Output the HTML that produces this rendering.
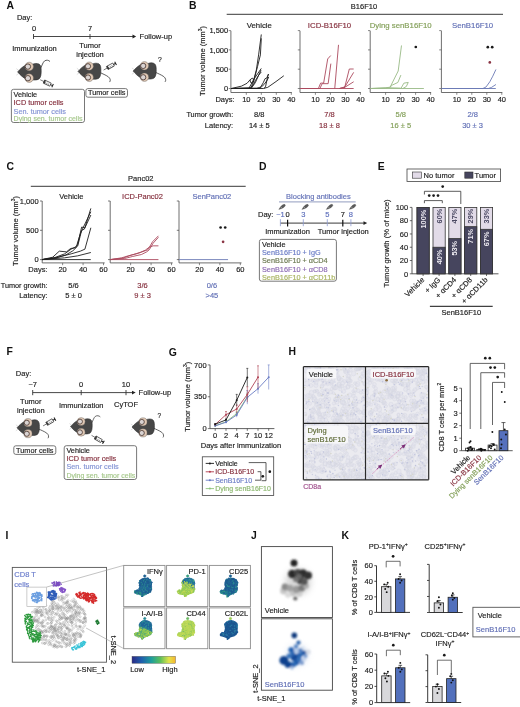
<!DOCTYPE html>
<html><head><meta charset="utf-8"><title>Figure</title>
<style>
html,body{margin:0;padding:0;background:#fff;}
body{width:520px;height:707px;overflow:hidden;}
svg{display:block;font-family:"Liberation Sans",Arial,Helvetica,sans-serif;}
</style></head><body>
<svg width="520" height="707" viewBox="0 0 520 707">
<rect width="520" height="707" fill="#fff"/>
<text x="6.40" y="9.20" font-size="10.4" fill="#111" font-weight="bold">A</text>
<text x="16.90" y="20.00" font-size="7.5" fill="#1e1e1e" stroke="#1e1e1e" stroke-width="0.16">Day:</text>
<text x="34.00" y="31.00" font-size="7.5" fill="#1e1e1e" stroke="#1e1e1e" stroke-width="0.16" text-anchor="middle">0</text>
<text x="90.00" y="31.00" font-size="7.5" fill="#1e1e1e" stroke="#1e1e1e" stroke-width="0.16" text-anchor="middle">7</text>
<line x1="33.50" y1="36.50" x2="133.50" y2="36.50" stroke="#333" stroke-width="0.9"/>
<path d="M132.5,34.6 L136.2,36.5 L132.5,38.4 Z" fill="#222" stroke="none" stroke-width="0.8"/>
<line x1="33.50" y1="34.00" x2="33.50" y2="39.00" stroke="#333" stroke-width="0.9"/>
<line x1="90.00" y1="34.00" x2="90.00" y2="39.00" stroke="#333" stroke-width="0.9"/>
<text x="139.60" y="39.20" font-size="7.5" fill="#1e1e1e" stroke="#1e1e1e" stroke-width="0.16">Follow-up</text>
<text x="34.50" y="50.90" font-size="7.5" fill="#1e1e1e" stroke="#1e1e1e" stroke-width="0.16" text-anchor="middle">Immunization</text>
<text x="90.00" y="48.00" font-size="7.5" fill="#1e1e1e" stroke="#1e1e1e" stroke-width="0.16" text-anchor="middle">Tumor</text>
<text x="90.00" y="56.90" font-size="7.5" fill="#1e1e1e" stroke="#1e1e1e" stroke-width="0.16" text-anchor="middle">injection</text>
<g transform="translate(17.60 71.90) scale(1.0)">
<path d="M23,-3.9 C24.6,-6.5 25.2,-9.6 27,-11 C28.8,-12.2 31,-11.8 32.4,-10.4" fill="none" stroke="#262626" stroke-width="0.75"/>
<path d="M0,0 C2.5,-2.8 5.5,-5.8 9,-7.2 L15,-7.6 C17,-8.6 19.5,-8.8 21.5,-7.8 C23.4,-6.6 23.6,-4 23.6,-1.5 C23.6,2 23.4,5.2 21.5,7 C19,8.6 15.5,8.2 13,7.6 L9,7.4 C5.5,6 2.5,2.8 0,0 Z" fill="#474747" stroke="#2a2a2a" stroke-width="0.6"/>
<circle cx="11.6" cy="-5.4" r="4.3" fill="#e0c8b4" stroke="#555" stroke-width="0.4"/>
<circle cx="10.3" cy="-5.3" r="2.7" fill="#d9d3d2" stroke="#3e2c26" stroke-width="0.8"/>
<circle cx="11.6" cy="6.2" r="4.3" fill="#e0c8b4" stroke="#555" stroke-width="0.4"/>
<circle cx="10.3" cy="6.3" r="2.7" fill="#d9d3d2" stroke="#3e2c26" stroke-width="0.8"/>
<path d="M1.2,-1.4 L-1.2,-3.2 M1.2,1.4 L-1.2,3.2" stroke="#aaa" stroke-width="0.4"/>
</g>
<g transform="translate(46.40 82.70) rotate(205.5) scale(0.9)">
<line x1="3.00" y1="0.00" x2="7.60" y2="0.00" stroke="#222" stroke-width="0.6"/>
<rect x="-5.00" y="-1.90" width="8.00" height="3.80" fill="#fafafa" stroke="#222" stroke-width="0.7"/>
<line x1="-2.80" y1="-1.90" x2="-2.80" y2="0.30" stroke="#333" stroke-width="0.5"/>
<line x1="-0.80" y1="-1.90" x2="-0.80" y2="0.30" stroke="#333" stroke-width="0.5"/>
<line x1="1.20" y1="-1.90" x2="1.20" y2="0.30" stroke="#333" stroke-width="0.5"/>
<rect x="1.40" y="-1.90" width="1.60" height="3.80" fill="#333" stroke="none" stroke-width="0.8"/>
<line x1="-5.00" y1="0.00" x2="-7.60" y2="0.00" stroke="#1a1a1a" stroke-width="1.1"/>
<line x1="-7.60" y1="-2.00" x2="-7.60" y2="2.00" stroke="#1a1a1a" stroke-width="1.1"/>
</g>
<g transform="translate(78.00 71.40) scale(0.97)">
<path d="M22.8,1.2 C25,2.4 28.5,3.6 31.3,5.6 C33.4,7.2 33.8,9.6 32.6,11" fill="none" stroke="#262626" stroke-width="0.75"/>
<path d="M0,0 C2.5,-2.8 5.5,-5.8 9,-7.2 L15,-7.6 C17,-8.6 19.5,-8.8 21.5,-7.8 C23.4,-6.6 23.6,-4 23.6,-1.5 C23.6,2 23.4,5.2 21.5,7 C19,8.6 15.5,8.2 13,7.6 L9,7.4 C5.5,6 2.5,2.8 0,0 Z" fill="#474747" stroke="#2a2a2a" stroke-width="0.6"/>
<circle cx="11.6" cy="-5.4" r="4.3" fill="#e0c8b4" stroke="#555" stroke-width="0.4"/>
<circle cx="10.3" cy="-5.3" r="2.7" fill="#d9d3d2" stroke="#3e2c26" stroke-width="0.8"/>
<circle cx="11.6" cy="6.2" r="4.3" fill="#e0c8b4" stroke="#555" stroke-width="0.4"/>
<circle cx="10.3" cy="6.3" r="2.7" fill="#d9d3d2" stroke="#3e2c26" stroke-width="0.8"/>
<path d="M1.2,-1.4 L-1.2,-3.2 M1.2,1.4 L-1.2,3.2" stroke="#aaa" stroke-width="0.4"/>
</g>
<g transform="translate(109.60 66.70) rotate(151) scale(0.9)">
<line x1="3.00" y1="0.00" x2="7.60" y2="0.00" stroke="#222" stroke-width="0.6"/>
<rect x="-5.00" y="-1.90" width="8.00" height="3.80" fill="#fafafa" stroke="#222" stroke-width="0.7"/>
<line x1="-2.80" y1="-1.90" x2="-2.80" y2="0.30" stroke="#333" stroke-width="0.5"/>
<line x1="-0.80" y1="-1.90" x2="-0.80" y2="0.30" stroke="#333" stroke-width="0.5"/>
<line x1="1.20" y1="-1.90" x2="1.20" y2="0.30" stroke="#333" stroke-width="0.5"/>
<rect x="1.40" y="-1.90" width="1.60" height="3.80" fill="#333" stroke="none" stroke-width="0.8"/>
<line x1="-5.00" y1="0.00" x2="-7.60" y2="0.00" stroke="#1a1a1a" stroke-width="1.1"/>
<line x1="-7.60" y1="-2.00" x2="-7.60" y2="2.00" stroke="#1a1a1a" stroke-width="1.1"/>
</g>
<g transform="translate(133.10 71.10) scale(0.98)">
<path d="M22.8,1.2 C25,2.4 28.5,3.6 31.3,5.6 C33.4,7.2 33.8,9.6 32.6,11" fill="none" stroke="#262626" stroke-width="0.75"/>
<path d="M0,0 C2.5,-2.8 5.5,-5.8 9,-7.2 L15,-7.6 C17,-8.6 19.5,-8.8 21.5,-7.8 C23.4,-6.6 23.6,-4 23.6,-1.5 C23.6,2 23.4,5.2 21.5,7 C19,8.6 15.5,8.2 13,7.6 L9,7.4 C5.5,6 2.5,2.8 0,0 Z" fill="#474747" stroke="#2a2a2a" stroke-width="0.6"/>
<circle cx="11.6" cy="-5.4" r="4.3" fill="#e0c8b4" stroke="#555" stroke-width="0.4"/>
<circle cx="10.3" cy="-5.3" r="2.7" fill="#d9d3d2" stroke="#3e2c26" stroke-width="0.8"/>
<circle cx="11.6" cy="6.2" r="4.3" fill="#e0c8b4" stroke="#555" stroke-width="0.4"/>
<circle cx="10.3" cy="6.3" r="2.7" fill="#d9d3d2" stroke="#3e2c26" stroke-width="0.8"/>
<path d="M1.2,-1.4 L-1.2,-3.2 M1.2,1.4 L-1.2,3.2" stroke="#aaa" stroke-width="0.4"/>
</g>
<text x="158.00" y="62.20" font-size="6.8" fill="#1e1e1e" stroke="#1e1e1e" stroke-width="0.16">?</text>
<rect x="11.40" y="89.30" width="73.10" height="33.20" fill="none" stroke="#555" stroke-width="0.8" rx="2.2"/>
<text x="13.60" y="97.00" font-size="7.3" fill="#1e1e1e" stroke="#1e1e1e" stroke-width="0.16">Vehicle</text>
<text x="13.60" y="105.40" font-size="7.3" fill="#86303e" stroke="#86303e" stroke-width="0.16">ICD tumor cells</text>
<text x="13.60" y="113.50" font-size="7.3" fill="#8494d4" stroke="#8494d4" stroke-width="0.16">Sen. tumor cells</text>
<text x="13.60" y="121.40" font-size="7.0" fill="#a6c88c" stroke="#a6c88c" stroke-width="0.16">Dying sen. tumor cells</text>
<rect x="85.90" y="88.60" width="41.60" height="8.60" fill="none" stroke="#555" stroke-width="0.8" rx="2.0"/>
<text x="106.70" y="95.40" font-size="7.3" fill="#1e1e1e" stroke="#1e1e1e" stroke-width="0.16" text-anchor="middle">Tumor cells</text>
<text x="189.00" y="9.20" font-size="10.4" fill="#111" font-weight="bold">B</text>
<text x="364.00" y="8.90" font-size="7.5" fill="#1e1e1e" stroke="#1e1e1e" stroke-width="0.16" text-anchor="middle">B16F10</text>
<line x1="226.70" y1="14.30" x2="503.00" y2="14.30" stroke="#222" stroke-width="0.9"/>
<text x="259.30" y="28.30" font-size="7.8" fill="#1e1e1e" stroke="#1e1e1e" stroke-width="0.16" text-anchor="middle">Vehicle</text>
<line x1="230.90" y1="30.80" x2="230.90" y2="92.50" stroke="#555" stroke-width="0.85"/>
<line x1="228.70" y1="88.50" x2="230.90" y2="88.50" stroke="#555" stroke-width="0.7"/>
<line x1="228.70" y1="69.20" x2="230.90" y2="69.20" stroke="#555" stroke-width="0.7"/>
<line x1="228.70" y1="49.90" x2="230.90" y2="49.90" stroke="#555" stroke-width="0.7"/>
<line x1="228.70" y1="30.60" x2="230.90" y2="30.60" stroke="#555" stroke-width="0.7"/>
<line x1="230.90" y1="92.50" x2="291.80" y2="92.50" stroke="#555" stroke-width="0.85"/>
<line x1="246.30" y1="92.50" x2="246.30" y2="94.80" stroke="#555" stroke-width="0.7"/>
<text x="246.30" y="101.70" font-size="7.5" fill="#1e1e1e" stroke="#1e1e1e" stroke-width="0.16" text-anchor="middle">10</text>
<line x1="261.30" y1="92.50" x2="261.30" y2="94.80" stroke="#555" stroke-width="0.7"/>
<text x="261.30" y="101.70" font-size="7.5" fill="#1e1e1e" stroke="#1e1e1e" stroke-width="0.16" text-anchor="middle">20</text>
<line x1="276.30" y1="92.50" x2="276.30" y2="94.80" stroke="#555" stroke-width="0.7"/>
<text x="276.30" y="101.70" font-size="7.5" fill="#1e1e1e" stroke="#1e1e1e" stroke-width="0.16" text-anchor="middle">30</text>
<line x1="291.30" y1="92.50" x2="291.30" y2="94.80" stroke="#555" stroke-width="0.7"/>
<text x="291.30" y="101.70" font-size="7.5" fill="#1e1e1e" stroke="#1e1e1e" stroke-width="0.16" text-anchor="middle">40</text>
<polyline points="231.30,88.50 241.35,86.18 247.05,83.29 250.05,79.81 252.30,78.08 253.80,79.62 256.35,69.97 258.60,54.92 261.30,34.46" fill="none" stroke="#1e1e1e" stroke-width="0.9" stroke-linejoin="round"/>
<polyline points="231.30,88.50 250.65,88.50 253.80,80.78 257.55,66.50 260.40,54.92 261.30,38.32" fill="none" stroke="#1e1e1e" stroke-width="0.9" stroke-linejoin="round"/>
<polyline points="231.30,88.50 248.85,88.50 253.80,79.24 261.30,68.43" fill="none" stroke="#1e1e1e" stroke-width="0.9" stroke-linejoin="round"/>
<polyline points="231.30,88.50 251.10,88.50 255.30,82.71 261.00,69.97" fill="none" stroke="#1e1e1e" stroke-width="0.9" stroke-linejoin="round"/>
<polyline points="231.30,88.50 250.80,87.73 253.05,85.03 255.30,80.78 258.30,75.76 261.30,71.90" fill="none" stroke="#1e1e1e" stroke-width="0.9" stroke-linejoin="round"/>
<polyline points="250.05,79.81 250.50,82.32 252.30,83.10 253.80,81.17 253.20,78.85" fill="none" stroke="#1e1e1e" stroke-width="0.9" stroke-linejoin="round"/>
<polyline points="231.30,88.50 259.80,88.50 263.25,82.71 265.05,78.66 266.70,78.08 268.50,74.03 267.60,76.92 265.65,86.18 264.30,88.50" fill="none" stroke="#1e1e1e" stroke-width="0.9" stroke-linejoin="round"/>
<polyline points="231.30,88.50 263.25,88.50 267.75,87.34 276.00,81.55 283.80,75.76" fill="none" stroke="#1e1e1e" stroke-width="0.9" stroke-linejoin="round"/>
<polyline points="231.30,88.50 256.80,88.11 261.30,86.96 264.30,84.25 267.30,80.01 268.80,76.92" fill="none" stroke="#1e1e1e" stroke-width="0.9" stroke-linejoin="round"/>
<text x="259.30" y="116.60" font-size="7.5" fill="#1e1e1e" stroke="#1e1e1e" stroke-width="0.16" text-anchor="middle">8/8</text>
<text x="259.30" y="128.20" font-size="7.5" fill="#1e1e1e" stroke="#1e1e1e" stroke-width="0.16" text-anchor="middle">14 &#177; 5</text>
<text x="234.60" y="101.70" font-size="7.5" fill="#1e1e1e" stroke="#1e1e1e" stroke-width="0.16" text-anchor="end">Days:</text>
<text x="233.20" y="116.60" font-size="7.3" fill="#1e1e1e" stroke="#1e1e1e" stroke-width="0.16" text-anchor="end">Tumor growth:</text>
<text x="233.20" y="128.20" font-size="7.5" fill="#1e1e1e" stroke="#1e1e1e" stroke-width="0.16" text-anchor="end">Latency:</text>
<text x="228.20" y="91.20" font-size="7.5" fill="#1e1e1e" stroke="#1e1e1e" stroke-width="0.16" text-anchor="end">0</text>
<text x="228.20" y="71.90" font-size="7.5" fill="#1e1e1e" stroke="#1e1e1e" stroke-width="0.16" text-anchor="end">500</text>
<text x="228.20" y="52.60" font-size="7.5" fill="#1e1e1e" stroke="#1e1e1e" stroke-width="0.16" text-anchor="end">1,000</text>
<text x="228.20" y="33.30" font-size="7.5" fill="#1e1e1e" stroke="#1e1e1e" stroke-width="0.16" text-anchor="end">1,500</text>
<text x="204.50" y="61.00" font-size="7.5" fill="#1e1e1e" stroke="#1e1e1e" stroke-width="0.16" text-anchor="middle" transform="rotate(-90 204.50 61.00)">Tumor volume (mm<tspan font-size="5" dy="-3">3</tspan><tspan dy="3">)</tspan></text>
<text x="329.50" y="28.30" font-size="7.8" fill="#86303e" stroke="#86303e" stroke-width="0.16" text-anchor="middle">ICD-B16F10</text>
<line x1="300.00" y1="30.80" x2="300.00" y2="92.50" stroke="#555" stroke-width="0.85"/>
<line x1="297.80" y1="88.50" x2="300.00" y2="88.50" stroke="#555" stroke-width="0.7"/>
<line x1="297.80" y1="69.20" x2="300.00" y2="69.20" stroke="#555" stroke-width="0.7"/>
<line x1="297.80" y1="49.90" x2="300.00" y2="49.90" stroke="#555" stroke-width="0.7"/>
<line x1="297.80" y1="30.60" x2="300.00" y2="30.60" stroke="#555" stroke-width="0.7"/>
<line x1="300.00" y1="92.50" x2="360.90" y2="92.50" stroke="#555" stroke-width="0.85"/>
<line x1="315.40" y1="92.50" x2="315.40" y2="94.80" stroke="#555" stroke-width="0.7"/>
<text x="315.40" y="101.70" font-size="7.5" fill="#1e1e1e" stroke="#1e1e1e" stroke-width="0.16" text-anchor="middle">10</text>
<line x1="330.40" y1="92.50" x2="330.40" y2="94.80" stroke="#555" stroke-width="0.7"/>
<text x="330.40" y="101.70" font-size="7.5" fill="#1e1e1e" stroke="#1e1e1e" stroke-width="0.16" text-anchor="middle">20</text>
<line x1="345.40" y1="92.50" x2="345.40" y2="94.80" stroke="#555" stroke-width="0.7"/>
<text x="345.40" y="101.70" font-size="7.5" fill="#1e1e1e" stroke="#1e1e1e" stroke-width="0.16" text-anchor="middle">30</text>
<line x1="360.40" y1="92.50" x2="360.40" y2="94.80" stroke="#555" stroke-width="0.7"/>
<text x="360.40" y="101.70" font-size="7.5" fill="#1e1e1e" stroke="#1e1e1e" stroke-width="0.16" text-anchor="middle">40</text>
<polyline points="300.40,88.50 353.65,88.50" fill="none" stroke="#ac4a5e" stroke-width="0.9" stroke-linejoin="round"/>
<polyline points="300.40,88.50 318.40,88.50 320.65,83.10 323.65,83.10 327.70,58.93 330.70,55.57" fill="none" stroke="#ac4a5e" stroke-width="0.9" stroke-linejoin="round"/>
<polyline points="300.40,88.50 319.90,88.50 322.15,83.67 328.15,83.67 330.85,63.64" fill="none" stroke="#ac4a5e" stroke-width="0.9" stroke-linejoin="round"/>
<polyline points="334.75,88.50 338.50,44.84" fill="none" stroke="#ac4a5e" stroke-width="0.9" stroke-linejoin="round"/>
<polyline points="339.40,88.50 344.80,86.96 349.30,69.01 353.65,69.01" fill="none" stroke="#ac4a5e" stroke-width="0.9" stroke-linejoin="round"/>
<polyline points="343.90,88.50 353.65,72.37" fill="none" stroke="#ac4a5e" stroke-width="0.9" stroke-linejoin="round"/>
<polyline points="339.40,88.50 345.40,86.96 353.65,81.78" fill="none" stroke="#ac4a5e" stroke-width="0.9" stroke-linejoin="round"/>
<text x="329.50" y="116.60" font-size="7.5" fill="#86303e" stroke="#86303e" stroke-width="0.16" text-anchor="middle">7/8</text>
<text x="329.50" y="128.20" font-size="7.5" fill="#86303e" stroke="#86303e" stroke-width="0.16" text-anchor="middle">18 &#177; 8</text>
<text x="400.70" y="28.30" font-size="7.8" fill="#84a05a" stroke="#84a05a" stroke-width="0.16" text-anchor="middle">Dying senB16F10</text>
<line x1="370.20" y1="30.80" x2="370.20" y2="92.50" stroke="#555" stroke-width="0.85"/>
<line x1="368.00" y1="88.50" x2="370.20" y2="88.50" stroke="#555" stroke-width="0.7"/>
<line x1="368.00" y1="69.20" x2="370.20" y2="69.20" stroke="#555" stroke-width="0.7"/>
<line x1="368.00" y1="49.90" x2="370.20" y2="49.90" stroke="#555" stroke-width="0.7"/>
<line x1="368.00" y1="30.60" x2="370.20" y2="30.60" stroke="#555" stroke-width="0.7"/>
<line x1="370.20" y1="92.50" x2="431.10" y2="92.50" stroke="#555" stroke-width="0.85"/>
<line x1="385.60" y1="92.50" x2="385.60" y2="94.80" stroke="#555" stroke-width="0.7"/>
<text x="385.60" y="101.70" font-size="7.5" fill="#1e1e1e" stroke="#1e1e1e" stroke-width="0.16" text-anchor="middle">10</text>
<line x1="400.60" y1="92.50" x2="400.60" y2="94.80" stroke="#555" stroke-width="0.7"/>
<text x="400.60" y="101.70" font-size="7.5" fill="#1e1e1e" stroke="#1e1e1e" stroke-width="0.16" text-anchor="middle">20</text>
<line x1="415.60" y1="92.50" x2="415.60" y2="94.80" stroke="#555" stroke-width="0.7"/>
<text x="415.60" y="101.70" font-size="7.5" fill="#1e1e1e" stroke="#1e1e1e" stroke-width="0.16" text-anchor="middle">30</text>
<line x1="430.60" y1="92.50" x2="430.60" y2="94.80" stroke="#555" stroke-width="0.7"/>
<text x="430.60" y="101.70" font-size="7.5" fill="#1e1e1e" stroke="#1e1e1e" stroke-width="0.16" text-anchor="middle">40</text>
<polyline points="370.60,88.50 423.85,88.50" fill="none" stroke="#98ba86" stroke-width="0.9" stroke-linejoin="round"/>
<polyline points="370.60,88.50 385.60,87.92 390.10,87.15 398.20,71.01 401.50,45.46" fill="none" stroke="#98ba86" stroke-width="0.9" stroke-linejoin="round"/>
<polyline points="390.10,87.15 392.20,85.14 397.90,82.44 400.90,75.07" fill="none" stroke="#98ba86" stroke-width="0.9" stroke-linejoin="round"/>
<polyline points="400.90,88.50 403.90,83.13 408.25,82.44 406.30,86.49 402.85,88.50" fill="none" stroke="#98ba86" stroke-width="0.9" stroke-linejoin="round"/>
<polyline points="370.60,88.50 388.60,87.73 400.60,88.11" fill="none" stroke="#98ba86" stroke-width="0.9" stroke-linejoin="round"/>
<text x="400.70" y="116.60" font-size="7.5" fill="#84a05a" stroke="#84a05a" stroke-width="0.16" text-anchor="middle">5/8</text>
<text x="400.70" y="128.20" font-size="7.5" fill="#84a05a" stroke="#84a05a" stroke-width="0.16" text-anchor="middle">16 &#177; 5</text>
<circle cx="415.80" cy="47.00" r="1.35" fill="#1a1a1a"/>
<text x="472.60" y="28.30" font-size="7.8" fill="#6270b6" stroke="#6270b6" stroke-width="0.16" text-anchor="middle">SenB16F10</text>
<line x1="441.40" y1="30.80" x2="441.40" y2="92.50" stroke="#555" stroke-width="0.85"/>
<line x1="439.20" y1="88.50" x2="441.40" y2="88.50" stroke="#555" stroke-width="0.7"/>
<line x1="439.20" y1="69.20" x2="441.40" y2="69.20" stroke="#555" stroke-width="0.7"/>
<line x1="439.20" y1="49.90" x2="441.40" y2="49.90" stroke="#555" stroke-width="0.7"/>
<line x1="439.20" y1="30.60" x2="441.40" y2="30.60" stroke="#555" stroke-width="0.7"/>
<line x1="441.40" y1="92.50" x2="502.30" y2="92.50" stroke="#555" stroke-width="0.85"/>
<line x1="456.80" y1="92.50" x2="456.80" y2="94.80" stroke="#555" stroke-width="0.7"/>
<text x="456.80" y="101.70" font-size="7.5" fill="#1e1e1e" stroke="#1e1e1e" stroke-width="0.16" text-anchor="middle">10</text>
<line x1="471.80" y1="92.50" x2="471.80" y2="94.80" stroke="#555" stroke-width="0.7"/>
<text x="471.80" y="101.70" font-size="7.5" fill="#1e1e1e" stroke="#1e1e1e" stroke-width="0.16" text-anchor="middle">20</text>
<line x1="486.80" y1="92.50" x2="486.80" y2="94.80" stroke="#555" stroke-width="0.7"/>
<text x="486.80" y="101.70" font-size="7.5" fill="#1e1e1e" stroke="#1e1e1e" stroke-width="0.16" text-anchor="middle">30</text>
<line x1="501.80" y1="92.50" x2="501.80" y2="94.80" stroke="#555" stroke-width="0.7"/>
<text x="501.80" y="101.70" font-size="7.5" fill="#1e1e1e" stroke="#1e1e1e" stroke-width="0.16" text-anchor="middle">40</text>
<polyline points="441.80,88.50 495.80,88.50" fill="none" stroke="#6c7ab6" stroke-width="0.9" stroke-linejoin="round"/>
<polyline points="441.80,88.50 482.90,88.50 486.05,86.96 489.80,81.78 492.80,76.15 495.95,69.43" fill="none" stroke="#6c7ab6" stroke-width="0.9" stroke-linejoin="round"/>
<polyline points="441.80,88.50 488.30,88.50 491.30,87.53 495.95,84.49" fill="none" stroke="#6c7ab6" stroke-width="0.9" stroke-linejoin="round"/>
<text x="472.60" y="116.60" font-size="7.5" fill="#6270b6" stroke="#6270b6" stroke-width="0.16" text-anchor="middle">2/8</text>
<text x="472.60" y="128.20" font-size="7.5" fill="#6270b6" stroke="#6270b6" stroke-width="0.16" text-anchor="middle">30 &#177; 3</text>
<circle cx="487.80" cy="47.20" r="1.35" fill="#1a1a1a"/>
<circle cx="492.20" cy="47.20" r="1.35" fill="#1a1a1a"/>
<circle cx="489.80" cy="62.40" r="1.35" fill="#8a3444"/>
<text x="6.40" y="169.80" font-size="10.4" fill="#111" font-weight="bold">C</text>
<text x="140.80" y="181.20" font-size="7.5" fill="#1e1e1e" stroke="#1e1e1e" stroke-width="0.16" text-anchor="middle">Panc02</text>
<line x1="30.80" y1="186.30" x2="245.70" y2="186.30" stroke="#222" stroke-width="0.9"/>
<text x="71.30" y="199.40" font-size="7.5" fill="#1e1e1e" stroke="#1e1e1e" stroke-width="0.16" text-anchor="middle">Vehicle</text>
<line x1="42.20" y1="201.00" x2="42.20" y2="262.90" stroke="#555" stroke-width="0.85"/>
<line x1="40.00" y1="259.60" x2="42.20" y2="259.60" stroke="#444" stroke-width="0.7"/>
<line x1="40.00" y1="230.30" x2="42.20" y2="230.30" stroke="#444" stroke-width="0.7"/>
<line x1="40.00" y1="201.00" x2="42.20" y2="201.00" stroke="#444" stroke-width="0.7"/>
<line x1="42.20" y1="262.90" x2="104.70" y2="262.90" stroke="#555" stroke-width="0.85"/>
<line x1="62.64" y1="262.90" x2="62.64" y2="265.20" stroke="#555" stroke-width="0.7"/>
<text x="62.64" y="271.50" font-size="7.5" fill="#1e1e1e" stroke="#1e1e1e" stroke-width="0.16" text-anchor="middle">20</text>
<line x1="83.08" y1="262.90" x2="83.08" y2="265.20" stroke="#555" stroke-width="0.7"/>
<text x="83.08" y="271.50" font-size="7.5" fill="#1e1e1e" stroke="#1e1e1e" stroke-width="0.16" text-anchor="middle">40</text>
<line x1="103.52" y1="262.90" x2="103.52" y2="265.20" stroke="#555" stroke-width="0.7"/>
<text x="103.52" y="271.50" font-size="7.5" fill="#1e1e1e" stroke="#1e1e1e" stroke-width="0.16" text-anchor="middle">60</text>
<polyline points="42.20,259.60 90.75,259.60" fill="none" stroke="#1e1e1e" stroke-width="0.9" stroke-linejoin="round"/>
<polyline points="42.20,259.60 52.73,257.20 59.27,251.16 66.52,251.86 70.51,248.52 75.11,247.82 77.66,244.48 81.65,227.08 84.92,227.78 90.85,208.38" fill="none" stroke="#1e1e1e" stroke-width="0.9" stroke-linejoin="round"/>
<polyline points="42.20,259.60 54.06,257.84 64.58,253.86 71.12,249.17 76.44,246.47 80.32,233.82 83.08,227.78 90.85,211.72" fill="none" stroke="#1e1e1e" stroke-width="0.9" stroke-linejoin="round"/>
<polyline points="42.20,259.60 55.38,258.14 65.91,254.91 72.86,250.81 77.66,246.12 81.65,230.30 84.31,229.13 90.85,215.06" fill="none" stroke="#1e1e1e" stroke-width="0.9" stroke-linejoin="round"/>
<polyline points="42.20,259.60 57.94,257.20 71.12,253.86 80.32,251.16 84.92,249.17 90.85,227.78" fill="none" stroke="#1e1e1e" stroke-width="0.9" stroke-linejoin="round"/>
<polyline points="42.20,259.60 64.58,257.84 77.66,255.85 90.85,252.51" fill="none" stroke="#1e1e1e" stroke-width="0.9" stroke-linejoin="round"/>
<text x="73.50" y="288.30" font-size="7.5" fill="#1e1e1e" stroke="#1e1e1e" stroke-width="0.16" text-anchor="middle">5/6</text>
<text x="73.50" y="298.30" font-size="7.5" fill="#1e1e1e" stroke="#1e1e1e" stroke-width="0.16" text-anchor="middle">5 &#177; 0</text>
<text x="47.50" y="271.50" font-size="7.5" fill="#1e1e1e" stroke="#1e1e1e" stroke-width="0.16" text-anchor="end">Days:</text>
<text x="47.50" y="288.30" font-size="7.3" fill="#1e1e1e" stroke="#1e1e1e" stroke-width="0.16" text-anchor="end">Tumor growth:</text>
<text x="47.50" y="298.30" font-size="7.5" fill="#1e1e1e" stroke="#1e1e1e" stroke-width="0.16" text-anchor="end">Latency:</text>
<text x="38.60" y="262.30" font-size="7.5" fill="#1e1e1e" stroke="#1e1e1e" stroke-width="0.16" text-anchor="end">0</text>
<text x="38.60" y="233.00" font-size="7.5" fill="#1e1e1e" stroke="#1e1e1e" stroke-width="0.16" text-anchor="end">500</text>
<text x="38.60" y="203.70" font-size="7.5" fill="#1e1e1e" stroke="#1e1e1e" stroke-width="0.16" text-anchor="end">1,000</text>
<text x="17.60" y="231.00" font-size="7.5" fill="#1e1e1e" stroke="#1e1e1e" stroke-width="0.16" text-anchor="middle" transform="rotate(-90 17.60 231.00)">Tumor volume (mm<tspan font-size="5" dy="-3">3</tspan><tspan dy="3">)</tspan></text>
<text x="142.50" y="199.40" font-size="7.5" fill="#86303e" stroke="#86303e" stroke-width="0.16" text-anchor="middle">ICD-Panc02</text>
<line x1="110.20" y1="201.00" x2="110.20" y2="262.90" stroke="#555" stroke-width="0.85"/>
<line x1="108.00" y1="259.60" x2="110.20" y2="259.60" stroke="#444" stroke-width="0.7"/>
<line x1="108.00" y1="230.30" x2="110.20" y2="230.30" stroke="#444" stroke-width="0.7"/>
<line x1="108.00" y1="201.00" x2="110.20" y2="201.00" stroke="#444" stroke-width="0.7"/>
<line x1="110.20" y1="262.90" x2="172.70" y2="262.90" stroke="#555" stroke-width="0.85"/>
<line x1="130.64" y1="262.90" x2="130.64" y2="265.20" stroke="#555" stroke-width="0.7"/>
<text x="130.64" y="271.50" font-size="7.5" fill="#1e1e1e" stroke="#1e1e1e" stroke-width="0.16" text-anchor="middle">20</text>
<line x1="151.08" y1="262.90" x2="151.08" y2="265.20" stroke="#555" stroke-width="0.7"/>
<text x="151.08" y="271.50" font-size="7.5" fill="#1e1e1e" stroke="#1e1e1e" stroke-width="0.16" text-anchor="middle">40</text>
<line x1="171.52" y1="262.90" x2="171.52" y2="265.20" stroke="#555" stroke-width="0.7"/>
<text x="171.52" y="271.50" font-size="7.5" fill="#1e1e1e" stroke="#1e1e1e" stroke-width="0.16" text-anchor="middle">60</text>
<polyline points="110.20,259.60 158.44,259.60" fill="none" stroke="#ac4a5e" stroke-width="0.9" stroke-linejoin="round"/>
<polyline points="110.20,259.60 121.65,257.84 128.19,255.85 136.16,253.86 144.03,251.16 147.91,249.81 152.51,241.79 158.44,235.81" fill="none" stroke="#ac4a5e" stroke-width="0.9" stroke-linejoin="round"/>
<polyline points="110.20,259.60 122.98,258.14 130.95,255.21 140.14,252.51 145.36,250.11 149.24,247.18 153.12,245.83 158.44,245.83" fill="none" stroke="#ac4a5e" stroke-width="0.9" stroke-linejoin="round"/>
<polyline points="110.20,259.60 124.41,258.55 132.28,256.55 141.47,254.50 146.69,251.86 149.24,249.81 153.12,243.19 158.44,237.33" fill="none" stroke="#ac4a5e" stroke-width="0.9" stroke-linejoin="round"/>
<text x="142.50" y="288.30" font-size="7.5" fill="#86303e" stroke="#86303e" stroke-width="0.16" text-anchor="middle">3/6</text>
<text x="142.50" y="298.30" font-size="7.5" fill="#86303e" stroke="#86303e" stroke-width="0.16" text-anchor="middle">9 &#177; 3</text>
<text x="211.90" y="199.40" font-size="7.5" fill="#6270b6" stroke="#6270b6" stroke-width="0.16" text-anchor="middle">SenPanc02</text>
<line x1="179.00" y1="201.00" x2="179.00" y2="262.90" stroke="#555" stroke-width="0.85"/>
<line x1="176.80" y1="259.60" x2="179.00" y2="259.60" stroke="#444" stroke-width="0.7"/>
<line x1="176.80" y1="230.30" x2="179.00" y2="230.30" stroke="#444" stroke-width="0.7"/>
<line x1="176.80" y1="201.00" x2="179.00" y2="201.00" stroke="#444" stroke-width="0.7"/>
<line x1="179.00" y1="262.90" x2="241.50" y2="262.90" stroke="#555" stroke-width="0.85"/>
<line x1="199.44" y1="262.90" x2="199.44" y2="265.20" stroke="#555" stroke-width="0.7"/>
<text x="199.44" y="271.50" font-size="7.5" fill="#1e1e1e" stroke="#1e1e1e" stroke-width="0.16" text-anchor="middle">20</text>
<line x1="219.88" y1="262.90" x2="219.88" y2="265.20" stroke="#555" stroke-width="0.7"/>
<text x="219.88" y="271.50" font-size="7.5" fill="#1e1e1e" stroke="#1e1e1e" stroke-width="0.16" text-anchor="middle">40</text>
<line x1="240.32" y1="262.90" x2="240.32" y2="265.20" stroke="#555" stroke-width="0.7"/>
<text x="240.32" y="271.50" font-size="7.5" fill="#1e1e1e" stroke="#1e1e1e" stroke-width="0.16" text-anchor="middle">60</text>
<polyline points="179.00,259.60 228.06,259.60" fill="none" stroke="#6c7ab6" stroke-width="0.9" stroke-linejoin="round"/>
<text x="211.90" y="288.30" font-size="7.5" fill="#6270b6" stroke="#6270b6" stroke-width="0.16" text-anchor="middle">0/6</text>
<text x="211.90" y="298.30" font-size="7.5" fill="#6270b6" stroke="#6270b6" stroke-width="0.16" text-anchor="middle">&gt;45</text>
<circle cx="220.60" cy="227.50" r="1.35" fill="#1a1a1a"/>
<circle cx="225.20" cy="227.50" r="1.35" fill="#1a1a1a"/>
<circle cx="223.10" cy="241.80" r="1.35" fill="#8a3444"/>
<text x="259.00" y="169.70" font-size="10.4" fill="#111" font-weight="bold">D</text>
<text x="318.40" y="198.60" font-size="7.5" fill="#6674b8" stroke="#6674b8" stroke-width="0.16" text-anchor="middle">Blocking antibodies</text>
<line x1="279.00" y1="201.80" x2="355.70" y2="201.80" stroke="#a8b0cc" stroke-width="1.2"/>
<g transform="translate(278.80 209.40) rotate(-36)"><path d="M0,0 L3,-1.1 C5,-1.6 7.2,-1.5 7.8,-0.4 C8.2,0.6 7.2,1.3 5,1.3 L3,1.1 Z" fill="#5a5a5a" stroke="#444" stroke-width="0.3"/><line x1="3.2" y1="-0.9" x2="3.2" y2="1.0" stroke="#ddd" stroke-width="0.4"/></g>
<g transform="translate(301.90 209.40) rotate(-36)"><path d="M0,0 L3,-1.1 C5,-1.6 7.2,-1.5 7.8,-0.4 C8.2,0.6 7.2,1.3 5,1.3 L3,1.1 Z" fill="#5a5a5a" stroke="#444" stroke-width="0.3"/><line x1="3.2" y1="-0.9" x2="3.2" y2="1.0" stroke="#ddd" stroke-width="0.4"/></g>
<g transform="translate(326.30 209.40) rotate(-36)"><path d="M0,0 L3,-1.1 C5,-1.6 7.2,-1.5 7.8,-0.4 C8.2,0.6 7.2,1.3 5,1.3 L3,1.1 Z" fill="#5a5a5a" stroke="#444" stroke-width="0.3"/><line x1="3.2" y1="-0.9" x2="3.2" y2="1.0" stroke="#ddd" stroke-width="0.4"/></g>
<g transform="translate(349.30 209.40) rotate(-36)"><path d="M0,0 L3,-1.1 C5,-1.6 7.2,-1.5 7.8,-0.4 C8.2,0.6 7.2,1.3 5,1.3 L3,1.1 Z" fill="#5a5a5a" stroke="#444" stroke-width="0.3"/><line x1="3.2" y1="-0.9" x2="3.2" y2="1.0" stroke="#ddd" stroke-width="0.4"/></g>
<text x="258.00" y="217.40" font-size="7.5" fill="#1e1e1e" stroke="#1e1e1e" stroke-width="0.16">Day:</text>
<text x="284.80" y="217.40" font-size="7.5" fill="#5f70bc" stroke="#5f70bc" stroke-width="0.16" text-anchor="end">&#8722;1</text>
<text x="287.60" y="217.40" font-size="7.5" fill="#1e1e1e" stroke="#1e1e1e" stroke-width="0.16" text-anchor="middle">0</text>
<text x="303.30" y="217.40" font-size="7.5" fill="#5f70bc" stroke="#5f70bc" stroke-width="0.16" text-anchor="middle">3</text>
<text x="327.30" y="217.40" font-size="7.5" fill="#5f70bc" stroke="#5f70bc" stroke-width="0.16" text-anchor="middle">5</text>
<text x="342.80" y="217.40" font-size="7.5" fill="#1e1e1e" stroke="#1e1e1e" stroke-width="0.16" text-anchor="middle">7</text>
<text x="350.90" y="217.40" font-size="7.5" fill="#5f70bc" stroke="#5f70bc" stroke-width="0.16" text-anchor="middle">8</text>
<line x1="280.40" y1="223.10" x2="364.50" y2="223.10" stroke="#222" stroke-width="0.9"/>
<path d="M363.5,221.2 L367.2,223.1 L363.5,225.0 Z" fill="#222" stroke="none" stroke-width="0.8"/>
<line x1="280.40" y1="219.20" x2="280.40" y2="226.20" stroke="#8d9ad0" stroke-width="0.8"/>
<line x1="303.30" y1="219.20" x2="303.30" y2="226.20" stroke="#8d9ad0" stroke-width="0.8"/>
<line x1="327.30" y1="219.20" x2="327.30" y2="226.20" stroke="#8d9ad0" stroke-width="0.8"/>
<line x1="350.90" y1="219.20" x2="350.90" y2="226.20" stroke="#8d9ad0" stroke-width="0.8"/>
<line x1="287.60" y1="219.80" x2="287.60" y2="226.40" stroke="#111" stroke-width="1.2"/>
<line x1="342.80" y1="219.80" x2="342.80" y2="226.40" stroke="#111" stroke-width="1.2"/>
<text x="287.60" y="233.50" font-size="7.5" fill="#1e1e1e" stroke="#1e1e1e" stroke-width="0.16" text-anchor="middle">Immunization</text>
<text x="343.30" y="233.50" font-size="7.5" fill="#1e1e1e" stroke="#1e1e1e" stroke-width="0.16" text-anchor="middle">Tumor injection</text>
<rect x="259.40" y="239.40" width="77.00" height="41.80" fill="none" stroke="#555" stroke-width="0.8" rx="2.2"/>
<text x="262.00" y="247.10" font-size="7.3" fill="#1e1e1e" stroke="#1e1e1e" stroke-width="0.16">Vehicle</text>
<text x="262.00" y="255.25" font-size="7.3" fill="#6a7cc6" stroke="#6a7cc6" stroke-width="0.16">SenB16F10 + IgG</text>
<text x="262.00" y="263.40" font-size="7.3" fill="#6c7a52" stroke="#6c7a52" stroke-width="0.16">SenB16F10 + &#945;CD4</text>
<text x="262.00" y="271.55" font-size="7.3" fill="#8e6cb4" stroke="#8e6cb4" stroke-width="0.16">SenB16F10 + &#945;CD8</text>
<text x="262.00" y="279.70" font-size="7.3" fill="#a9b460" stroke="#a9b460" stroke-width="0.16">SenB16F10 + &#945;CD11b</text>
<text x="377.80" y="169.80" font-size="10.4" fill="#111" font-weight="bold">E</text>
<rect x="407.00" y="169.00" width="93.60" height="12.40" fill="none" stroke="#444" stroke-width="0.8"/>
<rect x="412.30" y="172.00" width="9.00" height="6.20" fill="#e2dbe8" stroke="#333" stroke-width="0.6"/>
<text x="423.60" y="178.00" font-size="7.5" fill="#1e1e1e" stroke="#1e1e1e" stroke-width="0.16">No tumor</text>
<rect x="464.80" y="172.00" width="8.20" height="6.20" fill="#46455e" stroke="#333" stroke-width="0.6"/>
<text x="474.60" y="178.00" font-size="7.5" fill="#1e1e1e" stroke="#1e1e1e" stroke-width="0.16">Tumor</text>
<line x1="412.00" y1="207.40" x2="412.00" y2="273.80" stroke="#333" stroke-width="0.8"/>
<line x1="412.00" y1="273.80" x2="498.50" y2="273.80" stroke="#333" stroke-width="0.8"/>
<line x1="409.80" y1="273.80" x2="412.00" y2="273.80" stroke="#333" stroke-width="0.7"/>
<text x="408.20" y="276.50" font-size="7.5" fill="#1e1e1e" stroke="#1e1e1e" stroke-width="0.16" text-anchor="end">0</text>
<line x1="409.80" y1="260.52" x2="412.00" y2="260.52" stroke="#333" stroke-width="0.7"/>
<text x="408.20" y="263.22" font-size="7.5" fill="#1e1e1e" stroke="#1e1e1e" stroke-width="0.16" text-anchor="end">20</text>
<line x1="409.80" y1="247.24" x2="412.00" y2="247.24" stroke="#333" stroke-width="0.7"/>
<text x="408.20" y="249.94" font-size="7.5" fill="#1e1e1e" stroke="#1e1e1e" stroke-width="0.16" text-anchor="end">40</text>
<line x1="409.80" y1="233.96" x2="412.00" y2="233.96" stroke="#333" stroke-width="0.7"/>
<text x="408.20" y="236.66" font-size="7.5" fill="#1e1e1e" stroke="#1e1e1e" stroke-width="0.16" text-anchor="end">60</text>
<line x1="409.80" y1="220.68" x2="412.00" y2="220.68" stroke="#333" stroke-width="0.7"/>
<text x="408.20" y="223.38" font-size="7.5" fill="#1e1e1e" stroke="#1e1e1e" stroke-width="0.16" text-anchor="end">80</text>
<line x1="409.80" y1="207.40" x2="412.00" y2="207.40" stroke="#333" stroke-width="0.7"/>
<text x="408.20" y="210.10" font-size="7.5" fill="#1e1e1e" stroke="#1e1e1e" stroke-width="0.16" text-anchor="end">100</text>
<rect x="417.00" y="207.40" width="12.20" height="66.40" fill="#e2dbe8" stroke="#333" stroke-width="0.8"/>
<rect x="417.00" y="207.40" width="12.20" height="66.40" fill="#46455e" stroke="#333" stroke-width="0.8"/>
<text x="425.60" y="209.60" font-size="7.4" fill="#f0eef4" text-anchor="end" font-weight="bold" transform="rotate(-90 425.60 209.60)">100%</text>
<line x1="423.10" y1="273.80" x2="423.10" y2="276.00" stroke="#333" stroke-width="0.7"/>
<rect x="433.00" y="207.40" width="12.20" height="66.40" fill="#e2dbe8" stroke="#333" stroke-width="0.8"/>
<rect x="433.00" y="247.24" width="12.20" height="26.56" fill="#46455e" stroke="#333" stroke-width="0.8"/>
<text x="441.60" y="249.44" font-size="7.4" fill="#f0eef4" text-anchor="end" font-weight="bold" transform="rotate(-90 441.60 249.44)">40%</text>
<text x="441.60" y="208.60" font-size="7.4" fill="#4a4862" text-anchor="end" font-weight="bold" transform="rotate(-90 441.60 208.60)">60%</text>
<line x1="439.10" y1="273.80" x2="439.10" y2="276.00" stroke="#333" stroke-width="0.7"/>
<rect x="448.80" y="207.40" width="12.20" height="66.40" fill="#e2dbe8" stroke="#333" stroke-width="0.8"/>
<rect x="448.80" y="238.61" width="12.20" height="35.19" fill="#46455e" stroke="#333" stroke-width="0.8"/>
<text x="457.40" y="240.81" font-size="7.4" fill="#f0eef4" text-anchor="end" font-weight="bold" transform="rotate(-90 457.40 240.81)">53%</text>
<text x="457.40" y="208.60" font-size="7.4" fill="#4a4862" text-anchor="end" font-weight="bold" transform="rotate(-90 457.40 208.60)">47%</text>
<line x1="454.90" y1="273.80" x2="454.90" y2="276.00" stroke="#333" stroke-width="0.7"/>
<rect x="464.60" y="207.40" width="12.20" height="66.40" fill="#e2dbe8" stroke="#333" stroke-width="0.8"/>
<rect x="464.60" y="226.66" width="12.20" height="47.14" fill="#46455e" stroke="#333" stroke-width="0.8"/>
<text x="473.20" y="228.86" font-size="7.4" fill="#f0eef4" text-anchor="end" font-weight="bold" transform="rotate(-90 473.20 228.86)">71%</text>
<text x="473.20" y="208.60" font-size="7.4" fill="#4a4862" text-anchor="end" font-weight="bold" transform="rotate(-90 473.20 208.60)">29%</text>
<line x1="470.70" y1="273.80" x2="470.70" y2="276.00" stroke="#333" stroke-width="0.7"/>
<rect x="480.40" y="207.40" width="12.20" height="66.40" fill="#e2dbe8" stroke="#333" stroke-width="0.8"/>
<rect x="480.40" y="229.31" width="12.20" height="44.49" fill="#46455e" stroke="#333" stroke-width="0.8"/>
<text x="489.00" y="231.51" font-size="7.4" fill="#f0eef4" text-anchor="end" font-weight="bold" transform="rotate(-90 489.00 231.51)">67%</text>
<text x="489.00" y="208.60" font-size="7.4" fill="#4a4862" text-anchor="end" font-weight="bold" transform="rotate(-90 489.00 208.60)">33%</text>
<line x1="486.50" y1="273.80" x2="486.50" y2="276.00" stroke="#333" stroke-width="0.7"/>
<text x="389.30" y="243.50" font-size="7.7" fill="#1e1e1e" stroke="#1e1e1e" stroke-width="0.16" text-anchor="middle" transform="rotate(-90 389.30 243.50)">Tumor growth (% of mice)</text>
<path d="M424.4,194.5 L424.4,191.3 L460.8,191.3 L460.8,204.0" fill="none" stroke="#333" stroke-width="0.8"/>
<circle cx="442.70" cy="186.60" r="1.35" fill="#1a1a1a"/>
<path d="M424.4,203.2 L424.4,200.6 L442.3,200.6 L442.3,203.2" fill="none" stroke="#333" stroke-width="0.8"/>
<circle cx="429.20" cy="195.60" r="1.35" fill="#1a1a1a"/>
<circle cx="433.60" cy="195.60" r="1.35" fill="#1a1a1a"/>
<circle cx="438.00" cy="195.60" r="1.35" fill="#1a1a1a"/>
<text x="424.90" y="280.40" font-size="7.5" fill="#1e1e1e" stroke="#1e1e1e" stroke-width="0.16" text-anchor="end" transform="rotate(-45 424.90 280.40)">Vehicle</text>
<text x="440.90" y="280.40" font-size="7.5" fill="#1e1e1e" stroke="#1e1e1e" stroke-width="0.16" text-anchor="end" transform="rotate(-45 440.90 280.40)">+ IgG</text>
<text x="456.70" y="280.40" font-size="7.5" fill="#1e1e1e" stroke="#1e1e1e" stroke-width="0.16" text-anchor="end" transform="rotate(-45 456.70 280.40)">+ &#945;CD4</text>
<text x="472.50" y="280.40" font-size="7.5" fill="#1e1e1e" stroke="#1e1e1e" stroke-width="0.16" text-anchor="end" transform="rotate(-45 472.50 280.40)">+ &#945;CD8</text>
<text x="488.30" y="280.40" font-size="7.5" fill="#1e1e1e" stroke="#1e1e1e" stroke-width="0.16" text-anchor="end" transform="rotate(-45 488.30 280.40)">+ &#945;CD11b</text>
<line x1="429.90" y1="306.30" x2="492.70" y2="306.30" stroke="#111" stroke-width="1.0"/>
<text x="461.30" y="315.20" font-size="7.5" fill="#1e1e1e" stroke="#1e1e1e" stroke-width="0.16" text-anchor="middle">SenB16F10</text>
<text x="6.40" y="354.50" font-size="10.4" fill="#111" font-weight="bold">F</text>
<text x="15.80" y="375.70" font-size="7.5" fill="#1e1e1e" stroke="#1e1e1e" stroke-width="0.16">Day:</text>
<text x="32.70" y="387.30" font-size="7.5" fill="#1e1e1e" stroke="#1e1e1e" stroke-width="0.16" text-anchor="middle">&#8722;7</text>
<text x="81.20" y="387.30" font-size="7.5" fill="#1e1e1e" stroke="#1e1e1e" stroke-width="0.16" text-anchor="middle">0</text>
<text x="126.00" y="387.30" font-size="7.5" fill="#1e1e1e" stroke="#1e1e1e" stroke-width="0.16" text-anchor="middle">10</text>
<line x1="32.70" y1="392.60" x2="133.00" y2="392.60" stroke="#333" stroke-width="0.9"/>
<path d="M132.0,390.7 L135.7,392.6 L132.0,394.5 Z" fill="#222" stroke="none" stroke-width="0.8"/>
<line x1="32.70" y1="390.00" x2="32.70" y2="395.20" stroke="#333" stroke-width="0.9"/>
<line x1="81.20" y1="390.00" x2="81.20" y2="395.20" stroke="#333" stroke-width="0.9"/>
<line x1="126.00" y1="390.00" x2="126.00" y2="395.20" stroke="#333" stroke-width="0.9"/>
<text x="138.60" y="395.30" font-size="7.5" fill="#1e1e1e" stroke="#1e1e1e" stroke-width="0.16">Follow-up</text>
<text x="30.80" y="403.90" font-size="7.5" fill="#1e1e1e" stroke="#1e1e1e" stroke-width="0.16" text-anchor="middle">Tumor</text>
<text x="30.80" y="412.70" font-size="7.5" fill="#1e1e1e" stroke="#1e1e1e" stroke-width="0.16" text-anchor="middle">injection</text>
<text x="81.20" y="407.60" font-size="7.5" fill="#1e1e1e" stroke="#1e1e1e" stroke-width="0.16" text-anchor="middle">Immunization</text>
<text x="126.00" y="407.00" font-size="7.5" fill="#1e1e1e" stroke="#1e1e1e" stroke-width="0.16" text-anchor="middle">CyTOF</text>
<g transform="translate(17.00 427.80) scale(0.95)">
<path d="M22.8,1.2 C25,2.4 28.5,3.6 31.3,5.6 C33.4,7.2 33.8,9.6 32.6,11" fill="none" stroke="#262626" stroke-width="0.75"/>
<path d="M0,0 C2.5,-2.8 5.5,-5.8 9,-7.2 L15,-7.6 C17,-8.6 19.5,-8.8 21.5,-7.8 C23.4,-6.6 23.6,-4 23.6,-1.5 C23.6,2 23.4,5.2 21.5,7 C19,8.6 15.5,8.2 13,7.6 L9,7.4 C5.5,6 2.5,2.8 0,0 Z" fill="#474747" stroke="#2a2a2a" stroke-width="0.6"/>
<circle cx="11.6" cy="-5.4" r="4.3" fill="#e0c8b4" stroke="#555" stroke-width="0.4"/>
<circle cx="10.3" cy="-5.3" r="2.7" fill="#d9d3d2" stroke="#3e2c26" stroke-width="0.8"/>
<circle cx="11.6" cy="6.2" r="4.3" fill="#e0c8b4" stroke="#555" stroke-width="0.4"/>
<circle cx="10.3" cy="6.3" r="2.7" fill="#d9d3d2" stroke="#3e2c26" stroke-width="0.8"/>
<path d="M1.2,-1.4 L-1.2,-3.2 M1.2,1.4 L-1.2,3.2" stroke="#aaa" stroke-width="0.4"/>
</g>
<g transform="translate(49.00 422.50) rotate(150) scale(0.9)">
<line x1="3.00" y1="0.00" x2="7.60" y2="0.00" stroke="#222" stroke-width="0.6"/>
<rect x="-5.00" y="-1.90" width="8.00" height="3.80" fill="#fafafa" stroke="#222" stroke-width="0.7"/>
<line x1="-2.80" y1="-1.90" x2="-2.80" y2="0.30" stroke="#333" stroke-width="0.5"/>
<line x1="-0.80" y1="-1.90" x2="-0.80" y2="0.30" stroke="#333" stroke-width="0.5"/>
<line x1="1.20" y1="-1.90" x2="1.20" y2="0.30" stroke="#333" stroke-width="0.5"/>
<rect x="1.40" y="-1.90" width="1.60" height="3.80" fill="#333" stroke="none" stroke-width="0.8"/>
<line x1="-5.00" y1="0.00" x2="-7.60" y2="0.00" stroke="#1a1a1a" stroke-width="1.1"/>
<line x1="-7.60" y1="-2.00" x2="-7.60" y2="2.00" stroke="#1a1a1a" stroke-width="1.1"/>
</g>
<g transform="translate(70.50 426.50) scale(0.92)">
<path d="M23,-3.9 C24.6,-6.5 25.2,-9.6 27,-11 C28.8,-12.2 31,-11.8 32.4,-10.4" fill="none" stroke="#262626" stroke-width="0.75"/>
<path d="M0,0 C2.5,-2.8 5.5,-5.8 9,-7.2 L15,-7.6 C17,-8.6 19.5,-8.8 21.5,-7.8 C23.4,-6.6 23.6,-4 23.6,-1.5 C23.6,2 23.4,5.2 21.5,7 C19,8.6 15.5,8.2 13,7.6 L9,7.4 C5.5,6 2.5,2.8 0,0 Z" fill="#474747" stroke="#2a2a2a" stroke-width="0.6"/>
<circle cx="11.6" cy="-5.4" r="4.3" fill="#e0c8b4" stroke="#555" stroke-width="0.4"/>
<circle cx="10.3" cy="-5.3" r="2.7" fill="#d9d3d2" stroke="#3e2c26" stroke-width="0.8"/>
<circle cx="11.6" cy="6.2" r="4.3" fill="#e0c8b4" stroke="#555" stroke-width="0.4"/>
<circle cx="10.3" cy="6.3" r="2.7" fill="#d9d3d2" stroke="#3e2c26" stroke-width="0.8"/>
<path d="M1.2,-1.4 L-1.2,-3.2 M1.2,1.4 L-1.2,3.2" stroke="#aaa" stroke-width="0.4"/>
</g>
<g transform="translate(97.50 438.80) rotate(210) scale(0.9)">
<line x1="3.00" y1="0.00" x2="7.60" y2="0.00" stroke="#222" stroke-width="0.6"/>
<rect x="-5.00" y="-1.90" width="8.00" height="3.80" fill="#fafafa" stroke="#222" stroke-width="0.7"/>
<line x1="-2.80" y1="-1.90" x2="-2.80" y2="0.30" stroke="#333" stroke-width="0.5"/>
<line x1="-0.80" y1="-1.90" x2="-0.80" y2="0.30" stroke="#333" stroke-width="0.5"/>
<line x1="1.20" y1="-1.90" x2="1.20" y2="0.30" stroke="#333" stroke-width="0.5"/>
<rect x="1.40" y="-1.90" width="1.60" height="3.80" fill="#333" stroke="none" stroke-width="0.8"/>
<line x1="-5.00" y1="0.00" x2="-7.60" y2="0.00" stroke="#1a1a1a" stroke-width="1.1"/>
<line x1="-7.60" y1="-2.00" x2="-7.60" y2="2.00" stroke="#1a1a1a" stroke-width="1.1"/>
</g>
<g transform="translate(132.00 427.00) scale(0.95)">
<path d="M22.8,1.2 C25,2.4 28.5,3.6 31.3,5.6 C33.4,7.2 33.8,9.6 32.6,11" fill="none" stroke="#262626" stroke-width="0.75"/>
<path d="M0,0 C2.5,-2.8 5.5,-5.8 9,-7.2 L15,-7.6 C17,-8.6 19.5,-8.8 21.5,-7.8 C23.4,-6.6 23.6,-4 23.6,-1.5 C23.6,2 23.4,5.2 21.5,7 C19,8.6 15.5,8.2 13,7.6 L9,7.4 C5.5,6 2.5,2.8 0,0 Z" fill="#474747" stroke="#2a2a2a" stroke-width="0.6"/>
<circle cx="11.6" cy="-5.4" r="4.3" fill="#e0c8b4" stroke="#555" stroke-width="0.4"/>
<circle cx="10.3" cy="-5.3" r="2.7" fill="#d9d3d2" stroke="#3e2c26" stroke-width="0.8"/>
<circle cx="11.6" cy="6.2" r="4.3" fill="#e0c8b4" stroke="#555" stroke-width="0.4"/>
<circle cx="10.3" cy="6.3" r="2.7" fill="#d9d3d2" stroke="#3e2c26" stroke-width="0.8"/>
<path d="M1.2,-1.4 L-1.2,-3.2 M1.2,1.4 L-1.2,3.2" stroke="#aaa" stroke-width="0.4"/>
</g>
<text x="157.50" y="418.00" font-size="6.5" fill="#1e1e1e" stroke="#1e1e1e" stroke-width="0.16">?</text>
<rect x="13.80" y="445.80" width="42.00" height="8.60" fill="none" stroke="#555" stroke-width="0.8" rx="2.0"/>
<text x="34.80" y="452.60" font-size="7.3" fill="#1e1e1e" stroke="#1e1e1e" stroke-width="0.16" text-anchor="middle">Tumor cells</text>
<rect x="64.20" y="445.70" width="72.40" height="33.80" fill="none" stroke="#555" stroke-width="0.8" rx="2.2"/>
<text x="66.40" y="453.10" font-size="7.3" fill="#1e1e1e" stroke="#1e1e1e" stroke-width="0.16">Vehicle</text>
<text x="66.40" y="461.00" font-size="7.3" fill="#86303e" stroke="#86303e" stroke-width="0.16">ICD tumor cells</text>
<text x="66.40" y="469.00" font-size="7.3" fill="#8494d4" stroke="#8494d4" stroke-width="0.16">Sen. tumor cells</text>
<text x="66.40" y="477.60" font-size="7.0" fill="#a6c88c" stroke="#a6c88c" stroke-width="0.16">Dying sen. tumor cells</text>
<text x="168.80" y="355.50" font-size="10.4" fill="#111" font-weight="bold">G</text>
<line x1="210.00" y1="364.90" x2="210.00" y2="428.60" stroke="#444" stroke-width="0.85"/>
<line x1="210.00" y1="428.60" x2="274.40" y2="428.60" stroke="#444" stroke-width="0.85"/>
<line x1="207.80" y1="428.60" x2="210.00" y2="428.60" stroke="#444" stroke-width="0.7"/>
<text x="206.60" y="431.30" font-size="7.5" fill="#1e1e1e" stroke="#1e1e1e" stroke-width="0.16" text-anchor="end">0</text>
<line x1="207.80" y1="396.75" x2="210.00" y2="396.75" stroke="#444" stroke-width="0.7"/>
<text x="206.60" y="399.45" font-size="7.5" fill="#1e1e1e" stroke="#1e1e1e" stroke-width="0.16" text-anchor="end">350</text>
<line x1="207.80" y1="364.90" x2="210.00" y2="364.90" stroke="#444" stroke-width="0.7"/>
<text x="206.60" y="367.60" font-size="7.5" fill="#1e1e1e" stroke="#1e1e1e" stroke-width="0.16" text-anchor="end">700</text>
<line x1="215.20" y1="428.60" x2="215.20" y2="430.80" stroke="#333" stroke-width="0.7"/>
<text x="215.20" y="438.00" font-size="7.5" fill="#1e1e1e" stroke="#1e1e1e" stroke-width="0.16" text-anchor="middle">0</text>
<line x1="226.00" y1="428.60" x2="226.00" y2="430.80" stroke="#333" stroke-width="0.7"/>
<text x="226.00" y="438.00" font-size="7.5" fill="#1e1e1e" stroke="#1e1e1e" stroke-width="0.16" text-anchor="middle">2</text>
<line x1="236.70" y1="428.60" x2="236.70" y2="430.80" stroke="#333" stroke-width="0.7"/>
<text x="236.70" y="438.00" font-size="7.5" fill="#1e1e1e" stroke="#1e1e1e" stroke-width="0.16" text-anchor="middle">4</text>
<line x1="247.30" y1="428.60" x2="247.30" y2="430.80" stroke="#333" stroke-width="0.7"/>
<text x="247.30" y="438.00" font-size="7.5" fill="#1e1e1e" stroke="#1e1e1e" stroke-width="0.16" text-anchor="middle">7</text>
<line x1="258.00" y1="428.60" x2="258.00" y2="430.80" stroke="#333" stroke-width="0.7"/>
<text x="258.00" y="438.00" font-size="7.5" fill="#1e1e1e" stroke="#1e1e1e" stroke-width="0.16" text-anchor="middle">10</text>
<line x1="268.70" y1="428.60" x2="268.70" y2="430.80" stroke="#333" stroke-width="0.7"/>
<text x="268.70" y="438.00" font-size="7.5" fill="#1e1e1e" stroke="#1e1e1e" stroke-width="0.16" text-anchor="middle">12</text>
<text x="241.00" y="448.00" font-size="7.5" fill="#1e1e1e" stroke="#1e1e1e" stroke-width="0.16" text-anchor="middle">Days after immunization</text>
<text x="189.60" y="396.80" font-size="7.5" fill="#1e1e1e" stroke="#1e1e1e" stroke-width="0.16" text-anchor="middle" transform="rotate(-90 189.60 396.80)">Tumor volume (mm<tspan font-size="5" dy="-3">3</tspan><tspan dy="3">)</tspan></text>
<line x1="215.20" y1="425.42" x2="215.20" y2="426.33" stroke="#8ec47c" stroke-width="0.6"/>
<line x1="214.20" y1="425.42" x2="216.20" y2="425.42" stroke="#8ec47c" stroke-width="0.6"/>
<line x1="226.00" y1="420.87" x2="226.00" y2="422.69" stroke="#8ec47c" stroke-width="0.6"/>
<line x1="225.00" y1="420.87" x2="227.00" y2="420.87" stroke="#8ec47c" stroke-width="0.6"/>
<line x1="236.70" y1="411.76" x2="236.70" y2="415.41" stroke="#8ec47c" stroke-width="0.6"/>
<line x1="235.70" y1="411.76" x2="237.70" y2="411.76" stroke="#8ec47c" stroke-width="0.6"/>
<line x1="247.30" y1="393.11" x2="247.30" y2="400.39" stroke="#8ec47c" stroke-width="0.6"/>
<line x1="246.30" y1="393.11" x2="248.30" y2="393.11" stroke="#8ec47c" stroke-width="0.6"/>
<polyline points="215.20,425.87 226.00,421.78 236.70,413.59 247.30,396.75" fill="none" stroke="#8ec47c" stroke-width="0.9" stroke-linejoin="round"/>
<circle cx="215.20" cy="425.87" r="1.00" fill="#8ec47c"/>
<circle cx="226.00" cy="421.78" r="1.00" fill="#8ec47c"/>
<circle cx="236.70" cy="413.59" r="1.00" fill="#8ec47c"/>
<circle cx="247.30" cy="396.75" r="1.00" fill="#8ec47c"/>
<line x1="215.20" y1="425.42" x2="215.20" y2="426.33" stroke="#6a7cc4" stroke-width="0.6"/>
<line x1="214.20" y1="425.42" x2="216.20" y2="425.42" stroke="#6a7cc4" stroke-width="0.6"/>
<line x1="226.00" y1="421.32" x2="226.00" y2="423.14" stroke="#6a7cc4" stroke-width="0.6"/>
<line x1="225.00" y1="421.32" x2="227.00" y2="421.32" stroke="#6a7cc4" stroke-width="0.6"/>
<line x1="236.70" y1="412.68" x2="236.70" y2="417.23" stroke="#6a7cc4" stroke-width="0.6"/>
<line x1="235.70" y1="412.68" x2="237.70" y2="412.68" stroke="#6a7cc4" stroke-width="0.6"/>
<line x1="247.30" y1="390.56" x2="247.30" y2="404.21" stroke="#6a7cc4" stroke-width="0.6"/>
<line x1="246.30" y1="390.56" x2="248.30" y2="390.56" stroke="#6a7cc4" stroke-width="0.6"/>
<line x1="258.00" y1="383.65" x2="258.00" y2="393.66" stroke="#6a7cc4" stroke-width="0.6"/>
<line x1="257.00" y1="383.65" x2="259.00" y2="383.65" stroke="#6a7cc4" stroke-width="0.6"/>
<line x1="268.70" y1="364.90" x2="268.70" y2="389.47" stroke="#6a7cc4" stroke-width="0.6"/>
<line x1="267.70" y1="364.90" x2="269.70" y2="364.90" stroke="#6a7cc4" stroke-width="0.6"/>
<polyline points="215.20,425.87 226.00,422.23 236.70,414.95 247.30,397.39 258.00,388.65 268.70,377.19" fill="none" stroke="#6a7cc4" stroke-width="0.9" stroke-linejoin="round"/>
<circle cx="215.20" cy="425.87" r="1.00" fill="#6a7cc4"/>
<circle cx="226.00" cy="422.23" r="1.00" fill="#6a7cc4"/>
<circle cx="236.70" cy="414.95" r="1.00" fill="#6a7cc4"/>
<circle cx="247.30" cy="397.39" r="1.00" fill="#6a7cc4"/>
<circle cx="258.00" cy="388.65" r="1.00" fill="#6a7cc4"/>
<circle cx="268.70" cy="377.19" r="1.00" fill="#6a7cc4"/>
<line x1="215.20" y1="424.05" x2="215.20" y2="424.96" stroke="#b04456" stroke-width="0.6"/>
<line x1="214.20" y1="424.05" x2="216.20" y2="424.05" stroke="#b04456" stroke-width="0.6"/>
<line x1="226.00" y1="411.49" x2="226.00" y2="417.86" stroke="#b04456" stroke-width="0.6"/>
<line x1="225.00" y1="411.49" x2="227.00" y2="411.49" stroke="#b04456" stroke-width="0.6"/>
<line x1="236.70" y1="404.94" x2="236.70" y2="413.13" stroke="#b04456" stroke-width="0.6"/>
<line x1="235.70" y1="404.94" x2="237.70" y2="404.94" stroke="#b04456" stroke-width="0.6"/>
<line x1="247.30" y1="386.74" x2="247.30" y2="402.21" stroke="#b04456" stroke-width="0.6"/>
<line x1="246.30" y1="386.74" x2="248.30" y2="386.74" stroke="#b04456" stroke-width="0.6"/>
<line x1="258.00" y1="365.81" x2="258.00" y2="388.56" stroke="#b04456" stroke-width="0.6"/>
<line x1="257.00" y1="365.81" x2="259.00" y2="365.81" stroke="#b04456" stroke-width="0.6"/>
<polyline points="215.20,424.50 226.00,414.68 236.70,409.04 247.30,394.48 258.00,377.19" fill="none" stroke="#b04456" stroke-width="0.9" stroke-linejoin="round"/>
<circle cx="215.20" cy="424.50" r="1.00" fill="#b04456"/>
<circle cx="226.00" cy="414.68" r="1.00" fill="#b04456"/>
<circle cx="236.70" cy="409.04" r="1.00" fill="#b04456"/>
<circle cx="247.30" cy="394.48" r="1.00" fill="#b04456"/>
<circle cx="258.00" cy="377.19" r="1.00" fill="#b04456"/>
<line x1="215.20" y1="423.78" x2="215.20" y2="424.69" stroke="#1a1a1a" stroke-width="0.6"/>
<line x1="214.20" y1="423.78" x2="216.20" y2="423.78" stroke="#1a1a1a" stroke-width="0.6"/>
<line x1="226.00" y1="418.95" x2="226.00" y2="420.77" stroke="#1a1a1a" stroke-width="0.6"/>
<line x1="225.00" y1="418.95" x2="227.00" y2="418.95" stroke="#1a1a1a" stroke-width="0.6"/>
<line x1="236.70" y1="394.38" x2="236.70" y2="406.21" stroke="#1a1a1a" stroke-width="0.6"/>
<line x1="235.70" y1="394.38" x2="237.70" y2="394.38" stroke="#1a1a1a" stroke-width="0.6"/>
<line x1="247.30" y1="368.36" x2="247.30" y2="386.56" stroke="#1a1a1a" stroke-width="0.6"/>
<line x1="246.30" y1="368.36" x2="248.30" y2="368.36" stroke="#1a1a1a" stroke-width="0.6"/>
<polyline points="215.20,424.23 226.00,419.86 236.70,400.30 247.30,377.46" fill="none" stroke="#1a1a1a" stroke-width="0.9" stroke-linejoin="round"/>
<circle cx="215.20" cy="424.23" r="1.00" fill="#1a1a1a"/>
<circle cx="226.00" cy="419.86" r="1.00" fill="#1a1a1a"/>
<circle cx="236.70" cy="400.30" r="1.00" fill="#1a1a1a"/>
<circle cx="247.30" cy="377.46" r="1.00" fill="#1a1a1a"/>
<rect x="202.30" y="456.80" width="71.40" height="38.60" fill="none" stroke="#444" stroke-width="0.8"/>
<line x1="205.70" y1="463.40" x2="214.00" y2="463.40" stroke="#1a1a1a" stroke-width="0.9"/>
<circle cx="209.90" cy="463.40" r="1.00" fill="#1a1a1a"/>
<text x="215.20" y="465.90" font-size="7.0" fill="#1e1e1e" stroke="#1e1e1e" stroke-width="0.16">Vehicle</text>
<line x1="205.70" y1="471.80" x2="214.00" y2="471.80" stroke="#b23a4c" stroke-width="0.9"/>
<circle cx="209.90" cy="471.80" r="1.00" fill="#b23a4c"/>
<text x="215.20" y="474.30" font-size="7.0" fill="#86303e" stroke="#86303e" stroke-width="0.16">ICD-B16F10</text>
<line x1="205.70" y1="480.20" x2="214.00" y2="480.20" stroke="#6478c4" stroke-width="0.9"/>
<circle cx="209.90" cy="480.20" r="1.00" fill="#6478c4"/>
<text x="215.20" y="482.70" font-size="7.0" fill="#6f80c8" stroke="#6f80c8" stroke-width="0.16">SenB16F10</text>
<line x1="205.70" y1="488.60" x2="214.00" y2="488.60" stroke="#8ec47c" stroke-width="0.9"/>
<circle cx="209.90" cy="488.60" r="1.00" fill="#8ec47c"/>
<text x="215.20" y="491.10" font-size="7.0" fill="#8db870" stroke="#8db870" stroke-width="0.16">Dying senB16F10</text>
<path d="M248.7,462.6 L266.0,462.6 L266.0,480.7 L261.6,480.7" fill="none" stroke="#333" stroke-width="0.8"/>
<path d="M257.6,471.7 L260.9,471.7 L260.9,480.2 L255.0,480.2" fill="none" stroke="#333" stroke-width="0.8"/>
<circle cx="269.80" cy="471.70" r="1.35" fill="#1a1a1a"/>
<circle cx="262.80" cy="476.30" r="1.35" fill="#1a1a1a"/>
<text x="288.40" y="354.80" font-size="10.4" fill="#111" font-weight="bold">H</text>
<rect x="303.40" y="366.70" width="62.10" height="56.60" fill="#ebebf0" stroke="none" stroke-width="0.8"/>
<clipPath id="clip1"><rect x="303.4" y="366.7" width="62.10000000000002" height="56.60000000000002"/></clipPath>
<g clip-path="url(#clip1)">
<path d="M309.8 414.7a2.0 2.0 0 1 0 4.0 0a2.0 2.0 0 1 0 -4.0 0M317.5 394.7a1.7 1.7 0 1 0 3.4 0a1.7 1.7 0 1 0 -3.4 0M342.5 411.3a1.4 1.4 0 1 0 2.8 0a1.4 1.4 0 1 0 -2.8 0M303.5 414.0a1.7 1.7 0 1 0 3.4 0a1.7 1.7 0 1 0 -3.4 0M349.0 366.8a1.7 1.7 0 1 0 3.4 0a1.7 1.7 0 1 0 -3.4 0M346.1 379.6a2.2 2.2 0 1 0 4.3 0a2.2 2.2 0 1 0 -4.3 0M358.1 368.4a1.3 1.3 0 1 0 2.6 0a1.3 1.3 0 1 0 -2.6 0M335.4 419.9a1.6 1.6 0 1 0 3.3 0a1.6 1.6 0 1 0 -3.3 0M315.5 390.6a1.3 1.3 0 1 0 2.7 0a1.3 1.3 0 1 0 -2.7 0M315.4 391.5a1.7 1.7 0 1 0 3.5 0a1.7 1.7 0 1 0 -3.5 0M316.4 379.8a1.5 1.5 0 1 0 3.0 0a1.5 1.5 0 1 0 -3.0 0M330.6 383.1a1.3 1.3 0 1 0 2.6 0a1.3 1.3 0 1 0 -2.6 0M353.5 398.2a1.9 1.9 0 1 0 3.8 0a1.9 1.9 0 1 0 -3.8 0M312.9 422.9a2.1 2.1 0 1 0 4.1 0a2.1 2.1 0 1 0 -4.1 0M309.0 385.5a1.9 1.9 0 1 0 3.9 0a1.9 1.9 0 1 0 -3.9 0M345.9 419.7a1.7 1.7 0 1 0 3.4 0a1.7 1.7 0 1 0 -3.4 0M353.4 404.6a1.6 1.6 0 1 0 3.1 0a1.6 1.6 0 1 0 -3.1 0M337.8 416.6a2.1 2.1 0 1 0 4.1 0a2.1 2.1 0 1 0 -4.1 0M333.4 400.0a1.3 1.3 0 1 0 2.7 0a1.3 1.3 0 1 0 -2.7 0M316.8 411.8a1.7 1.7 0 1 0 3.3 0a1.7 1.7 0 1 0 -3.3 0M312.2 397.8a1.9 1.9 0 1 0 3.9 0a1.9 1.9 0 1 0 -3.9 0M343.6 387.9a1.7 1.7 0 1 0 3.4 0a1.7 1.7 0 1 0 -3.4 0M333.2 410.8a1.8 1.8 0 1 0 3.5 0a1.8 1.8 0 1 0 -3.5 0M326.5 394.4a1.3 1.3 0 1 0 2.7 0a1.3 1.3 0 1 0 -2.7 0M303.9 406.5a2.2 2.2 0 1 0 4.4 0a2.2 2.2 0 1 0 -4.4 0M338.8 389.0a1.5 1.5 0 1 0 2.9 0a1.5 1.5 0 1 0 -2.9 0M332.6 422.3a2.0 2.0 0 1 0 4.0 0a2.0 2.0 0 1 0 -4.0 0M335.4 415.4a1.5 1.5 0 1 0 3.0 0a1.5 1.5 0 1 0 -3.0 0M333.5 420.6a1.8 1.8 0 1 0 3.6 0a1.8 1.8 0 1 0 -3.6 0M330.1 381.9a1.8 1.8 0 1 0 3.6 0a1.8 1.8 0 1 0 -3.6 0M360.8 367.0a2.0 2.0 0 1 0 4.0 0a2.0 2.0 0 1 0 -4.0 0M352.4 416.9a2.0 2.0 0 1 0 3.9 0a2.0 2.0 0 1 0 -3.9 0M351.8 396.1a1.8 1.8 0 1 0 3.6 0a1.8 1.8 0 1 0 -3.6 0M327.8 369.9a2.1 2.1 0 1 0 4.2 0a2.1 2.1 0 1 0 -4.2 0M337.0 378.0a1.8 1.8 0 1 0 3.5 0a1.8 1.8 0 1 0 -3.5 0M331.9 386.9a1.6 1.6 0 1 0 3.2 0a1.6 1.6 0 1 0 -3.2 0M335.0 402.0a1.9 1.9 0 1 0 3.7 0a1.9 1.9 0 1 0 -3.7 0M330.3 368.3a1.5 1.5 0 1 0 3.0 0a1.5 1.5 0 1 0 -3.0 0M312.3 399.8a2.1 2.1 0 1 0 4.1 0a2.1 2.1 0 1 0 -4.1 0M350.9 411.8a2.0 2.0 0 1 0 4.1 0a2.0 2.0 0 1 0 -4.1 0M317.3 414.3a1.9 1.9 0 1 0 3.8 0a1.9 1.9 0 1 0 -3.8 0M307.3 367.6a1.3 1.3 0 1 0 2.6 0a1.3 1.3 0 1 0 -2.6 0M348.9 380.8a1.4 1.4 0 1 0 2.8 0a1.4 1.4 0 1 0 -2.8 0M340.8 386.2a1.4 1.4 0 1 0 2.7 0a1.4 1.4 0 1 0 -2.7 0M311.9 396.5a1.5 1.5 0 1 0 2.9 0a1.5 1.5 0 1 0 -2.9 0M318.6 407.0a1.7 1.7 0 1 0 3.4 0a1.7 1.7 0 1 0 -3.4 0M322.1 393.5a1.3 1.3 0 1 0 2.6 0a1.3 1.3 0 1 0 -2.6 0M325.9 390.5a1.5 1.5 0 1 0 2.9 0a1.5 1.5 0 1 0 -2.9 0M308.4 417.6a1.8 1.8 0 1 0 3.5 0a1.8 1.8 0 1 0 -3.5 0M314.3 401.0a2.0 2.0 0 1 0 4.1 0a2.0 2.0 0 1 0 -4.1 0M303.3 367.7a1.4 1.4 0 1 0 2.9 0a1.4 1.4 0 1 0 -2.9 0M346.1 375.8a1.9 1.9 0 1 0 3.9 0a1.9 1.9 0 1 0 -3.9 0M344.0 397.5a1.5 1.5 0 1 0 3.0 0a1.5 1.5 0 1 0 -3.0 0M362.2 411.9a1.8 1.8 0 1 0 3.5 0a1.8 1.8 0 1 0 -3.5 0M315.6 403.4a1.7 1.7 0 1 0 3.3 0a1.7 1.7 0 1 0 -3.3 0M337.3 384.9a1.9 1.9 0 1 0 3.7 0a1.9 1.9 0 1 0 -3.7 0M304.9 383.6a2.2 2.2 0 1 0 4.3 0a2.2 2.2 0 1 0 -4.3 0M355.7 384.0a2.1 2.1 0 1 0 4.1 0a2.1 2.1 0 1 0 -4.1 0M320.7 419.9a2.0 2.0 0 1 0 3.9 0a2.0 2.0 0 1 0 -3.9 0M327.9 381.0a1.3 1.3 0 1 0 2.6 0a1.3 1.3 0 1 0 -2.6 0M355.9 368.8a2.0 2.0 0 1 0 4.1 0a2.0 2.0 0 1 0 -4.1 0M361.7 399.0a1.5 1.5 0 1 0 2.9 0a1.5 1.5 0 1 0 -2.9 0M355.4 421.8a1.9 1.9 0 1 0 3.9 0a1.9 1.9 0 1 0 -3.9 0M333.4 388.1a1.6 1.6 0 1 0 3.2 0a1.6 1.6 0 1 0 -3.2 0M314.5 404.9a1.7 1.7 0 1 0 3.4 0a1.7 1.7 0 1 0 -3.4 0M313.6 372.6a1.9 1.9 0 1 0 3.8 0a1.9 1.9 0 1 0 -3.8 0M320.2 395.0a1.6 1.6 0 1 0 3.2 0a1.6 1.6 0 1 0 -3.2 0M356.2 417.6a1.3 1.3 0 1 0 2.6 0a1.3 1.3 0 1 0 -2.6 0M313.7 385.3a2.2 2.2 0 1 0 4.4 0a2.2 2.2 0 1 0 -4.4 0M350.5 385.9a1.5 1.5 0 1 0 3.0 0a1.5 1.5 0 1 0 -3.0 0M343.1 414.1a2.1 2.1 0 1 0 4.3 0a2.1 2.1 0 1 0 -4.3 0M322.8 416.6a1.9 1.9 0 1 0 3.8 0a1.9 1.9 0 1 0 -3.8 0M332.0 422.5a1.5 1.5 0 1 0 3.0 0a1.5 1.5 0 1 0 -3.0 0M347.0 371.5a1.5 1.5 0 1 0 2.9 0a1.5 1.5 0 1 0 -2.9 0M358.0 378.8a2.0 2.0 0 1 0 4.0 0a2.0 2.0 0 1 0 -4.0 0M339.0 414.3a1.6 1.6 0 1 0 3.3 0a1.6 1.6 0 1 0 -3.3 0M322.5 383.2a2.1 2.1 0 1 0 4.2 0a2.1 2.1 0 1 0 -4.2 0M338.8 420.7a2.1 2.1 0 1 0 4.2 0a2.1 2.1 0 1 0 -4.2 0M310.4 397.9a1.4 1.4 0 1 0 2.8 0a1.4 1.4 0 1 0 -2.8 0M303.8 370.8a2.1 2.1 0 1 0 4.2 0a2.1 2.1 0 1 0 -4.2 0M350.7 413.6a1.6 1.6 0 1 0 3.2 0a1.6 1.6 0 1 0 -3.2 0M340.0 411.0a1.6 1.6 0 1 0 3.3 0a1.6 1.6 0 1 0 -3.3 0M337.5 379.4a1.4 1.4 0 1 0 2.7 0a1.4 1.4 0 1 0 -2.7 0M318.2 417.1a1.8 1.8 0 1 0 3.6 0a1.8 1.8 0 1 0 -3.6 0M359.3 392.6a1.5 1.5 0 1 0 3.1 0a1.5 1.5 0 1 0 -3.1 0M351.0 413.6a1.3 1.3 0 1 0 2.6 0a1.3 1.3 0 1 0 -2.6 0M343.6 371.9a1.4 1.4 0 1 0 2.8 0a1.4 1.4 0 1 0 -2.8 0M356.8 369.0a1.5 1.5 0 1 0 3.0 0a1.5 1.5 0 1 0 -3.0 0M363.4 390.5a1.4 1.4 0 1 0 2.8 0a1.4 1.4 0 1 0 -2.8 0M311.8 380.4a2.0 2.0 0 1 0 3.9 0a2.0 2.0 0 1 0 -3.9 0M308.1 418.2a1.6 1.6 0 1 0 3.3 0a1.6 1.6 0 1 0 -3.3 0M362.1 418.2a1.6 1.6 0 1 0 3.1 0a1.6 1.6 0 1 0 -3.1 0M317.7 393.7a1.4 1.4 0 1 0 2.8 0a1.4 1.4 0 1 0 -2.8 0M342.6 368.9a1.3 1.3 0 1 0 2.6 0a1.3 1.3 0 1 0 -2.6 0M362.6 383.4a1.8 1.8 0 1 0 3.7 0a1.8 1.8 0 1 0 -3.7 0M330.0 384.4a1.4 1.4 0 1 0 2.7 0a1.4 1.4 0 1 0 -2.7 0M357.9 421.6a2.2 2.2 0 1 0 4.3 0a2.2 2.2 0 1 0 -4.3 0M308.5 378.9a1.9 1.9 0 1 0 3.7 0a1.9 1.9 0 1 0 -3.7 0M362.3 397.4a1.9 1.9 0 1 0 3.8 0a1.9 1.9 0 1 0 -3.8 0M342.7 381.4a1.8 1.8 0 1 0 3.6 0a1.8 1.8 0 1 0 -3.6 0M321.1 380.6a1.4 1.4 0 1 0 2.7 0a1.4 1.4 0 1 0 -2.7 0M319.1 422.4a1.7 1.7 0 1 0 3.4 0a1.7 1.7 0 1 0 -3.4 0M341.7 403.1a2.1 2.1 0 1 0 4.3 0a2.1 2.1 0 1 0 -4.3 0M326.1 384.1a1.6 1.6 0 1 0 3.2 0a1.6 1.6 0 1 0 -3.2 0M321.0 414.6a2.1 2.1 0 1 0 4.2 0a2.1 2.1 0 1 0 -4.2 0M320.4 385.6a1.8 1.8 0 1 0 3.6 0a1.8 1.8 0 1 0 -3.6 0M337.8 400.4a1.5 1.5 0 1 0 3.0 0a1.5 1.5 0 1 0 -3.0 0M303.3 380.5a1.4 1.4 0 1 0 2.7 0a1.4 1.4 0 1 0 -2.7 0M336.3 370.7a1.4 1.4 0 1 0 2.7 0a1.4 1.4 0 1 0 -2.7 0M340.8 383.2a2.0 2.0 0 1 0 4.0 0a2.0 2.0 0 1 0 -4.0 0M332.6 415.5a1.4 1.4 0 1 0 2.9 0a1.4 1.4 0 1 0 -2.9 0M333.2 411.7a1.4 1.4 0 1 0 2.7 0a1.4 1.4 0 1 0 -2.7 0M360.3 376.5a2.0 2.0 0 1 0 4.0 0a2.0 2.0 0 1 0 -4.0 0M363.0 413.2a1.6 1.6 0 1 0 3.2 0a1.6 1.6 0 1 0 -3.2 0M307.9 395.8a2.1 2.1 0 1 0 4.3 0a2.1 2.1 0 1 0 -4.3 0M320.2 417.3a1.4 1.4 0 1 0 2.9 0a1.4 1.4 0 1 0 -2.9 0M358.4 368.5a1.6 1.6 0 1 0 3.2 0a1.6 1.6 0 1 0 -3.2 0M357.4 412.2a2.1 2.1 0 1 0 4.2 0a2.1 2.1 0 1 0 -4.2 0M353.7 408.9a1.9 1.9 0 1 0 3.8 0a1.9 1.9 0 1 0 -3.8 0M313.0 391.2a1.4 1.4 0 1 0 2.9 0a1.4 1.4 0 1 0 -2.9 0M346.3 404.5a1.5 1.5 0 1 0 3.1 0a1.5 1.5 0 1 0 -3.1 0M305.4 421.2a2.0 2.0 0 1 0 4.1 0a2.0 2.0 0 1 0 -4.1 0M335.4 397.3a2.1 2.1 0 1 0 4.1 0a2.1 2.1 0 1 0 -4.1 0M329.9 389.1a1.6 1.6 0 1 0 3.2 0a1.6 1.6 0 1 0 -3.2 0M317.5 368.1a1.9 1.9 0 1 0 3.8 0a1.9 1.9 0 1 0 -3.8 0M327.9 399.0a1.4 1.4 0 1 0 2.7 0a1.4 1.4 0 1 0 -2.7 0M324.0 374.5a1.4 1.4 0 1 0 2.8 0a1.4 1.4 0 1 0 -2.8 0M317.8 413.6a1.7 1.7 0 1 0 3.3 0a1.7 1.7 0 1 0 -3.3 0M326.8 401.4a1.5 1.5 0 1 0 3.0 0a1.5 1.5 0 1 0 -3.0 0M302.1 396.6a1.8 1.8 0 1 0 3.5 0a1.8 1.8 0 1 0 -3.5 0M341.8 391.5a1.9 1.9 0 1 0 3.8 0a1.9 1.9 0 1 0 -3.8 0M347.1 380.2a1.7 1.7 0 1 0 3.5 0a1.7 1.7 0 1 0 -3.5 0M331.5 379.4a1.7 1.7 0 1 0 3.3 0a1.7 1.7 0 1 0 -3.3 0M336.1 418.0a2.1 2.1 0 1 0 4.3 0a2.1 2.1 0 1 0 -4.3 0M319.1 403.3a1.3 1.3 0 1 0 2.7 0a1.3 1.3 0 1 0 -2.7 0M305.8 395.7a2.1 2.1 0 1 0 4.2 0a2.1 2.1 0 1 0 -4.2 0M311.2 410.1a2.1 2.1 0 1 0 4.2 0a2.1 2.1 0 1 0 -4.2 0M320.7 405.9a2.1 2.1 0 1 0 4.1 0a2.1 2.1 0 1 0 -4.1 0M324.5 406.4a2.0 2.0 0 1 0 3.9 0a2.0 2.0 0 1 0 -3.9 0M338.2 415.2a2.1 2.1 0 1 0 4.2 0a2.1 2.1 0 1 0 -4.2 0M361.6 399.0a1.5 1.5 0 1 0 2.9 0a1.5 1.5 0 1 0 -2.9 0M317.1 379.0a1.8 1.8 0 1 0 3.6 0a1.8 1.8 0 1 0 -3.6 0M348.5 369.7a1.9 1.9 0 1 0 3.8 0a1.9 1.9 0 1 0 -3.8 0M346.2 386.4a1.8 1.8 0 1 0 3.5 0a1.8 1.8 0 1 0 -3.5 0M312.3 408.0a1.3 1.3 0 1 0 2.7 0a1.3 1.3 0 1 0 -2.7 0M362.5 412.4a1.9 1.9 0 1 0 3.7 0a1.9 1.9 0 1 0 -3.7 0M317.8 418.4a2.2 2.2 0 1 0 4.3 0a2.2 2.2 0 1 0 -4.3 0M310.0 410.6a2.1 2.1 0 1 0 4.1 0a2.1 2.1 0 1 0 -4.1 0M342.7 406.3a1.7 1.7 0 1 0 3.4 0a1.7 1.7 0 1 0 -3.4 0M359.2 421.7a1.6 1.6 0 1 0 3.3 0a1.6 1.6 0 1 0 -3.3 0M351.8 391.2a1.4 1.4 0 1 0 2.9 0a1.4 1.4 0 1 0 -2.9 0M321.5 373.9a2.1 2.1 0 1 0 4.2 0a2.1 2.1 0 1 0 -4.2 0M361.1 373.4a1.8 1.8 0 1 0 3.7 0a1.8 1.8 0 1 0 -3.7 0M327.2 373.4a1.6 1.6 0 1 0 3.1 0a1.6 1.6 0 1 0 -3.1 0M317.5 409.1a1.3 1.3 0 1 0 2.6 0a1.3 1.3 0 1 0 -2.6 0M313.9 391.5a1.3 1.3 0 1 0 2.6 0a1.3 1.3 0 1 0 -2.6 0M340.3 401.0a2.1 2.1 0 1 0 4.1 0a2.1 2.1 0 1 0 -4.1 0M314.4 382.8a1.8 1.8 0 1 0 3.6 0a1.8 1.8 0 1 0 -3.6 0M318.8 399.9a1.5 1.5 0 1 0 3.1 0a1.5 1.5 0 1 0 -3.1 0M343.8 411.5a2.0 2.0 0 1 0 4.1 0a2.0 2.0 0 1 0 -4.1 0M362.1 397.6a1.7 1.7 0 1 0 3.5 0a1.7 1.7 0 1 0 -3.5 0M354.7 410.2a1.8 1.8 0 1 0 3.6 0a1.8 1.8 0 1 0 -3.6 0M325.8 382.8a1.4 1.4 0 1 0 2.8 0a1.4 1.4 0 1 0 -2.8 0M351.6 373.4a2.0 2.0 0 1 0 3.9 0a2.0 2.0 0 1 0 -3.9 0M335.3 421.3a2.0 2.0 0 1 0 4.0 0a2.0 2.0 0 1 0 -4.0 0M362.1 374.4a1.8 1.8 0 1 0 3.5 0a1.8 1.8 0 1 0 -3.5 0M337.2 384.3a1.8 1.8 0 1 0 3.5 0a1.8 1.8 0 1 0 -3.5 0M324.3 396.6a1.3 1.3 0 1 0 2.6 0a1.3 1.3 0 1 0 -2.6 0M329.3 392.1a1.6 1.6 0 1 0 3.1 0a1.6 1.6 0 1 0 -3.1 0M326.3 411.0a1.9 1.9 0 1 0 3.8 0a1.9 1.9 0 1 0 -3.8 0M332.3 403.4a1.6 1.6 0 1 0 3.3 0a1.6 1.6 0 1 0 -3.3 0M314.5 366.9a1.5 1.5 0 1 0 3.1 0a1.5 1.5 0 1 0 -3.1 0M338.5 416.6a2.0 2.0 0 1 0 4.1 0a2.0 2.0 0 1 0 -4.1 0M333.4 422.6a1.7 1.7 0 1 0 3.4 0a1.7 1.7 0 1 0 -3.4 0M353.3 389.8a2.0 2.0 0 1 0 3.9 0a2.0 2.0 0 1 0 -3.9 0M363.3 384.0a1.5 1.5 0 1 0 2.9 0a1.5 1.5 0 1 0 -2.9 0M340.3 396.8a1.6 1.6 0 1 0 3.2 0a1.6 1.6 0 1 0 -3.2 0M301.9 388.7a1.7 1.7 0 1 0 3.4 0a1.7 1.7 0 1 0 -3.4 0M326.7 415.4a1.8 1.8 0 1 0 3.7 0a1.8 1.8 0 1 0 -3.7 0M347.0 417.5a2.0 2.0 0 1 0 3.9 0a2.0 2.0 0 1 0 -3.9 0M332.1 408.9a1.9 1.9 0 1 0 3.8 0a1.9 1.9 0 1 0 -3.8 0M342.0 402.3a1.7 1.7 0 1 0 3.3 0a1.7 1.7 0 1 0 -3.3 0M340.3 402.6a2.1 2.1 0 1 0 4.3 0a2.1 2.1 0 1 0 -4.3 0M350.0 414.6a2.0 2.0 0 1 0 4.0 0a2.0 2.0 0 1 0 -4.0 0M352.4 401.0a1.6 1.6 0 1 0 3.2 0a1.6 1.6 0 1 0 -3.2 0M317.7 406.8a2.1 2.1 0 1 0 4.2 0a2.1 2.1 0 1 0 -4.2 0M335.1 375.3a2.0 2.0 0 1 0 4.1 0a2.0 2.0 0 1 0 -4.1 0M332.1 393.1a1.3 1.3 0 1 0 2.7 0a1.3 1.3 0 1 0 -2.7 0M333.4 408.9a1.7 1.7 0 1 0 3.4 0a1.7 1.7 0 1 0 -3.4 0M324.1 403.9a1.3 1.3 0 1 0 2.6 0a1.3 1.3 0 1 0 -2.6 0M333.0 420.3a1.9 1.9 0 1 0 3.8 0a1.9 1.9 0 1 0 -3.8 0M326.5 405.7a1.8 1.8 0 1 0 3.7 0a1.8 1.8 0 1 0 -3.7 0M314.3 378.5a2.1 2.1 0 1 0 4.2 0a2.1 2.1 0 1 0 -4.2 0M318.1 370.9a2.0 2.0 0 1 0 4.1 0a2.0 2.0 0 1 0 -4.1 0M334.1 387.5a1.8 1.8 0 1 0 3.5 0a1.8 1.8 0 1 0 -3.5 0M347.3 376.2a1.9 1.9 0 1 0 3.8 0a1.9 1.9 0 1 0 -3.8 0M346.2 412.8a1.5 1.5 0 1 0 3.1 0a1.5 1.5 0 1 0 -3.1 0M339.5 379.8a1.8 1.8 0 1 0 3.6 0a1.8 1.8 0 1 0 -3.6 0M312.0 411.4a2.1 2.1 0 1 0 4.2 0a2.1 2.1 0 1 0 -4.2 0M321.7 379.3a2.2 2.2 0 1 0 4.3 0a2.2 2.2 0 1 0 -4.3 0M346.0 414.5a1.3 1.3 0 1 0 2.7 0a1.3 1.3 0 1 0 -2.7 0M357.7 401.9a1.6 1.6 0 1 0 3.2 0a1.6 1.6 0 1 0 -3.2 0M328.2 409.8a2.0 2.0 0 1 0 4.0 0a2.0 2.0 0 1 0 -4.0 0M313.7 402.1a1.4 1.4 0 1 0 2.9 0a1.4 1.4 0 1 0 -2.9 0M361.7 391.8a2.1 2.1 0 1 0 4.2 0a2.1 2.1 0 1 0 -4.2 0M347.1 401.0a1.5 1.5 0 1 0 3.1 0a1.5 1.5 0 1 0 -3.1 0M334.7 374.5a1.4 1.4 0 1 0 2.8 0a1.4 1.4 0 1 0 -2.8 0M345.9 387.1a2.0 2.0 0 1 0 4.0 0a2.0 2.0 0 1 0 -4.0 0M316.4 407.3a1.9 1.9 0 1 0 3.9 0a1.9 1.9 0 1 0 -3.9 0M320.7 372.7a1.7 1.7 0 1 0 3.3 0a1.7 1.7 0 1 0 -3.3 0M332.5 372.4a1.5 1.5 0 1 0 2.9 0a1.5 1.5 0 1 0 -2.9 0M304.7 400.5a2.1 2.1 0 1 0 4.2 0a2.1 2.1 0 1 0 -4.2 0M314.9 368.7a1.9 1.9 0 1 0 3.9 0a1.9 1.9 0 1 0 -3.9 0M352.2 421.3a1.9 1.9 0 1 0 3.7 0a1.9 1.9 0 1 0 -3.7 0M323.3 414.1a1.4 1.4 0 1 0 2.8 0a1.4 1.4 0 1 0 -2.8 0M344.8 372.1a1.7 1.7 0 1 0 3.3 0a1.7 1.7 0 1 0 -3.3 0M332.7 388.1a1.5 1.5 0 1 0 2.9 0a1.5 1.5 0 1 0 -2.9 0M316.1 413.1a1.7 1.7 0 1 0 3.4 0a1.7 1.7 0 1 0 -3.4 0M337.5 378.7a1.9 1.9 0 1 0 3.9 0a1.9 1.9 0 1 0 -3.9 0M321.8 400.3a2.1 2.1 0 1 0 4.2 0a2.1 2.1 0 1 0 -4.2 0M363.1 369.3a2.0 2.0 0 1 0 4.0 0a2.0 2.0 0 1 0 -4.0 0M355.0 384.8a1.6 1.6 0 1 0 3.3 0a1.6 1.6 0 1 0 -3.3 0M337.8 418.7a1.7 1.7 0 1 0 3.3 0a1.7 1.7 0 1 0 -3.3 0M356.6 409.6a1.4 1.4 0 1 0 2.9 0a1.4 1.4 0 1 0 -2.9 0M358.7 367.6a1.4 1.4 0 1 0 2.9 0a1.4 1.4 0 1 0 -2.9 0M343.0 369.9a1.6 1.6 0 1 0 3.3 0a1.6 1.6 0 1 0 -3.3 0M309.4 392.9a2.1 2.1 0 1 0 4.1 0a2.1 2.1 0 1 0 -4.1 0M358.3 368.7a1.4 1.4 0 1 0 2.7 0a1.4 1.4 0 1 0 -2.7 0M354.1 369.1a1.5 1.5 0 1 0 3.1 0a1.5 1.5 0 1 0 -3.1 0M309.4 371.9a1.3 1.3 0 1 0 2.6 0a1.3 1.3 0 1 0 -2.6 0M341.1 408.8a1.9 1.9 0 1 0 3.8 0a1.9 1.9 0 1 0 -3.8 0M354.3 404.2a1.7 1.7 0 1 0 3.3 0a1.7 1.7 0 1 0 -3.3 0M340.7 421.6a1.9 1.9 0 1 0 3.8 0a1.9 1.9 0 1 0 -3.8 0M316.4 370.1a2.1 2.1 0 1 0 4.3 0a2.1 2.1 0 1 0 -4.3 0M338.2 386.5a1.8 1.8 0 1 0 3.7 0a1.8 1.8 0 1 0 -3.7 0M336.8 396.3a1.4 1.4 0 1 0 2.7 0a1.4 1.4 0 1 0 -2.7 0M323.9 390.1a1.5 1.5 0 1 0 3.0 0a1.5 1.5 0 1 0 -3.0 0M356.2 390.7a1.9 1.9 0 1 0 3.8 0a1.9 1.9 0 1 0 -3.8 0M345.8 408.8a1.9 1.9 0 1 0 3.9 0a1.9 1.9 0 1 0 -3.9 0M347.9 380.9a2.2 2.2 0 1 0 4.4 0a2.2 2.2 0 1 0 -4.4 0M310.7 418.7a2.1 2.1 0 1 0 4.1 0a2.1 2.1 0 1 0 -4.1 0M354.9 369.7a1.4 1.4 0 1 0 2.8 0a1.4 1.4 0 1 0 -2.8 0M352.3 393.3a1.6 1.6 0 1 0 3.3 0a1.6 1.6 0 1 0 -3.3 0M362.8 369.0a1.8 1.8 0 1 0 3.6 0a1.8 1.8 0 1 0 -3.6 0M329.3 374.0a1.7 1.7 0 1 0 3.3 0a1.7 1.7 0 1 0 -3.3 0M346.0 416.6a1.3 1.3 0 1 0 2.6 0a1.3 1.3 0 1 0 -2.6 0M334.0 371.8a2.0 2.0 0 1 0 4.0 0a2.0 2.0 0 1 0 -4.0 0M307.1 368.6a1.6 1.6 0 1 0 3.3 0a1.6 1.6 0 1 0 -3.3 0M347.5 384.4a1.4 1.4 0 1 0 2.8 0a1.4 1.4 0 1 0 -2.8 0M350.7 412.4a2.1 2.1 0 1 0 4.1 0a2.1 2.1 0 1 0 -4.1 0M320.7 390.7a1.5 1.5 0 1 0 3.0 0a1.5 1.5 0 1 0 -3.0 0M336.4 385.4a1.6 1.6 0 1 0 3.2 0a1.6 1.6 0 1 0 -3.2 0M350.2 420.8a1.8 1.8 0 1 0 3.7 0a1.8 1.8 0 1 0 -3.7 0M308.2 403.6a1.7 1.7 0 1 0 3.4 0a1.7 1.7 0 1 0 -3.4 0M362.7 407.4a2.1 2.1 0 1 0 4.1 0a2.1 2.1 0 1 0 -4.1 0M344.8 397.0a2.1 2.1 0 1 0 4.2 0a2.1 2.1 0 1 0 -4.2 0M353.6 383.2a1.4 1.4 0 1 0 2.9 0a1.4 1.4 0 1 0 -2.9 0M325.0 396.2a1.4 1.4 0 1 0 2.8 0a1.4 1.4 0 1 0 -2.8 0M323.5 399.2a1.3 1.3 0 1 0 2.7 0a1.3 1.3 0 1 0 -2.7 0M352.4 403.6a1.6 1.6 0 1 0 3.2 0a1.6 1.6 0 1 0 -3.2 0M320.3 386.7a1.6 1.6 0 1 0 3.2 0a1.6 1.6 0 1 0 -3.2 0M348.1 395.1a1.8 1.8 0 1 0 3.5 0a1.8 1.8 0 1 0 -3.5 0M311.0 418.5a1.6 1.6 0 1 0 3.2 0a1.6 1.6 0 1 0 -3.2 0M321.6 370.6a2.2 2.2 0 1 0 4.4 0a2.2 2.2 0 1 0 -4.4 0M331.1 418.4a2.1 2.1 0 1 0 4.3 0a2.1 2.1 0 1 0 -4.3 0M361.5 412.9a2.1 2.1 0 1 0 4.3 0a2.1 2.1 0 1 0 -4.3 0M359.3 412.1a1.4 1.4 0 1 0 2.8 0a1.4 1.4 0 1 0 -2.8 0M333.7 399.3a2.2 2.2 0 1 0 4.4 0a2.2 2.2 0 1 0 -4.4 0M350.1 406.5a2.0 2.0 0 1 0 3.9 0a2.0 2.0 0 1 0 -3.9 0M324.0 420.0a1.9 1.9 0 1 0 3.8 0a1.9 1.9 0 1 0 -3.8 0" fill="#e6e6ee" stroke="#d6d8e5" stroke-width="0.45"/>
<path d="M328.4 393.0h0M353.0 407.8h0M337.0 413.2h0M363.7 397.4h0M349.1 398.7h0M327.2 393.0h0M342.9 414.9h0M365.2 412.8h0M356.7 400.1h0M362.4 390.1h0M337.5 397.0h0M313.8 381.3h0M309.8 409.6h0M360.9 421.5h0M306.9 402.1h0M336.6 370.0h0M323.0 394.6h0M310.8 416.9h0M338.4 395.2h0M308.7 379.4h0M309.1 423.2h0M322.1 379.1h0M320.4 367.8h0M328.4 372.6h0M307.7 422.0h0M355.7 414.7h0" stroke="#bfc3dc" stroke-width="1.5" stroke-linecap="round" fill="none"/>
<path d="M336.4 376.2h0M318.9 379.2h0M356.5 411.7h0M347.5 382.8h0M340.5 415.7h0M329.8 404.9h0M322.1 395.4h0M337.6 422.0h0M324.3 418.4h0M347.9 371.9h0M365.2 405.4h0M312.7 401.4h0M357.4 402.6h0M350.6 414.4h0M334.9 382.0h0M329.0 374.1h0M336.5 401.2h0M346.6 381.8h0M334.4 400.6h0M324.4 401.0h0M336.2 374.3h0M338.4 405.5h0M354.4 413.2h0M304.8 385.4h0M310.4 417.6h0M326.5 407.5h0M325.3 412.2h0M362.1 381.5h0M341.8 391.9h0M313.1 418.4h0M326.1 383.2h0M328.6 422.0h0M336.8 367.2h0M353.8 413.8h0" stroke="#cdd0e3" stroke-width="1.5" stroke-linecap="round" fill="none"/>
<path d="M359.7 377.1h0M343.3 376.5h0M304.8 387.5h0M328.7 367.2h0M335.3 394.3h0M341.6 395.6h0M305.9 414.9h0M336.0 397.4h0M340.8 399.6h0M319.1 367.2h0M327.5 412.2h0M349.3 405.8h0M347.8 394.5h0M357.2 373.7h0M321.7 395.4h0M352.4 402.0h0M362.1 382.0h0M349.3 399.6h0M320.1 407.4h0M325.9 371.1h0M341.0 416.0h0M309.1 399.3h0M338.5 397.0h0M314.3 378.9h0M345.4 413.5h0M356.1 388.3h0M331.9 410.8h0M320.5 387.7h0M341.0 369.7h0" stroke="#d6d6cc" stroke-width="1.5" stroke-linecap="round" fill="none"/>
<path d="M361.7 401.8h0M364.2 405.3h0M316.1 370.5h0M303.8 421.1h0M329.5 382.6h0M359.2 419.1h0M325.4 390.2h0M316.2 375.2h0M309.8 375.5h0M328.2 407.7h0M308.9 401.3h0M306.3 403.6h0M349.0 405.1h0M333.2 411.6h0M352.2 405.0h0M310.6 415.0h0M328.7 402.4h0M317.4 402.7h0M329.6 366.9h0M345.7 369.0h0M323.1 381.9h0M309.2 385.3h0M335.4 384.9h0M337.5 369.8h0M337.2 414.5h0M320.2 404.4h0M327.0 398.5h0M351.8 403.3h0" stroke="#c6c9df" stroke-width="1.5" stroke-linecap="round" fill="none"/>
</g>
<rect x="365.50" y="366.70" width="63.20" height="56.60" fill="#ebebf0" stroke="none" stroke-width="0.8"/>
<clipPath id="clip2"><rect x="365.5" y="366.7" width="63.19999999999999" height="56.60000000000002"/></clipPath>
<g clip-path="url(#clip2)">
<path d="M424.6 420.3a1.4 1.4 0 1 0 2.7 0a1.4 1.4 0 1 0 -2.7 0M368.9 414.0a2.0 2.0 0 1 0 3.9 0a2.0 2.0 0 1 0 -3.9 0M406.0 384.1a1.8 1.8 0 1 0 3.7 0a1.8 1.8 0 1 0 -3.7 0M402.4 399.6a1.4 1.4 0 1 0 2.9 0a1.4 1.4 0 1 0 -2.9 0M390.8 389.0a2.0 2.0 0 1 0 3.9 0a2.0 2.0 0 1 0 -3.9 0M426.6 420.4a1.8 1.8 0 1 0 3.6 0a1.8 1.8 0 1 0 -3.6 0M392.3 381.9a1.3 1.3 0 1 0 2.7 0a1.3 1.3 0 1 0 -2.7 0M365.6 393.0a1.6 1.6 0 1 0 3.2 0a1.6 1.6 0 1 0 -3.2 0M387.7 417.2a1.8 1.8 0 1 0 3.5 0a1.8 1.8 0 1 0 -3.5 0M399.6 380.1a1.3 1.3 0 1 0 2.6 0a1.3 1.3 0 1 0 -2.6 0M384.3 374.4a1.8 1.8 0 1 0 3.5 0a1.8 1.8 0 1 0 -3.5 0M427.2 404.9a1.5 1.5 0 1 0 2.9 0a1.5 1.5 0 1 0 -2.9 0M420.0 411.8a2.0 2.0 0 1 0 3.9 0a2.0 2.0 0 1 0 -3.9 0M420.8 409.9a2.0 2.0 0 1 0 4.0 0a2.0 2.0 0 1 0 -4.0 0M385.7 422.2a2.2 2.2 0 1 0 4.3 0a2.2 2.2 0 1 0 -4.3 0M373.7 409.4a1.9 1.9 0 1 0 3.9 0a1.9 1.9 0 1 0 -3.9 0M392.9 396.7a1.7 1.7 0 1 0 3.5 0a1.7 1.7 0 1 0 -3.5 0M421.9 395.0a2.0 2.0 0 1 0 4.1 0a2.0 2.0 0 1 0 -4.1 0M385.8 416.7a2.1 2.1 0 1 0 4.2 0a2.1 2.1 0 1 0 -4.2 0M392.5 398.8a2.1 2.1 0 1 0 4.3 0a2.1 2.1 0 1 0 -4.3 0M409.7 394.2a1.5 1.5 0 1 0 3.0 0a1.5 1.5 0 1 0 -3.0 0M384.6 406.3a1.4 1.4 0 1 0 2.9 0a1.4 1.4 0 1 0 -2.9 0M420.8 381.9a2.1 2.1 0 1 0 4.2 0a2.1 2.1 0 1 0 -4.2 0M383.1 420.9a1.9 1.9 0 1 0 3.9 0a1.9 1.9 0 1 0 -3.9 0M395.5 396.0a1.9 1.9 0 1 0 3.8 0a1.9 1.9 0 1 0 -3.8 0M401.2 384.4a1.5 1.5 0 1 0 3.0 0a1.5 1.5 0 1 0 -3.0 0M396.0 419.6a1.9 1.9 0 1 0 3.7 0a1.9 1.9 0 1 0 -3.7 0M368.3 413.1a2.0 2.0 0 1 0 3.9 0a2.0 2.0 0 1 0 -3.9 0M420.9 377.5a2.0 2.0 0 1 0 3.9 0a2.0 2.0 0 1 0 -3.9 0M367.7 403.7a1.5 1.5 0 1 0 3.1 0a1.5 1.5 0 1 0 -3.1 0M378.4 416.3a1.4 1.4 0 1 0 2.8 0a1.4 1.4 0 1 0 -2.8 0M397.0 415.0a1.5 1.5 0 1 0 3.0 0a1.5 1.5 0 1 0 -3.0 0M377.1 416.5a1.7 1.7 0 1 0 3.4 0a1.7 1.7 0 1 0 -3.4 0M409.2 368.5a1.6 1.6 0 1 0 3.3 0a1.6 1.6 0 1 0 -3.3 0M375.0 404.8a1.4 1.4 0 1 0 2.7 0a1.4 1.4 0 1 0 -2.7 0M423.9 368.1a2.0 2.0 0 1 0 3.9 0a2.0 2.0 0 1 0 -3.9 0M364.8 381.2a2.0 2.0 0 1 0 4.1 0a2.0 2.0 0 1 0 -4.1 0M373.5 377.1a1.9 1.9 0 1 0 3.8 0a1.9 1.9 0 1 0 -3.8 0M387.7 369.1a2.2 2.2 0 1 0 4.4 0a2.2 2.2 0 1 0 -4.4 0M373.5 368.8a1.6 1.6 0 1 0 3.2 0a1.6 1.6 0 1 0 -3.2 0M403.0 408.7a1.4 1.4 0 1 0 2.8 0a1.4 1.4 0 1 0 -2.8 0M385.1 368.4a1.7 1.7 0 1 0 3.4 0a1.7 1.7 0 1 0 -3.4 0M411.8 408.6a2.1 2.1 0 1 0 4.2 0a2.1 2.1 0 1 0 -4.2 0M411.3 415.5a1.9 1.9 0 1 0 3.9 0a1.9 1.9 0 1 0 -3.9 0M393.5 379.5a1.9 1.9 0 1 0 3.8 0a1.9 1.9 0 1 0 -3.8 0M383.8 372.5a1.7 1.7 0 1 0 3.4 0a1.7 1.7 0 1 0 -3.4 0M419.0 373.9a1.8 1.8 0 1 0 3.7 0a1.8 1.8 0 1 0 -3.7 0M388.9 395.8a1.4 1.4 0 1 0 2.9 0a1.4 1.4 0 1 0 -2.9 0M424.3 381.4a1.8 1.8 0 1 0 3.7 0a1.8 1.8 0 1 0 -3.7 0M390.2 367.7a1.8 1.8 0 1 0 3.6 0a1.8 1.8 0 1 0 -3.6 0M373.1 369.9a1.3 1.3 0 1 0 2.7 0a1.3 1.3 0 1 0 -2.7 0M373.8 372.1a1.9 1.9 0 1 0 3.7 0a1.9 1.9 0 1 0 -3.7 0M395.5 422.4a2.1 2.1 0 1 0 4.3 0a2.1 2.1 0 1 0 -4.3 0M426.7 379.9a1.7 1.7 0 1 0 3.4 0a1.7 1.7 0 1 0 -3.4 0M379.5 400.2a1.9 1.9 0 1 0 3.7 0a1.9 1.9 0 1 0 -3.7 0M414.5 406.9a1.5 1.5 0 1 0 3.1 0a1.5 1.5 0 1 0 -3.1 0M390.9 396.5a1.3 1.3 0 1 0 2.6 0a1.3 1.3 0 1 0 -2.6 0M366.3 389.8a1.4 1.4 0 1 0 2.8 0a1.4 1.4 0 1 0 -2.8 0M409.9 380.3a1.4 1.4 0 1 0 2.8 0a1.4 1.4 0 1 0 -2.8 0M375.5 379.8a1.5 1.5 0 1 0 3.0 0a1.5 1.5 0 1 0 -3.0 0M396.8 393.0a1.6 1.6 0 1 0 3.2 0a1.6 1.6 0 1 0 -3.2 0M403.9 378.7a2.1 2.1 0 1 0 4.2 0a2.1 2.1 0 1 0 -4.2 0M424.7 408.0a1.7 1.7 0 1 0 3.4 0a1.7 1.7 0 1 0 -3.4 0M396.5 399.6a1.3 1.3 0 1 0 2.7 0a1.3 1.3 0 1 0 -2.7 0M390.5 396.4a1.5 1.5 0 1 0 2.9 0a1.5 1.5 0 1 0 -2.9 0M369.8 412.1a1.6 1.6 0 1 0 3.3 0a1.6 1.6 0 1 0 -3.3 0M396.5 418.9a1.8 1.8 0 1 0 3.7 0a1.8 1.8 0 1 0 -3.7 0M382.2 422.4a1.6 1.6 0 1 0 3.3 0a1.6 1.6 0 1 0 -3.3 0M365.3 405.5a1.4 1.4 0 1 0 2.8 0a1.4 1.4 0 1 0 -2.8 0M382.9 414.3a1.9 1.9 0 1 0 3.8 0a1.9 1.9 0 1 0 -3.8 0M364.8 392.3a1.7 1.7 0 1 0 3.3 0a1.7 1.7 0 1 0 -3.3 0M394.4 378.5a1.8 1.8 0 1 0 3.7 0a1.8 1.8 0 1 0 -3.7 0M368.5 382.8a1.6 1.6 0 1 0 3.3 0a1.6 1.6 0 1 0 -3.3 0M422.6 371.0a2.0 2.0 0 1 0 4.0 0a2.0 2.0 0 1 0 -4.0 0M376.0 399.0a1.7 1.7 0 1 0 3.3 0a1.7 1.7 0 1 0 -3.3 0M393.1 409.4a1.7 1.7 0 1 0 3.3 0a1.7 1.7 0 1 0 -3.3 0M371.8 373.6a1.4 1.4 0 1 0 2.7 0a1.4 1.4 0 1 0 -2.7 0M417.1 403.0a2.2 2.2 0 1 0 4.3 0a2.2 2.2 0 1 0 -4.3 0M407.4 368.1a1.9 1.9 0 1 0 3.8 0a1.9 1.9 0 1 0 -3.8 0M412.9 407.7a1.7 1.7 0 1 0 3.5 0a1.7 1.7 0 1 0 -3.5 0M386.1 392.6a2.0 2.0 0 1 0 4.0 0a2.0 2.0 0 1 0 -4.0 0M380.8 396.5a1.7 1.7 0 1 0 3.5 0a1.7 1.7 0 1 0 -3.5 0M423.7 412.2a2.1 2.1 0 1 0 4.3 0a2.1 2.1 0 1 0 -4.3 0M416.8 383.5a1.5 1.5 0 1 0 3.0 0a1.5 1.5 0 1 0 -3.0 0M394.7 381.4a1.7 1.7 0 1 0 3.4 0a1.7 1.7 0 1 0 -3.4 0M406.6 418.7a1.8 1.8 0 1 0 3.7 0a1.8 1.8 0 1 0 -3.7 0M415.6 372.1a1.6 1.6 0 1 0 3.2 0a1.6 1.6 0 1 0 -3.2 0M426.9 375.0a1.7 1.7 0 1 0 3.4 0a1.7 1.7 0 1 0 -3.4 0M367.6 371.6a2.1 2.1 0 1 0 4.2 0a2.1 2.1 0 1 0 -4.2 0M426.6 403.4a1.4 1.4 0 1 0 2.8 0a1.4 1.4 0 1 0 -2.8 0M382.3 379.8a1.9 1.9 0 1 0 3.8 0a1.9 1.9 0 1 0 -3.8 0M406.8 391.5a1.8 1.8 0 1 0 3.5 0a1.8 1.8 0 1 0 -3.5 0M370.4 397.3a2.2 2.2 0 1 0 4.3 0a2.2 2.2 0 1 0 -4.3 0M411.5 372.1a1.8 1.8 0 1 0 3.5 0a1.8 1.8 0 1 0 -3.5 0M408.6 381.3a2.1 2.1 0 1 0 4.2 0a2.1 2.1 0 1 0 -4.2 0M393.0 406.5a1.7 1.7 0 1 0 3.3 0a1.7 1.7 0 1 0 -3.3 0M426.6 411.0a1.8 1.8 0 1 0 3.6 0a1.8 1.8 0 1 0 -3.6 0M373.3 391.7a1.3 1.3 0 1 0 2.7 0a1.3 1.3 0 1 0 -2.7 0M401.7 416.6a1.5 1.5 0 1 0 2.9 0a1.5 1.5 0 1 0 -2.9 0M396.1 394.0a1.7 1.7 0 1 0 3.3 0a1.7 1.7 0 1 0 -3.3 0M408.5 419.7a1.9 1.9 0 1 0 3.9 0a1.9 1.9 0 1 0 -3.9 0M393.8 421.1a1.6 1.6 0 1 0 3.2 0a1.6 1.6 0 1 0 -3.2 0M410.6 404.0a2.0 2.0 0 1 0 4.0 0a2.0 2.0 0 1 0 -4.0 0M417.5 379.4a1.9 1.9 0 1 0 3.7 0a1.9 1.9 0 1 0 -3.7 0M388.8 404.5a2.2 2.2 0 1 0 4.4 0a2.2 2.2 0 1 0 -4.4 0M403.9 367.4a1.7 1.7 0 1 0 3.4 0a1.7 1.7 0 1 0 -3.4 0M408.6 416.7a1.9 1.9 0 1 0 3.8 0a1.9 1.9 0 1 0 -3.8 0M414.9 367.7a2.1 2.1 0 1 0 4.3 0a2.1 2.1 0 1 0 -4.3 0M409.5 401.0a2.1 2.1 0 1 0 4.2 0a2.1 2.1 0 1 0 -4.2 0M419.4 372.4a2.0 2.0 0 1 0 4.1 0a2.0 2.0 0 1 0 -4.1 0M412.0 378.0a2.0 2.0 0 1 0 3.9 0a2.0 2.0 0 1 0 -3.9 0M400.5 377.5a2.0 2.0 0 1 0 4.0 0a2.0 2.0 0 1 0 -4.0 0M372.5 401.4a1.7 1.7 0 1 0 3.4 0a1.7 1.7 0 1 0 -3.4 0M379.8 398.7a1.7 1.7 0 1 0 3.4 0a1.7 1.7 0 1 0 -3.4 0M377.1 421.4a1.4 1.4 0 1 0 2.7 0a1.4 1.4 0 1 0 -2.7 0M363.6 394.2a2.1 2.1 0 1 0 4.1 0a2.1 2.1 0 1 0 -4.1 0M405.4 409.4a1.7 1.7 0 1 0 3.5 0a1.7 1.7 0 1 0 -3.5 0M406.6 385.7a1.5 1.5 0 1 0 3.1 0a1.5 1.5 0 1 0 -3.1 0M395.9 368.3a1.4 1.4 0 1 0 2.7 0a1.4 1.4 0 1 0 -2.7 0M411.2 376.5a2.0 2.0 0 1 0 4.0 0a2.0 2.0 0 1 0 -4.0 0M413.2 389.6a1.9 1.9 0 1 0 3.8 0a1.9 1.9 0 1 0 -3.8 0M413.8 415.6a1.4 1.4 0 1 0 2.8 0a1.4 1.4 0 1 0 -2.8 0M374.1 388.3a1.7 1.7 0 1 0 3.4 0a1.7 1.7 0 1 0 -3.4 0M382.3 367.3a1.8 1.8 0 1 0 3.6 0a1.8 1.8 0 1 0 -3.6 0M424.8 387.4a1.8 1.8 0 1 0 3.6 0a1.8 1.8 0 1 0 -3.6 0M387.6 391.8a2.1 2.1 0 1 0 4.2 0a2.1 2.1 0 1 0 -4.2 0M383.3 403.4a1.7 1.7 0 1 0 3.5 0a1.7 1.7 0 1 0 -3.5 0M398.2 418.5a1.4 1.4 0 1 0 2.7 0a1.4 1.4 0 1 0 -2.7 0M415.7 383.9a1.9 1.9 0 1 0 3.8 0a1.9 1.9 0 1 0 -3.8 0M414.1 403.7a1.7 1.7 0 1 0 3.3 0a1.7 1.7 0 1 0 -3.3 0M416.8 372.0a1.9 1.9 0 1 0 3.7 0a1.9 1.9 0 1 0 -3.7 0M388.2 396.7a2.1 2.1 0 1 0 4.1 0a2.1 2.1 0 1 0 -4.1 0M414.3 402.3a1.6 1.6 0 1 0 3.2 0a1.6 1.6 0 1 0 -3.2 0M378.7 392.6a1.5 1.5 0 1 0 3.0 0a1.5 1.5 0 1 0 -3.0 0M381.6 420.9a1.4 1.4 0 1 0 2.8 0a1.4 1.4 0 1 0 -2.8 0M415.6 388.2a1.6 1.6 0 1 0 3.3 0a1.6 1.6 0 1 0 -3.3 0M383.9 371.1a1.7 1.7 0 1 0 3.4 0a1.7 1.7 0 1 0 -3.4 0M374.5 391.7a1.6 1.6 0 1 0 3.1 0a1.6 1.6 0 1 0 -3.1 0M420.3 418.9a1.7 1.7 0 1 0 3.4 0a1.7 1.7 0 1 0 -3.4 0M404.3 419.3a1.6 1.6 0 1 0 3.2 0a1.6 1.6 0 1 0 -3.2 0M370.3 380.2a1.5 1.5 0 1 0 2.9 0a1.5 1.5 0 1 0 -2.9 0M406.8 387.9a1.6 1.6 0 1 0 3.2 0a1.6 1.6 0 1 0 -3.2 0M413.7 379.9a2.0 2.0 0 1 0 4.1 0a2.0 2.0 0 1 0 -4.1 0M403.5 389.4a2.0 2.0 0 1 0 4.1 0a2.0 2.0 0 1 0 -4.1 0M385.0 416.4a2.1 2.1 0 1 0 4.3 0a2.1 2.1 0 1 0 -4.3 0M395.1 405.8a2.2 2.2 0 1 0 4.3 0a2.2 2.2 0 1 0 -4.3 0M410.3 409.2a2.1 2.1 0 1 0 4.2 0a2.1 2.1 0 1 0 -4.2 0M422.4 409.4a2.2 2.2 0 1 0 4.4 0a2.2 2.2 0 1 0 -4.4 0M382.0 401.9a1.9 1.9 0 1 0 3.8 0a1.9 1.9 0 1 0 -3.8 0M387.3 389.1a1.5 1.5 0 1 0 2.9 0a1.5 1.5 0 1 0 -2.9 0M424.3 386.7a1.7 1.7 0 1 0 3.5 0a1.7 1.7 0 1 0 -3.5 0M419.8 377.3a2.2 2.2 0 1 0 4.3 0a2.2 2.2 0 1 0 -4.3 0M371.9 368.3a1.6 1.6 0 1 0 3.2 0a1.6 1.6 0 1 0 -3.2 0M386.1 418.6a2.1 2.1 0 1 0 4.2 0a2.1 2.1 0 1 0 -4.2 0M411.8 391.4a1.8 1.8 0 1 0 3.6 0a1.8 1.8 0 1 0 -3.6 0M378.8 413.9a1.7 1.7 0 1 0 3.3 0a1.7 1.7 0 1 0 -3.3 0M382.1 402.8a1.4 1.4 0 1 0 2.9 0a1.4 1.4 0 1 0 -2.9 0M384.1 419.1a1.4 1.4 0 1 0 2.8 0a1.4 1.4 0 1 0 -2.8 0M373.0 378.3a1.5 1.5 0 1 0 3.1 0a1.5 1.5 0 1 0 -3.1 0M390.5 380.9a1.6 1.6 0 1 0 3.2 0a1.6 1.6 0 1 0 -3.2 0M379.2 380.3a1.8 1.8 0 1 0 3.7 0a1.8 1.8 0 1 0 -3.7 0M384.8 387.8a2.0 2.0 0 1 0 4.0 0a2.0 2.0 0 1 0 -4.0 0M367.3 374.9a2.1 2.1 0 1 0 4.1 0a2.1 2.1 0 1 0 -4.1 0M391.2 410.8a1.4 1.4 0 1 0 2.8 0a1.4 1.4 0 1 0 -2.8 0M396.9 414.5a1.6 1.6 0 1 0 3.2 0a1.6 1.6 0 1 0 -3.2 0M412.4 401.2a1.7 1.7 0 1 0 3.3 0a1.7 1.7 0 1 0 -3.3 0M426.8 388.9a1.7 1.7 0 1 0 3.5 0a1.7 1.7 0 1 0 -3.5 0M402.6 384.6a2.1 2.1 0 1 0 4.1 0a2.1 2.1 0 1 0 -4.1 0M401.5 400.0a1.8 1.8 0 1 0 3.6 0a1.8 1.8 0 1 0 -3.6 0M425.7 422.7a2.1 2.1 0 1 0 4.1 0a2.1 2.1 0 1 0 -4.1 0M392.5 390.0a1.8 1.8 0 1 0 3.5 0a1.8 1.8 0 1 0 -3.5 0M366.2 372.8a2.2 2.2 0 1 0 4.4 0a2.2 2.2 0 1 0 -4.4 0M371.7 419.8a1.9 1.9 0 1 0 3.8 0a1.9 1.9 0 1 0 -3.8 0M421.8 371.1a1.6 1.6 0 1 0 3.2 0a1.6 1.6 0 1 0 -3.2 0M414.5 367.2a1.4 1.4 0 1 0 2.8 0a1.4 1.4 0 1 0 -2.8 0M386.2 376.5a1.4 1.4 0 1 0 2.9 0a1.4 1.4 0 1 0 -2.9 0M405.7 371.9a2.2 2.2 0 1 0 4.3 0a2.2 2.2 0 1 0 -4.3 0M404.4 369.5a2.1 2.1 0 1 0 4.2 0a2.1 2.1 0 1 0 -4.2 0M379.0 394.0a1.8 1.8 0 1 0 3.6 0a1.8 1.8 0 1 0 -3.6 0M372.9 395.1a1.4 1.4 0 1 0 2.7 0a1.4 1.4 0 1 0 -2.7 0M376.1 418.7a2.0 2.0 0 1 0 4.1 0a2.0 2.0 0 1 0 -4.1 0M396.5 405.3a2.1 2.1 0 1 0 4.2 0a2.1 2.1 0 1 0 -4.2 0M372.9 394.6a1.4 1.4 0 1 0 2.8 0a1.4 1.4 0 1 0 -2.8 0M371.4 372.8a1.5 1.5 0 1 0 3.0 0a1.5 1.5 0 1 0 -3.0 0M367.2 378.9a1.6 1.6 0 1 0 3.3 0a1.6 1.6 0 1 0 -3.3 0M402.7 415.3a2.1 2.1 0 1 0 4.2 0a2.1 2.1 0 1 0 -4.2 0M408.7 395.4a2.1 2.1 0 1 0 4.3 0a2.1 2.1 0 1 0 -4.3 0M373.8 372.7a2.0 2.0 0 1 0 4.1 0a2.0 2.0 0 1 0 -4.1 0M403.5 378.6a1.6 1.6 0 1 0 3.3 0a1.6 1.6 0 1 0 -3.3 0M382.6 391.1a1.7 1.7 0 1 0 3.4 0a1.7 1.7 0 1 0 -3.4 0M388.6 411.9a2.0 2.0 0 1 0 4.1 0a2.0 2.0 0 1 0 -4.1 0M399.5 393.5a1.6 1.6 0 1 0 3.1 0a1.6 1.6 0 1 0 -3.1 0M412.4 422.6a1.5 1.5 0 1 0 3.0 0a1.5 1.5 0 1 0 -3.0 0M408.0 406.3a1.9 1.9 0 1 0 3.8 0a1.9 1.9 0 1 0 -3.8 0M366.0 397.9a1.5 1.5 0 1 0 3.0 0a1.5 1.5 0 1 0 -3.0 0M375.9 399.5a1.9 1.9 0 1 0 3.8 0a1.9 1.9 0 1 0 -3.8 0M403.1 408.7a1.9 1.9 0 1 0 3.9 0a1.9 1.9 0 1 0 -3.9 0M393.5 369.4a2.0 2.0 0 1 0 4.0 0a2.0 2.0 0 1 0 -4.0 0M415.7 414.0a1.8 1.8 0 1 0 3.7 0a1.8 1.8 0 1 0 -3.7 0M366.5 377.8a1.4 1.4 0 1 0 2.8 0a1.4 1.4 0 1 0 -2.8 0M404.2 397.5a1.5 1.5 0 1 0 2.9 0a1.5 1.5 0 1 0 -2.9 0M423.8 422.1a2.1 2.1 0 1 0 4.2 0a2.1 2.1 0 1 0 -4.2 0M393.3 383.2a1.5 1.5 0 1 0 3.0 0a1.5 1.5 0 1 0 -3.0 0M416.0 406.4a1.5 1.5 0 1 0 3.1 0a1.5 1.5 0 1 0 -3.1 0M420.9 398.9a1.7 1.7 0 1 0 3.3 0a1.7 1.7 0 1 0 -3.3 0M390.0 407.5a1.7 1.7 0 1 0 3.4 0a1.7 1.7 0 1 0 -3.4 0M405.2 373.6a1.9 1.9 0 1 0 3.9 0a1.9 1.9 0 1 0 -3.9 0M381.2 418.2a1.5 1.5 0 1 0 3.0 0a1.5 1.5 0 1 0 -3.0 0M384.9 397.2a1.7 1.7 0 1 0 3.3 0a1.7 1.7 0 1 0 -3.3 0M397.2 419.0a1.5 1.5 0 1 0 3.0 0a1.5 1.5 0 1 0 -3.0 0M412.3 405.9a2.0 2.0 0 1 0 4.0 0a2.0 2.0 0 1 0 -4.0 0M392.2 392.4a1.6 1.6 0 1 0 3.2 0a1.6 1.6 0 1 0 -3.2 0M393.9 381.1a1.5 1.5 0 1 0 2.9 0a1.5 1.5 0 1 0 -2.9 0M393.9 377.6a1.7 1.7 0 1 0 3.4 0a1.7 1.7 0 1 0 -3.4 0M400.3 384.2a1.5 1.5 0 1 0 2.9 0a1.5 1.5 0 1 0 -2.9 0M402.2 415.4a1.5 1.5 0 1 0 3.0 0a1.5 1.5 0 1 0 -3.0 0M402.3 404.0a2.1 2.1 0 1 0 4.2 0a2.1 2.1 0 1 0 -4.2 0M407.1 384.1a1.5 1.5 0 1 0 3.0 0a1.5 1.5 0 1 0 -3.0 0M417.1 383.6a1.3 1.3 0 1 0 2.6 0a1.3 1.3 0 1 0 -2.6 0M418.9 377.9a1.6 1.6 0 1 0 3.2 0a1.6 1.6 0 1 0 -3.2 0M383.7 381.2a2.0 2.0 0 1 0 3.9 0a2.0 2.0 0 1 0 -3.9 0M385.5 391.6a1.7 1.7 0 1 0 3.4 0a1.7 1.7 0 1 0 -3.4 0M416.4 367.7a1.8 1.8 0 1 0 3.6 0a1.8 1.8 0 1 0 -3.6 0M372.0 375.2a1.8 1.8 0 1 0 3.7 0a1.8 1.8 0 1 0 -3.7 0M387.4 370.4a1.8 1.8 0 1 0 3.7 0a1.8 1.8 0 1 0 -3.7 0M421.5 403.2a1.7 1.7 0 1 0 3.5 0a1.7 1.7 0 1 0 -3.5 0M414.7 418.5a1.4 1.4 0 1 0 2.9 0a1.4 1.4 0 1 0 -2.9 0M382.3 421.3a2.1 2.1 0 1 0 4.3 0a2.1 2.1 0 1 0 -4.3 0M376.2 406.5a2.1 2.1 0 1 0 4.2 0a2.1 2.1 0 1 0 -4.2 0M401.1 406.4a1.8 1.8 0 1 0 3.5 0a1.8 1.8 0 1 0 -3.5 0M379.0 378.8a1.4 1.4 0 1 0 2.7 0a1.4 1.4 0 1 0 -2.7 0M405.7 374.5a1.9 1.9 0 1 0 3.7 0a1.9 1.9 0 1 0 -3.7 0M388.1 391.4a2.2 2.2 0 1 0 4.3 0a2.2 2.2 0 1 0 -4.3 0M388.6 393.6a1.6 1.6 0 1 0 3.3 0a1.6 1.6 0 1 0 -3.3 0M377.3 379.4a1.8 1.8 0 1 0 3.6 0a1.8 1.8 0 1 0 -3.6 0M415.0 371.8a2.2 2.2 0 1 0 4.3 0a2.2 2.2 0 1 0 -4.3 0M406.2 369.7a1.9 1.9 0 1 0 3.9 0a1.9 1.9 0 1 0 -3.9 0M389.5 395.8a1.4 1.4 0 1 0 2.8 0a1.4 1.4 0 1 0 -2.8 0M395.7 396.1a2.0 2.0 0 1 0 4.0 0a2.0 2.0 0 1 0 -4.0 0M400.3 406.6a2.0 2.0 0 1 0 3.9 0a2.0 2.0 0 1 0 -3.9 0M377.7 368.1a1.7 1.7 0 1 0 3.5 0a1.7 1.7 0 1 0 -3.5 0M372.1 374.7a1.6 1.6 0 1 0 3.2 0a1.6 1.6 0 1 0 -3.2 0M397.6 401.6a1.9 1.9 0 1 0 3.8 0a1.9 1.9 0 1 0 -3.8 0M423.3 372.5a1.8 1.8 0 1 0 3.6 0a1.8 1.8 0 1 0 -3.6 0M369.3 404.6a1.7 1.7 0 1 0 3.4 0a1.7 1.7 0 1 0 -3.4 0M372.5 384.3a1.9 1.9 0 1 0 3.8 0a1.9 1.9 0 1 0 -3.8 0M393.8 420.2a1.6 1.6 0 1 0 3.2 0a1.6 1.6 0 1 0 -3.2 0M385.1 418.9a1.8 1.8 0 1 0 3.7 0a1.8 1.8 0 1 0 -3.7 0M370.6 411.1a1.6 1.6 0 1 0 3.3 0a1.6 1.6 0 1 0 -3.3 0M423.4 402.7a2.0 2.0 0 1 0 4.0 0a2.0 2.0 0 1 0 -4.0 0M420.0 395.5a2.2 2.2 0 1 0 4.3 0a2.2 2.2 0 1 0 -4.3 0M365.1 386.0a2.1 2.1 0 1 0 4.1 0a2.1 2.1 0 1 0 -4.1 0M363.8 404.8a2.2 2.2 0 1 0 4.4 0a2.2 2.2 0 1 0 -4.4 0M409.3 415.5a1.4 1.4 0 1 0 2.7 0a1.4 1.4 0 1 0 -2.7 0M398.0 401.2a1.7 1.7 0 1 0 3.4 0a1.7 1.7 0 1 0 -3.4 0M390.6 411.4a1.4 1.4 0 1 0 2.9 0a1.4 1.4 0 1 0 -2.9 0M366.2 400.3a2.2 2.2 0 1 0 4.3 0a2.2 2.2 0 1 0 -4.3 0M416.2 404.8a1.6 1.6 0 1 0 3.1 0a1.6 1.6 0 1 0 -3.1 0M421.1 369.0a1.5 1.5 0 1 0 3.0 0a1.5 1.5 0 1 0 -3.0 0M413.6 417.3a1.7 1.7 0 1 0 3.3 0a1.7 1.7 0 1 0 -3.3 0M421.1 373.0a1.8 1.8 0 1 0 3.7 0a1.8 1.8 0 1 0 -3.7 0M368.3 379.9a1.5 1.5 0 1 0 2.9 0a1.5 1.5 0 1 0 -2.9 0M364.1 389.6a1.8 1.8 0 1 0 3.5 0a1.8 1.8 0 1 0 -3.5 0M381.9 403.6a1.3 1.3 0 1 0 2.7 0a1.3 1.3 0 1 0 -2.7 0M396.5 396.6a1.7 1.7 0 1 0 3.3 0a1.7 1.7 0 1 0 -3.3 0M421.6 373.9a1.7 1.7 0 1 0 3.4 0a1.7 1.7 0 1 0 -3.4 0M392.4 387.8a2.2 2.2 0 1 0 4.4 0a2.2 2.2 0 1 0 -4.4 0M399.9 395.9a1.7 1.7 0 1 0 3.4 0a1.7 1.7 0 1 0 -3.4 0M391.1 420.5a2.0 2.0 0 1 0 4.0 0a2.0 2.0 0 1 0 -4.0 0M404.6 375.9a1.8 1.8 0 1 0 3.7 0a1.8 1.8 0 1 0 -3.7 0M372.3 386.6a1.3 1.3 0 1 0 2.6 0a1.3 1.3 0 1 0 -2.6 0M408.2 422.0a1.9 1.9 0 1 0 3.7 0a1.9 1.9 0 1 0 -3.7 0M399.8 380.9a1.7 1.7 0 1 0 3.4 0a1.7 1.7 0 1 0 -3.4 0M393.3 390.6a1.5 1.5 0 1 0 3.1 0a1.5 1.5 0 1 0 -3.1 0M377.2 409.2a2.2 2.2 0 1 0 4.3 0a2.2 2.2 0 1 0 -4.3 0" fill="#e6e6ee" stroke="#d6d8e5" stroke-width="0.45"/>
<path d="M417.4 401.9h0M392.5 419.4h0M402.9 378.4h0M367.4 394.6h0M366.1 389.7h0M412.3 382.2h0M374.8 394.1h0M375.3 418.9h0M385.1 409.8h0M387.0 375.2h0M426.3 373.2h0M407.7 378.6h0M398.8 373.4h0M405.5 401.5h0M378.1 422.2h0M394.3 384.5h0M387.3 389.0h0M413.8 392.9h0M392.2 405.7h0M401.8 384.9h0M421.5 392.7h0M408.4 379.2h0M397.9 407.3h0M424.8 408.2h0" stroke="#c6c9df" stroke-width="1.5" stroke-linecap="round" fill="none"/>
<path d="M427.0 397.7h0M394.6 420.6h0M394.1 420.0h0M384.4 407.1h0M372.7 420.0h0M376.8 413.9h0M421.4 400.8h0M401.7 380.4h0M365.6 410.1h0M366.2 416.4h0M423.0 403.0h0M423.1 417.4h0M419.4 386.6h0M385.9 382.1h0M408.3 393.9h0M390.3 422.9h0M382.5 381.8h0M401.5 421.3h0M420.1 388.6h0M374.4 395.9h0M401.8 413.4h0M415.0 377.7h0" stroke="#bfc3dc" stroke-width="1.5" stroke-linecap="round" fill="none"/>
<path d="M408.9 380.7h0M388.6 414.6h0M412.7 403.7h0M372.9 400.5h0M371.2 408.7h0M391.2 418.3h0M407.9 404.5h0M385.9 384.6h0M415.0 396.5h0M390.9 418.7h0M386.6 410.9h0M401.4 407.8h0M378.7 393.2h0M367.8 387.4h0M374.5 416.5h0M419.7 406.1h0M426.9 394.6h0M418.2 385.6h0M380.5 392.5h0M377.5 366.8h0M385.0 390.3h0M427.8 376.5h0M384.1 399.3h0M401.1 381.2h0M421.9 414.7h0M420.2 384.1h0M393.1 368.5h0M367.1 401.8h0" stroke="#d6d6cc" stroke-width="1.5" stroke-linecap="round" fill="none"/>
<path d="M422.8 380.6h0M392.0 395.3h0M423.2 398.2h0M374.8 404.3h0M391.3 394.9h0M420.8 402.9h0M379.6 401.4h0M413.7 371.6h0M427.5 377.0h0M399.6 403.4h0M420.0 399.9h0M406.5 405.0h0M418.8 401.5h0M423.5 422.9h0M365.6 371.4h0M373.2 420.9h0M383.6 368.2h0M370.4 418.3h0M402.6 393.0h0M415.0 375.4h0M416.3 403.2h0M414.5 395.3h0M387.7 420.9h0M419.9 409.3h0M384.3 417.1h0M422.2 386.6h0M425.4 410.6h0M371.1 419.3h0M416.4 422.7h0M406.8 386.2h0M373.4 420.6h0M392.1 410.0h0M370.9 413.9h0M399.4 384.5h0M412.7 381.4h0M386.8 379.5h0M376.1 374.1h0M417.2 414.7h0M398.6 382.5h0M388.9 372.7h0M427.7 391.2h0M397.6 417.2h0M400.0 383.8h0M411.4 411.5h0M400.3 401.0h0" stroke="#cdd0e3" stroke-width="1.5" stroke-linecap="round" fill="none"/>
</g>
<rect x="303.40" y="423.30" width="62.10" height="56.50" fill="#ebebf0" stroke="none" stroke-width="0.8"/>
<clipPath id="clip3"><rect x="303.4" y="423.3" width="62.10000000000002" height="56.5"/></clipPath>
<g clip-path="url(#clip3)">
<path d="M316.5 454.0a1.6 1.6 0 1 0 3.3 0a1.6 1.6 0 1 0 -3.3 0M339.5 458.7a1.4 1.4 0 1 0 2.7 0a1.4 1.4 0 1 0 -2.7 0M302.7 470.6a1.5 1.5 0 1 0 3.1 0a1.5 1.5 0 1 0 -3.1 0M316.2 479.6a1.7 1.7 0 1 0 3.4 0a1.7 1.7 0 1 0 -3.4 0M353.5 450.2a1.9 1.9 0 1 0 3.8 0a1.9 1.9 0 1 0 -3.8 0M310.7 459.2a2.1 2.1 0 1 0 4.2 0a2.1 2.1 0 1 0 -4.2 0M334.0 465.2a1.9 1.9 0 1 0 3.8 0a1.9 1.9 0 1 0 -3.8 0M305.5 466.1a1.8 1.8 0 1 0 3.7 0a1.8 1.8 0 1 0 -3.7 0M320.0 425.1a2.1 2.1 0 1 0 4.2 0a2.1 2.1 0 1 0 -4.2 0M330.7 463.9a2.1 2.1 0 1 0 4.2 0a2.1 2.1 0 1 0 -4.2 0M346.1 475.3a1.7 1.7 0 1 0 3.3 0a1.7 1.7 0 1 0 -3.3 0M351.0 448.4a2.1 2.1 0 1 0 4.3 0a2.1 2.1 0 1 0 -4.3 0M356.6 428.8a1.4 1.4 0 1 0 2.8 0a1.4 1.4 0 1 0 -2.8 0M315.2 477.8a1.7 1.7 0 1 0 3.4 0a1.7 1.7 0 1 0 -3.4 0M340.6 440.3a1.8 1.8 0 1 0 3.5 0a1.8 1.8 0 1 0 -3.5 0M325.5 443.1a1.8 1.8 0 1 0 3.7 0a1.8 1.8 0 1 0 -3.7 0M337.8 474.4a1.9 1.9 0 1 0 3.8 0a1.9 1.9 0 1 0 -3.8 0M358.9 471.7a2.2 2.2 0 1 0 4.4 0a2.2 2.2 0 1 0 -4.4 0M343.0 432.5a2.1 2.1 0 1 0 4.1 0a2.1 2.1 0 1 0 -4.1 0M361.5 474.4a1.8 1.8 0 1 0 3.6 0a1.8 1.8 0 1 0 -3.6 0M345.7 435.2a2.0 2.0 0 1 0 4.1 0a2.0 2.0 0 1 0 -4.1 0M337.7 439.4a1.4 1.4 0 1 0 2.7 0a1.4 1.4 0 1 0 -2.7 0M355.1 479.2a1.4 1.4 0 1 0 2.8 0a1.4 1.4 0 1 0 -2.8 0M351.7 446.5a1.4 1.4 0 1 0 2.9 0a1.4 1.4 0 1 0 -2.9 0M319.6 466.7a2.1 2.1 0 1 0 4.2 0a2.1 2.1 0 1 0 -4.2 0M304.8 458.0a1.3 1.3 0 1 0 2.7 0a1.3 1.3 0 1 0 -2.7 0M345.9 442.0a2.1 2.1 0 1 0 4.2 0a2.1 2.1 0 1 0 -4.2 0M362.1 451.9a2.2 2.2 0 1 0 4.4 0a2.2 2.2 0 1 0 -4.4 0M320.8 427.6a1.8 1.8 0 1 0 3.7 0a1.8 1.8 0 1 0 -3.7 0M303.7 434.5a1.7 1.7 0 1 0 3.3 0a1.7 1.7 0 1 0 -3.3 0M340.0 432.1a1.3 1.3 0 1 0 2.7 0a1.3 1.3 0 1 0 -2.7 0M355.1 441.0a2.2 2.2 0 1 0 4.3 0a2.2 2.2 0 1 0 -4.3 0M357.4 444.6a1.7 1.7 0 1 0 3.4 0a1.7 1.7 0 1 0 -3.4 0M333.9 459.7a1.8 1.8 0 1 0 3.7 0a1.8 1.8 0 1 0 -3.7 0M336.0 458.3a2.1 2.1 0 1 0 4.3 0a2.1 2.1 0 1 0 -4.3 0M332.9 447.7a1.9 1.9 0 1 0 3.9 0a1.9 1.9 0 1 0 -3.9 0M316.0 440.3a2.2 2.2 0 1 0 4.4 0a2.2 2.2 0 1 0 -4.4 0M334.5 454.3a1.3 1.3 0 1 0 2.6 0a1.3 1.3 0 1 0 -2.6 0M327.9 456.1a1.3 1.3 0 1 0 2.6 0a1.3 1.3 0 1 0 -2.6 0M340.3 459.0a1.4 1.4 0 1 0 2.7 0a1.4 1.4 0 1 0 -2.7 0M340.4 449.6a1.9 1.9 0 1 0 3.8 0a1.9 1.9 0 1 0 -3.8 0M323.3 463.2a2.0 2.0 0 1 0 3.9 0a2.0 2.0 0 1 0 -3.9 0M302.9 426.7a1.9 1.9 0 1 0 3.8 0a1.9 1.9 0 1 0 -3.8 0M361.5 437.5a1.7 1.7 0 1 0 3.4 0a1.7 1.7 0 1 0 -3.4 0M338.6 441.4a1.6 1.6 0 1 0 3.3 0a1.6 1.6 0 1 0 -3.3 0M321.0 444.2a1.8 1.8 0 1 0 3.7 0a1.8 1.8 0 1 0 -3.7 0M320.1 444.6a2.0 2.0 0 1 0 4.0 0a2.0 2.0 0 1 0 -4.0 0M303.1 455.5a2.0 2.0 0 1 0 3.9 0a2.0 2.0 0 1 0 -3.9 0M320.6 435.9a2.0 2.0 0 1 0 4.0 0a2.0 2.0 0 1 0 -4.0 0M316.5 433.9a1.7 1.7 0 1 0 3.4 0a1.7 1.7 0 1 0 -3.4 0M345.2 429.1a1.6 1.6 0 1 0 3.2 0a1.6 1.6 0 1 0 -3.2 0M322.4 470.4a1.7 1.7 0 1 0 3.4 0a1.7 1.7 0 1 0 -3.4 0M354.9 432.9a1.6 1.6 0 1 0 3.2 0a1.6 1.6 0 1 0 -3.2 0M342.1 473.3a1.7 1.7 0 1 0 3.4 0a1.7 1.7 0 1 0 -3.4 0M315.6 430.1a1.8 1.8 0 1 0 3.6 0a1.8 1.8 0 1 0 -3.6 0M313.2 468.9a2.1 2.1 0 1 0 4.1 0a2.1 2.1 0 1 0 -4.1 0M312.8 439.0a2.0 2.0 0 1 0 4.1 0a2.0 2.0 0 1 0 -4.1 0M341.7 468.9a1.6 1.6 0 1 0 3.2 0a1.6 1.6 0 1 0 -3.2 0M309.4 439.8a2.0 2.0 0 1 0 4.0 0a2.0 2.0 0 1 0 -4.0 0M318.6 442.9a1.7 1.7 0 1 0 3.4 0a1.7 1.7 0 1 0 -3.4 0M327.3 446.4a2.1 2.1 0 1 0 4.3 0a2.1 2.1 0 1 0 -4.3 0M310.9 423.6a2.1 2.1 0 1 0 4.3 0a2.1 2.1 0 1 0 -4.3 0M356.4 479.1a1.7 1.7 0 1 0 3.4 0a1.7 1.7 0 1 0 -3.4 0M360.9 475.7a1.5 1.5 0 1 0 3.0 0a1.5 1.5 0 1 0 -3.0 0M347.8 470.6a1.9 1.9 0 1 0 3.8 0a1.9 1.9 0 1 0 -3.8 0M334.0 439.6a1.6 1.6 0 1 0 3.2 0a1.6 1.6 0 1 0 -3.2 0M315.7 427.1a1.8 1.8 0 1 0 3.7 0a1.8 1.8 0 1 0 -3.7 0M319.9 469.1a1.3 1.3 0 1 0 2.7 0a1.3 1.3 0 1 0 -2.7 0M357.4 462.5a2.1 2.1 0 1 0 4.3 0a2.1 2.1 0 1 0 -4.3 0M357.3 474.1a1.8 1.8 0 1 0 3.6 0a1.8 1.8 0 1 0 -3.6 0M302.8 465.4a1.5 1.5 0 1 0 2.9 0a1.5 1.5 0 1 0 -2.9 0M320.3 460.8a1.8 1.8 0 1 0 3.5 0a1.8 1.8 0 1 0 -3.5 0M327.2 476.4a1.9 1.9 0 1 0 3.7 0a1.9 1.9 0 1 0 -3.7 0M322.5 437.6a2.1 2.1 0 1 0 4.2 0a2.1 2.1 0 1 0 -4.2 0M331.4 467.5a1.6 1.6 0 1 0 3.2 0a1.6 1.6 0 1 0 -3.2 0M313.6 453.5a2.0 2.0 0 1 0 4.1 0a2.0 2.0 0 1 0 -4.1 0M311.9 468.0a2.1 2.1 0 1 0 4.3 0a2.1 2.1 0 1 0 -4.3 0M352.1 469.8a1.3 1.3 0 1 0 2.6 0a1.3 1.3 0 1 0 -2.6 0M341.1 472.0a1.3 1.3 0 1 0 2.7 0a1.3 1.3 0 1 0 -2.7 0M318.5 438.5a1.8 1.8 0 1 0 3.5 0a1.8 1.8 0 1 0 -3.5 0M327.7 450.0a2.0 2.0 0 1 0 4.0 0a2.0 2.0 0 1 0 -4.0 0M302.1 426.4a1.4 1.4 0 1 0 2.8 0a1.4 1.4 0 1 0 -2.8 0M309.0 427.2a2.2 2.2 0 1 0 4.4 0a2.2 2.2 0 1 0 -4.4 0M354.7 428.2a1.8 1.8 0 1 0 3.5 0a1.8 1.8 0 1 0 -3.5 0M321.4 441.1a1.6 1.6 0 1 0 3.2 0a1.6 1.6 0 1 0 -3.2 0M341.9 456.4a1.6 1.6 0 1 0 3.2 0a1.6 1.6 0 1 0 -3.2 0M313.9 441.9a1.4 1.4 0 1 0 2.8 0a1.4 1.4 0 1 0 -2.8 0M336.3 463.8a1.6 1.6 0 1 0 3.3 0a1.6 1.6 0 1 0 -3.3 0M306.7 433.4a1.6 1.6 0 1 0 3.3 0a1.6 1.6 0 1 0 -3.3 0M339.3 467.5a1.6 1.6 0 1 0 3.3 0a1.6 1.6 0 1 0 -3.3 0M351.5 458.5a1.7 1.7 0 1 0 3.4 0a1.7 1.7 0 1 0 -3.4 0M324.6 451.3a1.9 1.9 0 1 0 3.9 0a1.9 1.9 0 1 0 -3.9 0M327.8 462.5a1.7 1.7 0 1 0 3.4 0a1.7 1.7 0 1 0 -3.4 0M316.7 453.6a1.9 1.9 0 1 0 3.9 0a1.9 1.9 0 1 0 -3.9 0M306.2 447.3a1.7 1.7 0 1 0 3.4 0a1.7 1.7 0 1 0 -3.4 0M356.4 476.2a1.6 1.6 0 1 0 3.3 0a1.6 1.6 0 1 0 -3.3 0M357.6 468.0a1.5 1.5 0 1 0 3.1 0a1.5 1.5 0 1 0 -3.1 0M330.2 430.3a2.0 2.0 0 1 0 4.1 0a2.0 2.0 0 1 0 -4.1 0M342.5 473.4a2.0 2.0 0 1 0 4.0 0a2.0 2.0 0 1 0 -4.0 0M343.0 464.8a1.8 1.8 0 1 0 3.6 0a1.8 1.8 0 1 0 -3.6 0M308.5 456.5a1.3 1.3 0 1 0 2.6 0a1.3 1.3 0 1 0 -2.6 0M311.0 467.0a1.3 1.3 0 1 0 2.7 0a1.3 1.3 0 1 0 -2.7 0M307.0 428.9a2.1 2.1 0 1 0 4.2 0a2.1 2.1 0 1 0 -4.2 0M312.5 424.6a2.1 2.1 0 1 0 4.1 0a2.1 2.1 0 1 0 -4.1 0M309.0 471.0a1.9 1.9 0 1 0 3.8 0a1.9 1.9 0 1 0 -3.8 0M353.5 477.1a1.8 1.8 0 1 0 3.6 0a1.8 1.8 0 1 0 -3.6 0M351.0 425.3a2.0 2.0 0 1 0 4.0 0a2.0 2.0 0 1 0 -4.0 0M333.8 463.7a1.4 1.4 0 1 0 2.8 0a1.4 1.4 0 1 0 -2.8 0M348.6 476.1a1.4 1.4 0 1 0 2.7 0a1.4 1.4 0 1 0 -2.7 0M321.5 455.2a2.0 2.0 0 1 0 4.1 0a2.0 2.0 0 1 0 -4.1 0M316.9 433.5a1.5 1.5 0 1 0 3.0 0a1.5 1.5 0 1 0 -3.0 0M340.0 465.9a1.7 1.7 0 1 0 3.3 0a1.7 1.7 0 1 0 -3.3 0M324.6 445.7a1.6 1.6 0 1 0 3.2 0a1.6 1.6 0 1 0 -3.2 0M327.6 428.0a1.8 1.8 0 1 0 3.5 0a1.8 1.8 0 1 0 -3.5 0M361.9 446.6a2.0 2.0 0 1 0 3.9 0a2.0 2.0 0 1 0 -3.9 0M311.4 462.3a2.0 2.0 0 1 0 4.0 0a2.0 2.0 0 1 0 -4.0 0M343.5 452.5a1.7 1.7 0 1 0 3.5 0a1.7 1.7 0 1 0 -3.5 0M341.9 474.0a1.4 1.4 0 1 0 2.9 0a1.4 1.4 0 1 0 -2.9 0M307.2 465.6a2.1 2.1 0 1 0 4.2 0a2.1 2.1 0 1 0 -4.2 0M333.6 448.3a1.9 1.9 0 1 0 3.9 0a1.9 1.9 0 1 0 -3.9 0M313.5 438.4a1.5 1.5 0 1 0 3.0 0a1.5 1.5 0 1 0 -3.0 0M338.3 441.1a1.5 1.5 0 1 0 3.0 0a1.5 1.5 0 1 0 -3.0 0M344.8 477.2a1.6 1.6 0 1 0 3.1 0a1.6 1.6 0 1 0 -3.1 0M345.1 446.6a2.1 2.1 0 1 0 4.1 0a2.1 2.1 0 1 0 -4.1 0M338.2 438.4a1.5 1.5 0 1 0 3.0 0a1.5 1.5 0 1 0 -3.0 0M303.2 450.4a1.6 1.6 0 1 0 3.3 0a1.6 1.6 0 1 0 -3.3 0M312.5 443.7a1.6 1.6 0 1 0 3.2 0a1.6 1.6 0 1 0 -3.2 0M349.3 431.4a2.2 2.2 0 1 0 4.4 0a2.2 2.2 0 1 0 -4.4 0M331.5 457.1a1.7 1.7 0 1 0 3.4 0a1.7 1.7 0 1 0 -3.4 0M353.4 469.7a1.8 1.8 0 1 0 3.6 0a1.8 1.8 0 1 0 -3.6 0M331.2 464.0a2.1 2.1 0 1 0 4.1 0a2.1 2.1 0 1 0 -4.1 0M326.1 464.7a2.2 2.2 0 1 0 4.3 0a2.2 2.2 0 1 0 -4.3 0M330.9 436.3a1.5 1.5 0 1 0 3.0 0a1.5 1.5 0 1 0 -3.0 0M345.8 461.5a2.2 2.2 0 1 0 4.3 0a2.2 2.2 0 1 0 -4.3 0M355.0 437.0a1.5 1.5 0 1 0 2.9 0a1.5 1.5 0 1 0 -2.9 0M317.5 433.9a1.9 1.9 0 1 0 3.9 0a1.9 1.9 0 1 0 -3.9 0M355.2 474.1a1.5 1.5 0 1 0 3.1 0a1.5 1.5 0 1 0 -3.1 0M355.4 441.0a1.7 1.7 0 1 0 3.4 0a1.7 1.7 0 1 0 -3.4 0M347.3 428.2a1.4 1.4 0 1 0 2.8 0a1.4 1.4 0 1 0 -2.8 0M353.6 439.8a1.6 1.6 0 1 0 3.2 0a1.6 1.6 0 1 0 -3.2 0M338.1 461.5a1.3 1.3 0 1 0 2.6 0a1.3 1.3 0 1 0 -2.6 0M322.5 447.9a1.7 1.7 0 1 0 3.5 0a1.7 1.7 0 1 0 -3.5 0M314.3 456.4a2.2 2.2 0 1 0 4.3 0a2.2 2.2 0 1 0 -4.3 0M326.3 454.1a1.4 1.4 0 1 0 2.8 0a1.4 1.4 0 1 0 -2.8 0M319.1 460.9a1.4 1.4 0 1 0 2.8 0a1.4 1.4 0 1 0 -2.8 0M357.1 474.6a1.4 1.4 0 1 0 2.8 0a1.4 1.4 0 1 0 -2.8 0M359.9 444.4a2.0 2.0 0 1 0 4.0 0a2.0 2.0 0 1 0 -4.0 0M348.5 440.0a1.9 1.9 0 1 0 3.8 0a1.9 1.9 0 1 0 -3.8 0M342.5 468.8a1.5 1.5 0 1 0 3.1 0a1.5 1.5 0 1 0 -3.1 0M348.3 477.6a1.9 1.9 0 1 0 3.8 0a1.9 1.9 0 1 0 -3.8 0M335.0 429.7a1.7 1.7 0 1 0 3.5 0a1.7 1.7 0 1 0 -3.5 0M323.4 463.9a1.9 1.9 0 1 0 3.8 0a1.9 1.9 0 1 0 -3.8 0M336.7 433.6a1.9 1.9 0 1 0 3.8 0a1.9 1.9 0 1 0 -3.8 0M340.5 433.4a2.1 2.1 0 1 0 4.2 0a2.1 2.1 0 1 0 -4.2 0M342.0 430.3a2.1 2.1 0 1 0 4.3 0a2.1 2.1 0 1 0 -4.3 0M310.2 442.0a1.9 1.9 0 1 0 3.9 0a1.9 1.9 0 1 0 -3.9 0M338.6 454.7a1.9 1.9 0 1 0 3.8 0a1.9 1.9 0 1 0 -3.8 0M330.4 441.0a1.5 1.5 0 1 0 2.9 0a1.5 1.5 0 1 0 -2.9 0M305.7 463.7a2.0 2.0 0 1 0 4.0 0a2.0 2.0 0 1 0 -4.0 0M335.5 465.1a1.6 1.6 0 1 0 3.2 0a1.6 1.6 0 1 0 -3.2 0M317.8 445.0a2.1 2.1 0 1 0 4.2 0a2.1 2.1 0 1 0 -4.2 0M304.5 451.8a1.5 1.5 0 1 0 3.0 0a1.5 1.5 0 1 0 -3.0 0M349.5 443.3a1.6 1.6 0 1 0 3.2 0a1.6 1.6 0 1 0 -3.2 0M326.5 453.9a2.0 2.0 0 1 0 4.0 0a2.0 2.0 0 1 0 -4.0 0M323.9 471.1a1.4 1.4 0 1 0 2.8 0a1.4 1.4 0 1 0 -2.8 0M318.8 428.9a1.4 1.4 0 1 0 2.8 0a1.4 1.4 0 1 0 -2.8 0M350.3 464.4a1.5 1.5 0 1 0 2.9 0a1.5 1.5 0 1 0 -2.9 0M313.2 446.8a2.0 2.0 0 1 0 3.9 0a2.0 2.0 0 1 0 -3.9 0M352.2 465.6a1.8 1.8 0 1 0 3.7 0a1.8 1.8 0 1 0 -3.7 0M311.0 445.8a1.5 1.5 0 1 0 2.9 0a1.5 1.5 0 1 0 -2.9 0M334.7 455.4a1.5 1.5 0 1 0 3.0 0a1.5 1.5 0 1 0 -3.0 0M317.6 467.5a1.3 1.3 0 1 0 2.7 0a1.3 1.3 0 1 0 -2.7 0M351.1 473.7a2.2 2.2 0 1 0 4.3 0a2.2 2.2 0 1 0 -4.3 0M325.4 454.5a1.8 1.8 0 1 0 3.6 0a1.8 1.8 0 1 0 -3.6 0M340.8 478.5a1.9 1.9 0 1 0 3.8 0a1.9 1.9 0 1 0 -3.8 0M320.3 471.9a1.7 1.7 0 1 0 3.5 0a1.7 1.7 0 1 0 -3.5 0M339.4 464.4a1.3 1.3 0 1 0 2.6 0a1.3 1.3 0 1 0 -2.6 0M349.5 460.7a1.7 1.7 0 1 0 3.5 0a1.7 1.7 0 1 0 -3.5 0M334.4 449.3a1.5 1.5 0 1 0 2.9 0a1.5 1.5 0 1 0 -2.9 0M334.5 425.4a1.8 1.8 0 1 0 3.5 0a1.8 1.8 0 1 0 -3.5 0M341.7 448.4a1.8 1.8 0 1 0 3.6 0a1.8 1.8 0 1 0 -3.6 0M361.5 473.7a1.4 1.4 0 1 0 2.8 0a1.4 1.4 0 1 0 -2.8 0M351.3 458.5a1.3 1.3 0 1 0 2.7 0a1.3 1.3 0 1 0 -2.7 0M324.4 436.5a1.4 1.4 0 1 0 2.7 0a1.4 1.4 0 1 0 -2.7 0M335.3 475.8a1.6 1.6 0 1 0 3.2 0a1.6 1.6 0 1 0 -3.2 0M356.0 462.5a1.4 1.4 0 1 0 2.8 0a1.4 1.4 0 1 0 -2.8 0M354.6 457.3a2.1 2.1 0 1 0 4.3 0a2.1 2.1 0 1 0 -4.3 0M346.3 465.1a1.6 1.6 0 1 0 3.2 0a1.6 1.6 0 1 0 -3.2 0M351.4 475.9a2.1 2.1 0 1 0 4.2 0a2.1 2.1 0 1 0 -4.2 0M328.8 466.1a1.7 1.7 0 1 0 3.5 0a1.7 1.7 0 1 0 -3.5 0M308.8 425.7a1.4 1.4 0 1 0 2.7 0a1.4 1.4 0 1 0 -2.7 0M314.1 432.4a1.7 1.7 0 1 0 3.5 0a1.7 1.7 0 1 0 -3.5 0M345.1 453.7a1.7 1.7 0 1 0 3.4 0a1.7 1.7 0 1 0 -3.4 0M342.0 440.5a1.7 1.7 0 1 0 3.4 0a1.7 1.7 0 1 0 -3.4 0M349.0 446.0a1.5 1.5 0 1 0 2.9 0a1.5 1.5 0 1 0 -2.9 0M357.6 464.0a1.6 1.6 0 1 0 3.3 0a1.6 1.6 0 1 0 -3.3 0M324.6 453.2a1.8 1.8 0 1 0 3.7 0a1.8 1.8 0 1 0 -3.7 0M315.8 423.5a1.5 1.5 0 1 0 3.0 0a1.5 1.5 0 1 0 -3.0 0M350.3 431.4a1.7 1.7 0 1 0 3.4 0a1.7 1.7 0 1 0 -3.4 0M314.1 435.1a1.5 1.5 0 1 0 2.9 0a1.5 1.5 0 1 0 -2.9 0M327.1 432.8a1.3 1.3 0 1 0 2.6 0a1.3 1.3 0 1 0 -2.6 0M308.5 432.8a1.7 1.7 0 1 0 3.5 0a1.7 1.7 0 1 0 -3.5 0M305.4 424.6a1.7 1.7 0 1 0 3.4 0a1.7 1.7 0 1 0 -3.4 0M327.4 463.0a1.3 1.3 0 1 0 2.7 0a1.3 1.3 0 1 0 -2.7 0M327.1 445.7a1.3 1.3 0 1 0 2.6 0a1.3 1.3 0 1 0 -2.6 0M362.0 435.7a1.4 1.4 0 1 0 2.8 0a1.4 1.4 0 1 0 -2.8 0M331.0 432.6a1.9 1.9 0 1 0 3.7 0a1.9 1.9 0 1 0 -3.7 0M323.6 430.3a1.3 1.3 0 1 0 2.7 0a1.3 1.3 0 1 0 -2.7 0M346.6 438.8a2.0 2.0 0 1 0 4.0 0a2.0 2.0 0 1 0 -4.0 0M330.7 476.0a1.6 1.6 0 1 0 3.1 0a1.6 1.6 0 1 0 -3.1 0M316.9 438.3a2.0 2.0 0 1 0 4.1 0a2.0 2.0 0 1 0 -4.1 0M341.1 442.8a1.4 1.4 0 1 0 2.8 0a1.4 1.4 0 1 0 -2.8 0M343.9 478.1a1.8 1.8 0 1 0 3.7 0a1.8 1.8 0 1 0 -3.7 0M302.2 425.0a1.4 1.4 0 1 0 2.8 0a1.4 1.4 0 1 0 -2.8 0M312.6 425.4a1.3 1.3 0 1 0 2.7 0a1.3 1.3 0 1 0 -2.7 0M342.6 474.2a1.5 1.5 0 1 0 3.0 0a1.5 1.5 0 1 0 -3.0 0M361.9 450.2a2.0 2.0 0 1 0 4.0 0a2.0 2.0 0 1 0 -4.0 0M359.0 476.4a1.3 1.3 0 1 0 2.7 0a1.3 1.3 0 1 0 -2.7 0M320.2 457.6a2.2 2.2 0 1 0 4.3 0a2.2 2.2 0 1 0 -4.3 0M306.8 439.9a2.1 2.1 0 1 0 4.1 0a2.1 2.1 0 1 0 -4.1 0M308.9 445.3a1.6 1.6 0 1 0 3.2 0a1.6 1.6 0 1 0 -3.2 0M344.2 475.8a1.5 1.5 0 1 0 2.9 0a1.5 1.5 0 1 0 -2.9 0M347.3 464.8a2.1 2.1 0 1 0 4.1 0a2.1 2.1 0 1 0 -4.1 0M336.1 475.5a1.6 1.6 0 1 0 3.3 0a1.6 1.6 0 1 0 -3.3 0M327.2 436.3a2.0 2.0 0 1 0 4.0 0a2.0 2.0 0 1 0 -4.0 0M331.8 438.5a1.5 1.5 0 1 0 2.9 0a1.5 1.5 0 1 0 -2.9 0M346.2 457.5a1.9 1.9 0 1 0 3.9 0a1.9 1.9 0 1 0 -3.9 0M326.0 450.8a1.4 1.4 0 1 0 2.9 0a1.4 1.4 0 1 0 -2.9 0M345.8 424.6a1.7 1.7 0 1 0 3.4 0a1.7 1.7 0 1 0 -3.4 0M349.1 461.6a1.4 1.4 0 1 0 2.8 0a1.4 1.4 0 1 0 -2.8 0M316.3 471.0a1.9 1.9 0 1 0 3.8 0a1.9 1.9 0 1 0 -3.8 0M356.3 472.6a1.7 1.7 0 1 0 3.4 0a1.7 1.7 0 1 0 -3.4 0M357.5 464.7a1.6 1.6 0 1 0 3.2 0a1.6 1.6 0 1 0 -3.2 0M324.7 427.4a1.7 1.7 0 1 0 3.3 0a1.7 1.7 0 1 0 -3.3 0M360.9 429.2a1.8 1.8 0 1 0 3.6 0a1.8 1.8 0 1 0 -3.6 0M308.4 427.9a1.9 1.9 0 1 0 3.8 0a1.9 1.9 0 1 0 -3.8 0M316.9 426.1a1.4 1.4 0 1 0 2.9 0a1.4 1.4 0 1 0 -2.9 0M342.1 456.4a1.3 1.3 0 1 0 2.6 0a1.3 1.3 0 1 0 -2.6 0M316.2 477.9a1.5 1.5 0 1 0 3.0 0a1.5 1.5 0 1 0 -3.0 0M336.3 447.0a2.0 2.0 0 1 0 4.0 0a2.0 2.0 0 1 0 -4.0 0M339.1 467.9a1.8 1.8 0 1 0 3.6 0a1.8 1.8 0 1 0 -3.6 0M313.7 433.3a1.4 1.4 0 1 0 2.7 0a1.4 1.4 0 1 0 -2.7 0M353.3 429.7a1.3 1.3 0 1 0 2.6 0a1.3 1.3 0 1 0 -2.6 0M361.3 434.6a2.1 2.1 0 1 0 4.2 0a2.1 2.1 0 1 0 -4.2 0M307.2 449.6a1.5 1.5 0 1 0 3.0 0a1.5 1.5 0 1 0 -3.0 0M353.0 458.1a1.9 1.9 0 1 0 3.8 0a1.9 1.9 0 1 0 -3.8 0M349.1 472.6a1.6 1.6 0 1 0 3.2 0a1.6 1.6 0 1 0 -3.2 0M339.5 448.5a1.4 1.4 0 1 0 2.8 0a1.4 1.4 0 1 0 -2.8 0M353.2 456.9a2.0 2.0 0 1 0 4.1 0a2.0 2.0 0 1 0 -4.1 0M314.5 453.8a1.7 1.7 0 1 0 3.4 0a1.7 1.7 0 1 0 -3.4 0M347.0 427.7a1.6 1.6 0 1 0 3.2 0a1.6 1.6 0 1 0 -3.2 0M331.7 427.3a1.8 1.8 0 1 0 3.6 0a1.8 1.8 0 1 0 -3.6 0M347.2 447.2a1.9 1.9 0 1 0 3.8 0a1.9 1.9 0 1 0 -3.8 0M339.4 435.4a1.6 1.6 0 1 0 3.2 0a1.6 1.6 0 1 0 -3.2 0M363.5 442.2a1.7 1.7 0 1 0 3.4 0a1.7 1.7 0 1 0 -3.4 0M307.2 435.6a1.4 1.4 0 1 0 2.9 0a1.4 1.4 0 1 0 -2.9 0M359.1 464.3a2.1 2.1 0 1 0 4.2 0a2.1 2.1 0 1 0 -4.2 0M362.5 457.9a2.1 2.1 0 1 0 4.3 0a2.1 2.1 0 1 0 -4.3 0M334.5 447.0a2.2 2.2 0 1 0 4.3 0a2.2 2.2 0 1 0 -4.3 0M357.7 477.0a1.7 1.7 0 1 0 3.5 0a1.7 1.7 0 1 0 -3.5 0M349.2 446.3a2.2 2.2 0 1 0 4.4 0a2.2 2.2 0 1 0 -4.4 0M358.4 439.8a2.1 2.1 0 1 0 4.3 0a2.1 2.1 0 1 0 -4.3 0M312.9 428.7a2.0 2.0 0 1 0 3.9 0a2.0 2.0 0 1 0 -3.9 0M319.8 452.6a1.9 1.9 0 1 0 3.8 0a1.9 1.9 0 1 0 -3.8 0M304.4 465.4a1.5 1.5 0 1 0 3.1 0a1.5 1.5 0 1 0 -3.1 0M328.3 442.8a2.0 2.0 0 1 0 3.9 0a2.0 2.0 0 1 0 -3.9 0M348.4 439.5a1.4 1.4 0 1 0 2.8 0a1.4 1.4 0 1 0 -2.8 0M320.6 446.5a1.4 1.4 0 1 0 2.7 0a1.4 1.4 0 1 0 -2.7 0M311.0 466.4a1.9 1.9 0 1 0 3.9 0a1.9 1.9 0 1 0 -3.9 0" fill="#e6e6ee" stroke="#d6d8e5" stroke-width="0.45"/>
<path d="M364.0 478.7h0M325.7 471.5h0M305.2 444.4h0M364.5 468.1h0M333.8 436.8h0M326.4 459.0h0M320.7 437.7h0M363.0 432.1h0M356.3 470.1h0M333.7 439.1h0M309.8 461.1h0M314.6 458.7h0M361.4 423.7h0M338.7 449.5h0M365.0 462.0h0M323.5 451.9h0M342.9 456.7h0M356.9 470.5h0M311.0 451.6h0M329.8 471.2h0M330.2 472.3h0M304.1 444.3h0M312.1 427.9h0M332.9 473.6h0M355.1 433.7h0M339.8 477.0h0M307.4 472.9h0M358.1 436.1h0" stroke="#bfc3dc" stroke-width="1.5" stroke-linecap="round" fill="none"/>
<path d="M361.9 447.7h0M340.9 469.1h0M322.8 437.3h0M362.6 465.3h0M333.6 426.7h0M332.4 460.9h0M328.7 443.2h0M312.1 425.4h0M305.5 450.8h0M344.0 476.5h0M362.0 441.2h0M337.9 425.3h0M330.2 478.9h0M346.2 449.7h0M327.1 429.3h0M307.4 454.2h0M309.8 471.1h0M304.7 442.8h0M330.9 453.5h0M306.7 478.6h0M313.2 430.2h0M309.1 453.8h0M348.7 437.3h0M363.4 448.9h0M364.7 453.2h0M365.2 426.2h0M307.1 471.6h0M336.9 475.4h0M352.8 444.9h0M312.1 434.8h0M307.5 423.8h0M354.7 442.0h0M354.4 469.9h0" stroke="#d6d6cc" stroke-width="1.5" stroke-linecap="round" fill="none"/>
<path d="M332.8 479.7h0M353.5 440.1h0M313.7 426.1h0M305.2 425.4h0M360.1 469.0h0M335.0 470.3h0M315.5 475.3h0M314.2 450.8h0M312.4 474.5h0M315.2 469.8h0M306.4 477.6h0M311.6 431.5h0M365.3 478.7h0M315.8 456.9h0M322.1 471.8h0M323.1 470.8h0M323.6 456.7h0M364.0 440.1h0M324.2 467.9h0M316.5 427.5h0M339.7 431.6h0M349.2 470.1h0M335.0 475.7h0M337.7 429.9h0M306.6 452.6h0M339.0 428.1h0M321.1 478.8h0" stroke="#cdd0e3" stroke-width="1.5" stroke-linecap="round" fill="none"/>
<path d="M361.2 452.7h0M311.6 453.3h0M364.2 467.7h0M330.2 442.4h0M329.4 438.0h0M320.8 432.8h0M314.8 461.9h0M305.3 455.8h0M323.0 438.6h0M318.9 478.7h0M334.2 477.4h0M346.8 429.8h0M342.6 469.5h0M361.9 478.4h0M320.0 454.2h0M343.6 431.3h0M314.7 424.8h0M327.2 476.3h0M341.6 433.4h0M306.8 451.2h0M328.2 444.3h0M303.4 426.9h0M330.4 434.4h0M330.8 461.9h0M340.6 428.1h0M330.5 428.8h0M360.1 459.0h0M315.9 445.4h0" stroke="#c6c9df" stroke-width="1.5" stroke-linecap="round" fill="none"/>
</g>
<rect x="365.50" y="423.30" width="63.20" height="56.50" fill="#ebebf0" stroke="none" stroke-width="0.8"/>
<clipPath id="clip4"><rect x="365.5" y="423.3" width="63.19999999999999" height="56.5"/></clipPath>
<g clip-path="url(#clip4)">
<path d="M378.8 429.1a1.7 1.7 0 1 0 3.3 0a1.7 1.7 0 1 0 -3.3 0M373.6 427.1a1.7 1.7 0 1 0 3.3 0a1.7 1.7 0 1 0 -3.3 0M421.5 468.5a2.0 2.0 0 1 0 4.0 0a2.0 2.0 0 1 0 -4.0 0M378.0 453.6a1.5 1.5 0 1 0 3.1 0a1.5 1.5 0 1 0 -3.1 0M374.9 429.3a1.5 1.5 0 1 0 3.0 0a1.5 1.5 0 1 0 -3.0 0M422.1 470.1a2.0 2.0 0 1 0 4.1 0a2.0 2.0 0 1 0 -4.1 0M414.5 434.2a1.6 1.6 0 1 0 3.2 0a1.6 1.6 0 1 0 -3.2 0M403.1 464.7a2.1 2.1 0 1 0 4.1 0a2.1 2.1 0 1 0 -4.1 0M419.3 428.2a1.8 1.8 0 1 0 3.7 0a1.8 1.8 0 1 0 -3.7 0M406.5 451.9a1.5 1.5 0 1 0 2.9 0a1.5 1.5 0 1 0 -2.9 0M393.3 428.3a2.1 2.1 0 1 0 4.3 0a2.1 2.1 0 1 0 -4.3 0M418.6 454.2a1.6 1.6 0 1 0 3.1 0a1.6 1.6 0 1 0 -3.1 0M420.8 455.6a2.1 2.1 0 1 0 4.2 0a2.1 2.1 0 1 0 -4.2 0M417.4 452.0a1.7 1.7 0 1 0 3.3 0a1.7 1.7 0 1 0 -3.3 0M401.9 447.7a1.4 1.4 0 1 0 2.9 0a1.4 1.4 0 1 0 -2.9 0M383.4 469.2a1.3 1.3 0 1 0 2.7 0a1.3 1.3 0 1 0 -2.7 0M366.9 458.7a1.6 1.6 0 1 0 3.1 0a1.6 1.6 0 1 0 -3.1 0M397.7 449.9a1.6 1.6 0 1 0 3.2 0a1.6 1.6 0 1 0 -3.2 0M426.9 434.3a1.7 1.7 0 1 0 3.3 0a1.7 1.7 0 1 0 -3.3 0M376.8 459.0a1.5 1.5 0 1 0 3.1 0a1.5 1.5 0 1 0 -3.1 0M386.4 465.5a1.6 1.6 0 1 0 3.2 0a1.6 1.6 0 1 0 -3.2 0M399.4 474.4a1.4 1.4 0 1 0 2.8 0a1.4 1.4 0 1 0 -2.8 0M367.4 436.2a2.0 2.0 0 1 0 4.0 0a2.0 2.0 0 1 0 -4.0 0M402.8 436.7a1.6 1.6 0 1 0 3.2 0a1.6 1.6 0 1 0 -3.2 0M375.4 449.2a1.3 1.3 0 1 0 2.7 0a1.3 1.3 0 1 0 -2.7 0M407.4 473.9a2.2 2.2 0 1 0 4.3 0a2.2 2.2 0 1 0 -4.3 0M410.6 477.5a1.3 1.3 0 1 0 2.6 0a1.3 1.3 0 1 0 -2.6 0M381.8 477.9a2.0 2.0 0 1 0 4.0 0a2.0 2.0 0 1 0 -4.0 0M389.6 476.6a1.9 1.9 0 1 0 3.7 0a1.9 1.9 0 1 0 -3.7 0M415.7 439.9a1.5 1.5 0 1 0 2.9 0a1.5 1.5 0 1 0 -2.9 0M391.9 431.0a1.6 1.6 0 1 0 3.3 0a1.6 1.6 0 1 0 -3.3 0M425.0 442.0a1.3 1.3 0 1 0 2.6 0a1.3 1.3 0 1 0 -2.6 0M366.3 432.9a2.0 2.0 0 1 0 4.0 0a2.0 2.0 0 1 0 -4.0 0M387.0 439.7a1.4 1.4 0 1 0 2.8 0a1.4 1.4 0 1 0 -2.8 0M426.1 447.3a1.5 1.5 0 1 0 3.0 0a1.5 1.5 0 1 0 -3.0 0M367.8 426.4a1.5 1.5 0 1 0 2.9 0a1.5 1.5 0 1 0 -2.9 0M406.9 431.8a1.3 1.3 0 1 0 2.7 0a1.3 1.3 0 1 0 -2.7 0M394.3 437.4a2.2 2.2 0 1 0 4.4 0a2.2 2.2 0 1 0 -4.4 0M371.2 453.2a2.0 2.0 0 1 0 4.0 0a2.0 2.0 0 1 0 -4.0 0M389.6 479.1a1.7 1.7 0 1 0 3.5 0a1.7 1.7 0 1 0 -3.5 0M379.5 446.5a1.3 1.3 0 1 0 2.7 0a1.3 1.3 0 1 0 -2.7 0M390.0 437.3a2.1 2.1 0 1 0 4.2 0a2.1 2.1 0 1 0 -4.2 0M416.7 451.5a1.3 1.3 0 1 0 2.7 0a1.3 1.3 0 1 0 -2.7 0M380.1 437.0a1.5 1.5 0 1 0 3.0 0a1.5 1.5 0 1 0 -3.0 0M378.7 472.4a1.4 1.4 0 1 0 2.9 0a1.4 1.4 0 1 0 -2.9 0M366.9 475.7a1.8 1.8 0 1 0 3.6 0a1.8 1.8 0 1 0 -3.6 0M426.0 446.1a2.1 2.1 0 1 0 4.2 0a2.1 2.1 0 1 0 -4.2 0M404.9 468.0a2.0 2.0 0 1 0 3.9 0a2.0 2.0 0 1 0 -3.9 0M395.2 428.5a1.5 1.5 0 1 0 3.0 0a1.5 1.5 0 1 0 -3.0 0M418.6 474.1a2.1 2.1 0 1 0 4.3 0a2.1 2.1 0 1 0 -4.3 0M384.8 460.4a2.0 2.0 0 1 0 4.0 0a2.0 2.0 0 1 0 -4.0 0M404.3 469.3a1.8 1.8 0 1 0 3.6 0a1.8 1.8 0 1 0 -3.6 0M405.3 462.1a1.5 1.5 0 1 0 3.1 0a1.5 1.5 0 1 0 -3.1 0M422.5 477.3a1.4 1.4 0 1 0 2.7 0a1.4 1.4 0 1 0 -2.7 0M425.0 477.6a1.9 1.9 0 1 0 3.8 0a1.9 1.9 0 1 0 -3.8 0M366.9 474.1a1.4 1.4 0 1 0 2.8 0a1.4 1.4 0 1 0 -2.8 0M425.4 461.0a1.4 1.4 0 1 0 2.7 0a1.4 1.4 0 1 0 -2.7 0M374.3 459.2a1.8 1.8 0 1 0 3.6 0a1.8 1.8 0 1 0 -3.6 0M411.2 475.7a1.5 1.5 0 1 0 3.0 0a1.5 1.5 0 1 0 -3.0 0M364.4 475.4a1.3 1.3 0 1 0 2.6 0a1.3 1.3 0 1 0 -2.6 0M418.9 429.8a2.0 2.0 0 1 0 4.1 0a2.0 2.0 0 1 0 -4.1 0M413.2 472.9a1.8 1.8 0 1 0 3.6 0a1.8 1.8 0 1 0 -3.6 0M419.1 434.7a1.9 1.9 0 1 0 3.8 0a1.9 1.9 0 1 0 -3.8 0M384.4 473.7a2.0 2.0 0 1 0 4.0 0a2.0 2.0 0 1 0 -4.0 0M394.0 453.0a1.3 1.3 0 1 0 2.6 0a1.3 1.3 0 1 0 -2.6 0M365.9 456.9a1.7 1.7 0 1 0 3.5 0a1.7 1.7 0 1 0 -3.5 0M418.7 457.7a1.4 1.4 0 1 0 2.8 0a1.4 1.4 0 1 0 -2.8 0M386.6 466.7a1.8 1.8 0 1 0 3.5 0a1.8 1.8 0 1 0 -3.5 0M364.1 470.6a2.0 2.0 0 1 0 4.1 0a2.0 2.0 0 1 0 -4.1 0M369.2 454.0a1.6 1.6 0 1 0 3.3 0a1.6 1.6 0 1 0 -3.3 0M413.8 440.9a1.5 1.5 0 1 0 3.0 0a1.5 1.5 0 1 0 -3.0 0M394.9 477.9a1.4 1.4 0 1 0 2.8 0a1.4 1.4 0 1 0 -2.8 0M370.6 458.4a2.1 2.1 0 1 0 4.2 0a2.1 2.1 0 1 0 -4.2 0M395.8 447.8a2.1 2.1 0 1 0 4.1 0a2.1 2.1 0 1 0 -4.1 0M412.5 427.1a2.1 2.1 0 1 0 4.2 0a2.1 2.1 0 1 0 -4.2 0M375.8 440.4a2.1 2.1 0 1 0 4.1 0a2.1 2.1 0 1 0 -4.1 0M390.7 468.4a1.5 1.5 0 1 0 2.9 0a1.5 1.5 0 1 0 -2.9 0M419.3 433.3a1.4 1.4 0 1 0 2.9 0a1.4 1.4 0 1 0 -2.9 0M394.9 442.4a1.8 1.8 0 1 0 3.6 0a1.8 1.8 0 1 0 -3.6 0M421.3 463.4a1.3 1.3 0 1 0 2.6 0a1.3 1.3 0 1 0 -2.6 0M383.5 454.1a1.7 1.7 0 1 0 3.5 0a1.7 1.7 0 1 0 -3.5 0M409.4 450.7a1.4 1.4 0 1 0 2.7 0a1.4 1.4 0 1 0 -2.7 0M379.4 471.2a1.6 1.6 0 1 0 3.2 0a1.6 1.6 0 1 0 -3.2 0M412.1 479.0a1.9 1.9 0 1 0 3.7 0a1.9 1.9 0 1 0 -3.7 0M406.7 457.7a1.6 1.6 0 1 0 3.2 0a1.6 1.6 0 1 0 -3.2 0M421.1 449.7a2.1 2.1 0 1 0 4.2 0a2.1 2.1 0 1 0 -4.2 0M382.8 472.3a2.0 2.0 0 1 0 4.0 0a2.0 2.0 0 1 0 -4.0 0M402.8 448.3a1.4 1.4 0 1 0 2.9 0a1.4 1.4 0 1 0 -2.9 0M412.3 443.8a1.9 1.9 0 1 0 3.8 0a1.9 1.9 0 1 0 -3.8 0M372.5 428.0a1.4 1.4 0 1 0 2.9 0a1.4 1.4 0 1 0 -2.9 0M414.5 433.3a2.1 2.1 0 1 0 4.2 0a2.1 2.1 0 1 0 -4.2 0M387.4 455.8a1.6 1.6 0 1 0 3.2 0a1.6 1.6 0 1 0 -3.2 0M403.1 428.6a1.7 1.7 0 1 0 3.3 0a1.7 1.7 0 1 0 -3.3 0M422.8 433.5a1.9 1.9 0 1 0 3.8 0a1.9 1.9 0 1 0 -3.8 0M384.8 440.3a1.3 1.3 0 1 0 2.6 0a1.3 1.3 0 1 0 -2.6 0M364.7 476.9a2.0 2.0 0 1 0 4.1 0a2.0 2.0 0 1 0 -4.1 0M414.0 468.9a2.2 2.2 0 1 0 4.3 0a2.2 2.2 0 1 0 -4.3 0M373.8 456.3a1.7 1.7 0 1 0 3.5 0a1.7 1.7 0 1 0 -3.5 0M399.8 476.3a2.0 2.0 0 1 0 4.0 0a2.0 2.0 0 1 0 -4.0 0M424.8 429.9a1.9 1.9 0 1 0 3.8 0a1.9 1.9 0 1 0 -3.8 0M406.3 465.4a1.9 1.9 0 1 0 3.7 0a1.9 1.9 0 1 0 -3.7 0M415.9 440.4a2.1 2.1 0 1 0 4.3 0a2.1 2.1 0 1 0 -4.3 0M389.1 457.1a2.1 2.1 0 1 0 4.2 0a2.1 2.1 0 1 0 -4.2 0M408.5 440.8a1.5 1.5 0 1 0 3.0 0a1.5 1.5 0 1 0 -3.0 0M383.9 458.7a2.2 2.2 0 1 0 4.4 0a2.2 2.2 0 1 0 -4.4 0M420.7 445.9a1.7 1.7 0 1 0 3.3 0a1.7 1.7 0 1 0 -3.3 0M415.5 439.3a1.7 1.7 0 1 0 3.3 0a1.7 1.7 0 1 0 -3.3 0M364.5 433.7a1.8 1.8 0 1 0 3.6 0a1.8 1.8 0 1 0 -3.6 0M407.7 458.0a1.6 1.6 0 1 0 3.3 0a1.6 1.6 0 1 0 -3.3 0M424.2 458.5a1.4 1.4 0 1 0 2.9 0a1.4 1.4 0 1 0 -2.9 0M367.6 478.3a2.2 2.2 0 1 0 4.4 0a2.2 2.2 0 1 0 -4.4 0M422.1 457.4a1.6 1.6 0 1 0 3.2 0a1.6 1.6 0 1 0 -3.2 0M369.8 437.9a1.5 1.5 0 1 0 3.0 0a1.5 1.5 0 1 0 -3.0 0M422.2 473.7a2.0 2.0 0 1 0 4.0 0a2.0 2.0 0 1 0 -4.0 0M373.3 436.8a1.6 1.6 0 1 0 3.1 0a1.6 1.6 0 1 0 -3.1 0M423.4 432.5a2.0 2.0 0 1 0 4.0 0a2.0 2.0 0 1 0 -4.0 0M406.4 454.2a2.2 2.2 0 1 0 4.3 0a2.2 2.2 0 1 0 -4.3 0M380.6 452.9a1.4 1.4 0 1 0 2.9 0a1.4 1.4 0 1 0 -2.9 0M370.0 425.1a1.6 1.6 0 1 0 3.2 0a1.6 1.6 0 1 0 -3.2 0M371.0 426.8a2.2 2.2 0 1 0 4.4 0a2.2 2.2 0 1 0 -4.4 0M381.8 473.6a1.9 1.9 0 1 0 3.9 0a1.9 1.9 0 1 0 -3.9 0M409.6 460.3a2.2 2.2 0 1 0 4.3 0a2.2 2.2 0 1 0 -4.3 0M419.2 463.9a1.8 1.8 0 1 0 3.6 0a1.8 1.8 0 1 0 -3.6 0M407.5 464.2a1.8 1.8 0 1 0 3.6 0a1.8 1.8 0 1 0 -3.6 0M395.2 432.0a2.1 2.1 0 1 0 4.1 0a2.1 2.1 0 1 0 -4.1 0M394.6 427.1a1.5 1.5 0 1 0 2.9 0a1.5 1.5 0 1 0 -2.9 0M419.1 437.8a1.7 1.7 0 1 0 3.3 0a1.7 1.7 0 1 0 -3.3 0M407.0 472.0a1.6 1.6 0 1 0 3.2 0a1.6 1.6 0 1 0 -3.2 0M388.6 447.2a1.3 1.3 0 1 0 2.7 0a1.3 1.3 0 1 0 -2.7 0M418.7 424.4a2.2 2.2 0 1 0 4.3 0a2.2 2.2 0 1 0 -4.3 0M373.1 432.2a2.1 2.1 0 1 0 4.1 0a2.1 2.1 0 1 0 -4.1 0M415.7 436.4a1.8 1.8 0 1 0 3.6 0a1.8 1.8 0 1 0 -3.6 0M394.2 463.9a1.5 1.5 0 1 0 2.9 0a1.5 1.5 0 1 0 -2.9 0M415.7 479.6a1.9 1.9 0 1 0 3.9 0a1.9 1.9 0 1 0 -3.9 0M422.1 476.2a1.6 1.6 0 1 0 3.3 0a1.6 1.6 0 1 0 -3.3 0M417.2 470.4a1.8 1.8 0 1 0 3.7 0a1.8 1.8 0 1 0 -3.7 0M370.2 458.3a2.1 2.1 0 1 0 4.2 0a2.1 2.1 0 1 0 -4.2 0M382.7 459.8a2.1 2.1 0 1 0 4.2 0a2.1 2.1 0 1 0 -4.2 0M401.6 425.4a1.9 1.9 0 1 0 3.7 0a1.9 1.9 0 1 0 -3.7 0M379.8 471.8a1.9 1.9 0 1 0 3.8 0a1.9 1.9 0 1 0 -3.8 0M383.1 473.9a1.9 1.9 0 1 0 3.7 0a1.9 1.9 0 1 0 -3.7 0M384.8 470.4a2.1 2.1 0 1 0 4.2 0a2.1 2.1 0 1 0 -4.2 0M420.1 473.2a1.9 1.9 0 1 0 3.8 0a1.9 1.9 0 1 0 -3.8 0M407.9 457.5a1.8 1.8 0 1 0 3.5 0a1.8 1.8 0 1 0 -3.5 0M426.5 443.2a1.4 1.4 0 1 0 2.7 0a1.4 1.4 0 1 0 -2.7 0M408.8 451.4a1.8 1.8 0 1 0 3.6 0a1.8 1.8 0 1 0 -3.6 0M401.8 437.4a1.5 1.5 0 1 0 3.0 0a1.5 1.5 0 1 0 -3.0 0M367.9 467.5a2.1 2.1 0 1 0 4.2 0a2.1 2.1 0 1 0 -4.2 0M407.4 429.9a2.2 2.2 0 1 0 4.4 0a2.2 2.2 0 1 0 -4.4 0M416.4 452.1a1.3 1.3 0 1 0 2.6 0a1.3 1.3 0 1 0 -2.6 0M417.0 458.5a1.9 1.9 0 1 0 3.7 0a1.9 1.9 0 1 0 -3.7 0M365.3 464.7a1.3 1.3 0 1 0 2.7 0a1.3 1.3 0 1 0 -2.7 0M394.1 431.5a1.6 1.6 0 1 0 3.2 0a1.6 1.6 0 1 0 -3.2 0M419.7 465.6a2.0 2.0 0 1 0 4.1 0a2.0 2.0 0 1 0 -4.1 0M382.5 445.2a1.8 1.8 0 1 0 3.7 0a1.8 1.8 0 1 0 -3.7 0M365.5 446.6a2.2 2.2 0 1 0 4.4 0a2.2 2.2 0 1 0 -4.4 0M411.6 472.0a1.6 1.6 0 1 0 3.1 0a1.6 1.6 0 1 0 -3.1 0M407.2 467.9a1.9 1.9 0 1 0 3.9 0a1.9 1.9 0 1 0 -3.9 0M391.8 433.2a1.3 1.3 0 1 0 2.6 0a1.3 1.3 0 1 0 -2.6 0M420.0 475.9a1.5 1.5 0 1 0 3.1 0a1.5 1.5 0 1 0 -3.1 0M411.4 446.3a1.9 1.9 0 1 0 3.7 0a1.9 1.9 0 1 0 -3.7 0M416.9 441.4a1.9 1.9 0 1 0 3.7 0a1.9 1.9 0 1 0 -3.7 0M380.4 452.2a1.3 1.3 0 1 0 2.7 0a1.3 1.3 0 1 0 -2.7 0M380.0 439.5a2.1 2.1 0 1 0 4.2 0a2.1 2.1 0 1 0 -4.2 0M372.5 466.1a1.4 1.4 0 1 0 2.8 0a1.4 1.4 0 1 0 -2.8 0M426.5 432.7a1.4 1.4 0 1 0 2.8 0a1.4 1.4 0 1 0 -2.8 0M377.0 476.0a1.9 1.9 0 1 0 3.8 0a1.9 1.9 0 1 0 -3.8 0M420.4 451.5a1.4 1.4 0 1 0 2.8 0a1.4 1.4 0 1 0 -2.8 0M384.8 449.0a2.2 2.2 0 1 0 4.4 0a2.2 2.2 0 1 0 -4.4 0M374.0 437.1a2.1 2.1 0 1 0 4.1 0a2.1 2.1 0 1 0 -4.1 0M371.1 478.2a1.6 1.6 0 1 0 3.1 0a1.6 1.6 0 1 0 -3.1 0M399.2 460.6a2.1 2.1 0 1 0 4.2 0a2.1 2.1 0 1 0 -4.2 0M368.8 471.1a1.5 1.5 0 1 0 2.9 0a1.5 1.5 0 1 0 -2.9 0M408.9 424.8a2.0 2.0 0 1 0 4.0 0a2.0 2.0 0 1 0 -4.0 0M375.6 434.9a1.3 1.3 0 1 0 2.7 0a1.3 1.3 0 1 0 -2.7 0M383.8 441.8a2.2 2.2 0 1 0 4.4 0a2.2 2.2 0 1 0 -4.4 0M401.7 443.9a2.2 2.2 0 1 0 4.4 0a2.2 2.2 0 1 0 -4.4 0M374.2 435.4a2.2 2.2 0 1 0 4.3 0a2.2 2.2 0 1 0 -4.3 0M423.4 462.0a2.2 2.2 0 1 0 4.4 0a2.2 2.2 0 1 0 -4.4 0M367.2 474.4a1.9 1.9 0 1 0 3.9 0a1.9 1.9 0 1 0 -3.9 0M406.3 470.9a1.4 1.4 0 1 0 2.8 0a1.4 1.4 0 1 0 -2.8 0M376.4 431.1a1.7 1.7 0 1 0 3.5 0a1.7 1.7 0 1 0 -3.5 0M398.4 453.8a1.6 1.6 0 1 0 3.3 0a1.6 1.6 0 1 0 -3.3 0M410.5 470.7a2.0 2.0 0 1 0 4.0 0a2.0 2.0 0 1 0 -4.0 0M366.4 431.9a1.5 1.5 0 1 0 3.0 0a1.5 1.5 0 1 0 -3.0 0M379.1 455.7a1.5 1.5 0 1 0 3.0 0a1.5 1.5 0 1 0 -3.0 0M403.4 442.7a1.6 1.6 0 1 0 3.3 0a1.6 1.6 0 1 0 -3.3 0M408.8 476.7a1.5 1.5 0 1 0 2.9 0a1.5 1.5 0 1 0 -2.9 0M386.0 478.8a1.5 1.5 0 1 0 3.0 0a1.5 1.5 0 1 0 -3.0 0M365.2 434.1a2.0 2.0 0 1 0 4.1 0a2.0 2.0 0 1 0 -4.1 0M410.0 476.3a1.7 1.7 0 1 0 3.5 0a1.7 1.7 0 1 0 -3.5 0M366.2 440.6a1.9 1.9 0 1 0 3.9 0a1.9 1.9 0 1 0 -3.9 0M388.7 431.2a1.6 1.6 0 1 0 3.3 0a1.6 1.6 0 1 0 -3.3 0M393.1 443.4a1.7 1.7 0 1 0 3.4 0a1.7 1.7 0 1 0 -3.4 0M372.1 425.0a2.0 2.0 0 1 0 4.0 0a2.0 2.0 0 1 0 -4.0 0M410.4 446.9a1.4 1.4 0 1 0 2.8 0a1.4 1.4 0 1 0 -2.8 0M382.1 454.8a2.1 2.1 0 1 0 4.2 0a2.1 2.1 0 1 0 -4.2 0M394.2 478.3a1.8 1.8 0 1 0 3.5 0a1.8 1.8 0 1 0 -3.5 0M375.1 458.1a1.8 1.8 0 1 0 3.7 0a1.8 1.8 0 1 0 -3.7 0M402.1 464.2a1.3 1.3 0 1 0 2.6 0a1.3 1.3 0 1 0 -2.6 0M391.7 468.5a1.4 1.4 0 1 0 2.8 0a1.4 1.4 0 1 0 -2.8 0M366.6 433.6a1.6 1.6 0 1 0 3.1 0a1.6 1.6 0 1 0 -3.1 0M391.1 441.1a1.9 1.9 0 1 0 3.7 0a1.9 1.9 0 1 0 -3.7 0M374.3 442.8a1.9 1.9 0 1 0 3.8 0a1.9 1.9 0 1 0 -3.8 0M397.8 477.5a2.1 2.1 0 1 0 4.3 0a2.1 2.1 0 1 0 -4.3 0M380.0 442.2a1.8 1.8 0 1 0 3.6 0a1.8 1.8 0 1 0 -3.6 0M397.8 444.0a2.1 2.1 0 1 0 4.2 0a2.1 2.1 0 1 0 -4.2 0M376.5 449.9a1.4 1.4 0 1 0 2.8 0a1.4 1.4 0 1 0 -2.8 0M419.1 457.0a2.2 2.2 0 1 0 4.4 0a2.2 2.2 0 1 0 -4.4 0M372.7 463.5a1.8 1.8 0 1 0 3.7 0a1.8 1.8 0 1 0 -3.7 0M366.7 469.6a2.1 2.1 0 1 0 4.2 0a2.1 2.1 0 1 0 -4.2 0M368.6 476.5a2.0 2.0 0 1 0 4.0 0a2.0 2.0 0 1 0 -4.0 0M402.2 454.0a1.5 1.5 0 1 0 3.1 0a1.5 1.5 0 1 0 -3.1 0M367.0 450.2a2.1 2.1 0 1 0 4.2 0a2.1 2.1 0 1 0 -4.2 0M377.2 450.0a1.6 1.6 0 1 0 3.1 0a1.6 1.6 0 1 0 -3.1 0M407.1 477.5a2.1 2.1 0 1 0 4.2 0a2.1 2.1 0 1 0 -4.2 0M382.4 446.9a1.3 1.3 0 1 0 2.6 0a1.3 1.3 0 1 0 -2.6 0M396.9 471.5a2.1 2.1 0 1 0 4.1 0a2.1 2.1 0 1 0 -4.1 0M368.7 447.8a1.4 1.4 0 1 0 2.7 0a1.4 1.4 0 1 0 -2.7 0M390.8 474.9a1.6 1.6 0 1 0 3.1 0a1.6 1.6 0 1 0 -3.1 0M416.9 477.3a2.0 2.0 0 1 0 4.1 0a2.0 2.0 0 1 0 -4.1 0M376.1 475.2a2.1 2.1 0 1 0 4.3 0a2.1 2.1 0 1 0 -4.3 0M427.3 423.9a1.3 1.3 0 1 0 2.6 0a1.3 1.3 0 1 0 -2.6 0M382.2 452.5a1.7 1.7 0 1 0 3.4 0a1.7 1.7 0 1 0 -3.4 0M369.4 459.5a1.9 1.9 0 1 0 3.8 0a1.9 1.9 0 1 0 -3.8 0M403.5 452.2a1.8 1.8 0 1 0 3.6 0a1.8 1.8 0 1 0 -3.6 0M407.4 426.9a1.7 1.7 0 1 0 3.4 0a1.7 1.7 0 1 0 -3.4 0M372.1 429.2a2.0 2.0 0 1 0 4.0 0a2.0 2.0 0 1 0 -4.0 0M384.4 442.5a1.5 1.5 0 1 0 3.1 0a1.5 1.5 0 1 0 -3.1 0M400.7 430.0a1.9 1.9 0 1 0 3.8 0a1.9 1.9 0 1 0 -3.8 0M368.5 477.3a1.4 1.4 0 1 0 2.9 0a1.4 1.4 0 1 0 -2.9 0M412.3 454.1a1.7 1.7 0 1 0 3.4 0a1.7 1.7 0 1 0 -3.4 0M382.7 443.6a2.0 2.0 0 1 0 4.0 0a2.0 2.0 0 1 0 -4.0 0M397.1 453.6a1.5 1.5 0 1 0 3.0 0a1.5 1.5 0 1 0 -3.0 0M403.3 432.9a1.7 1.7 0 1 0 3.5 0a1.7 1.7 0 1 0 -3.5 0M404.8 454.0a1.8 1.8 0 1 0 3.6 0a1.8 1.8 0 1 0 -3.6 0M399.4 434.3a2.2 2.2 0 1 0 4.3 0a2.2 2.2 0 1 0 -4.3 0M406.6 464.3a2.2 2.2 0 1 0 4.3 0a2.2 2.2 0 1 0 -4.3 0M392.5 442.1a1.6 1.6 0 1 0 3.1 0a1.6 1.6 0 1 0 -3.1 0M383.9 440.3a1.6 1.6 0 1 0 3.2 0a1.6 1.6 0 1 0 -3.2 0M377.2 450.6a1.6 1.6 0 1 0 3.1 0a1.6 1.6 0 1 0 -3.1 0M387.2 460.8a1.6 1.6 0 1 0 3.2 0a1.6 1.6 0 1 0 -3.2 0M418.5 468.4a1.6 1.6 0 1 0 3.2 0a1.6 1.6 0 1 0 -3.2 0M416.8 433.3a1.4 1.4 0 1 0 2.8 0a1.4 1.4 0 1 0 -2.8 0M427.1 425.2a1.3 1.3 0 1 0 2.6 0a1.3 1.3 0 1 0 -2.6 0M418.4 423.4a1.9 1.9 0 1 0 3.8 0a1.9 1.9 0 1 0 -3.8 0M399.1 435.9a1.5 1.5 0 1 0 3.0 0a1.5 1.5 0 1 0 -3.0 0M425.1 445.5a1.5 1.5 0 1 0 3.0 0a1.5 1.5 0 1 0 -3.0 0M391.8 464.7a1.6 1.6 0 1 0 3.1 0a1.6 1.6 0 1 0 -3.1 0M369.7 468.0a1.4 1.4 0 1 0 2.8 0a1.4 1.4 0 1 0 -2.8 0M366.8 423.6a2.2 2.2 0 1 0 4.4 0a2.2 2.2 0 1 0 -4.4 0M391.1 465.0a1.8 1.8 0 1 0 3.6 0a1.8 1.8 0 1 0 -3.6 0M425.5 442.7a1.6 1.6 0 1 0 3.2 0a1.6 1.6 0 1 0 -3.2 0M407.0 423.3a1.6 1.6 0 1 0 3.3 0a1.6 1.6 0 1 0 -3.3 0M411.7 455.7a1.7 1.7 0 1 0 3.5 0a1.7 1.7 0 1 0 -3.5 0M422.8 447.8a2.0 2.0 0 1 0 3.9 0a2.0 2.0 0 1 0 -3.9 0M388.7 428.2a1.6 1.6 0 1 0 3.3 0a1.6 1.6 0 1 0 -3.3 0M377.3 424.8a1.6 1.6 0 1 0 3.1 0a1.6 1.6 0 1 0 -3.1 0M371.5 449.1a2.0 2.0 0 1 0 3.9 0a2.0 2.0 0 1 0 -3.9 0M411.8 473.2a1.6 1.6 0 1 0 3.2 0a1.6 1.6 0 1 0 -3.2 0M406.2 473.5a1.7 1.7 0 1 0 3.3 0a1.7 1.7 0 1 0 -3.3 0M421.1 429.1a2.1 2.1 0 1 0 4.3 0a2.1 2.1 0 1 0 -4.3 0M419.1 478.7a2.0 2.0 0 1 0 4.1 0a2.0 2.0 0 1 0 -4.1 0M408.5 447.9a1.9 1.9 0 1 0 3.9 0a1.9 1.9 0 1 0 -3.9 0M419.2 455.8a1.9 1.9 0 1 0 3.7 0a1.9 1.9 0 1 0 -3.7 0M422.3 439.4a1.6 1.6 0 1 0 3.2 0a1.6 1.6 0 1 0 -3.2 0M365.9 472.9a1.9 1.9 0 1 0 3.7 0a1.9 1.9 0 1 0 -3.7 0M406.6 436.8a1.5 1.5 0 1 0 2.9 0a1.5 1.5 0 1 0 -2.9 0M394.1 472.9a1.6 1.6 0 1 0 3.2 0a1.6 1.6 0 1 0 -3.2 0M390.1 446.9a2.1 2.1 0 1 0 4.1 0a2.1 2.1 0 1 0 -4.1 0M372.0 472.2a1.3 1.3 0 1 0 2.6 0a1.3 1.3 0 1 0 -2.6 0M408.0 466.4a1.7 1.7 0 1 0 3.4 0a1.7 1.7 0 1 0 -3.4 0M411.0 439.1a1.4 1.4 0 1 0 2.9 0a1.4 1.4 0 1 0 -2.9 0M386.3 438.3a1.9 1.9 0 1 0 3.9 0a1.9 1.9 0 1 0 -3.9 0" fill="#e6e6ee" stroke="#d6d8e5" stroke-width="0.45"/>
<path d="M401.2 460.6h0M414.4 468.0h0M379.4 424.1h0M386.2 438.3h0M422.5 426.5h0M418.9 464.3h0M410.0 447.5h0M367.7 458.9h0M419.6 444.0h0M416.8 425.1h0M372.9 437.7h0M425.6 465.6h0M402.0 447.6h0M412.8 474.3h0M385.7 458.7h0M399.2 434.1h0M384.5 438.7h0M373.5 426.2h0M390.0 430.6h0M410.9 475.7h0M427.4 423.5h0M405.6 437.9h0M369.3 457.8h0M391.4 464.5h0M393.1 449.7h0M401.9 476.4h0M384.2 460.9h0M369.4 467.6h0M403.3 479.3h0M419.2 439.6h0M397.4 456.5h0M393.3 435.4h0M400.7 449.6h0M373.4 460.4h0M424.4 436.1h0" stroke="#d6d6cc" stroke-width="1.5" stroke-linecap="round" fill="none"/>
<path d="M424.2 465.2h0M412.4 461.1h0M419.0 449.3h0M414.2 432.0h0M418.5 455.8h0M402.0 463.3h0M407.2 462.8h0M382.2 426.6h0M381.1 459.5h0M401.6 438.4h0M412.0 457.3h0M377.4 453.7h0M373.6 433.0h0M416.4 450.7h0M375.2 463.4h0M409.5 449.1h0M389.2 454.1h0M392.0 444.4h0M415.8 433.5h0M372.4 475.4h0M376.3 424.6h0M381.5 438.0h0M401.8 428.9h0M398.0 439.4h0M382.0 449.8h0M389.1 471.2h0M374.5 436.5h0M379.5 445.4h0M415.5 465.6h0M374.9 445.8h0M395.1 432.5h0M420.3 468.0h0M368.0 452.1h0M376.2 428.8h0" stroke="#bfc3dc" stroke-width="1.5" stroke-linecap="round" fill="none"/>
<path d="M404.8 469.6h0M415.7 461.0h0M379.7 468.4h0M369.9 463.5h0M396.4 445.2h0M425.0 466.2h0M421.2 439.5h0M401.0 427.4h0M408.1 459.9h0M382.6 474.8h0M388.5 479.2h0M408.2 450.5h0M378.6 459.8h0M414.7 454.5h0M399.1 442.2h0M393.2 445.8h0M399.0 444.1h0M369.5 461.2h0M382.6 432.7h0M400.6 475.4h0M420.8 461.6h0M369.5 477.7h0M412.8 431.2h0M412.7 428.2h0M377.5 446.3h0M422.4 462.5h0" stroke="#c6c9df" stroke-width="1.5" stroke-linecap="round" fill="none"/>
<path d="M402.9 462.5h0M373.9 423.4h0M393.4 464.1h0M399.9 432.5h0M365.8 434.2h0M423.5 429.4h0M375.5 467.3h0M409.2 445.4h0M406.6 457.9h0M383.1 470.0h0M371.9 443.8h0M426.4 432.6h0M386.6 425.1h0M404.1 432.2h0M391.2 437.5h0M404.9 452.3h0M422.7 463.5h0M419.6 455.1h0M393.4 452.6h0M371.9 451.3h0M397.1 462.5h0M394.8 468.3h0M385.1 475.5h0M403.4 442.3h0" stroke="#cdd0e3" stroke-width="1.5" stroke-linecap="round" fill="none"/>
</g>
<rect x="306.50" y="369.00" width="30.00" height="9.50" fill="#f7f7f9" stroke="none" stroke-width="0.8" rx="2"/>
<rect x="370.50" y="369.00" width="45.50" height="9.50" fill="#f7f7f9" stroke="none" stroke-width="0.8" rx="2"/>
<rect x="305.50" y="425.60" width="42.50" height="17.80" fill="#f7f7f9" stroke="none" stroke-width="0.8" rx="2"/>
<rect x="370.80" y="425.60" width="45.00" height="9.30" fill="#f7f7f9" stroke="none" stroke-width="0.8" rx="2"/>
<text x="308.80" y="376.50" font-size="7.5" fill="#1e1e1e" stroke="#1e1e1e" stroke-width="0.16">Vehicle</text>
<text x="372.60" y="376.50" font-size="7.5" fill="#86303e" stroke="#86303e" stroke-width="0.16">ICD-B16F10</text>
<text x="307.40" y="433.30" font-size="7.5" fill="#5f6b38" stroke="#5f6b38" stroke-width="0.16">Dying</text>
<text x="307.40" y="442.00" font-size="7.5" fill="#5f6b38" stroke="#5f6b38" stroke-width="0.16">senB16F10</text>
<text x="373.00" y="433.30" font-size="7.5" fill="#6270b6" stroke="#6270b6" stroke-width="0.16">SenB16F10</text>
<circle cx="386.60" cy="380.20" r="1.30" fill="#8a6a3a"/>
<line x1="372.5" y1="473.5" x2="413.5" y2="437.5" stroke="#d67ab0" stroke-width="0.8" stroke-dasharray="1.4 1.4"/>
<g transform="translate(405.5 444.5) rotate(-40)"><line x1="-7" y1="0" x2="-1" y2="0" stroke="#8c3c84" stroke-width="0.9"/><path d="M0.5,0 L-3.8,-2.0 L-3.8,2.0 Z" fill="#7a2e76"/></g>
<g transform="translate(382.0 464.8) rotate(-40)"><line x1="-7" y1="0" x2="-1" y2="0" stroke="#8c3c84" stroke-width="0.9"/><path d="M0.5,0 L-3.8,-2.0 L-3.8,2.0 Z" fill="#7a2e76"/></g>
<line x1="303.40" y1="366.70" x2="303.40" y2="479.80" stroke="#2a2a2a" stroke-width="1.2"/>
<line x1="365.50" y1="366.70" x2="365.50" y2="479.80" stroke="#2a2a2a" stroke-width="1.2"/>
<line x1="428.70" y1="366.70" x2="428.70" y2="479.80" stroke="#2a2a2a" stroke-width="1.2"/>
<line x1="303.40" y1="366.70" x2="428.70" y2="366.70" stroke="#2a2a2a" stroke-width="1.2"/>
<line x1="303.40" y1="423.30" x2="428.70" y2="423.30" stroke="#2a2a2a" stroke-width="1.2"/>
<line x1="303.40" y1="479.80" x2="428.70" y2="479.80" stroke="#2a2a2a" stroke-width="1.2"/>
<text x="303.20" y="489.20" font-size="7.0" fill="#a0508c" stroke="#a0508c" stroke-width="0.16">CD8a</text>
<line x1="461.50" y1="388.20" x2="461.50" y2="450.70" stroke="#333" stroke-width="0.8"/>
<line x1="461.50" y1="450.70" x2="512.70" y2="450.70" stroke="#333" stroke-width="0.8"/>
<line x1="459.30" y1="450.70" x2="461.50" y2="450.70" stroke="#333" stroke-width="0.7"/>
<text x="457.60" y="453.40" font-size="7.5" fill="#1e1e1e" stroke="#1e1e1e" stroke-width="0.16" text-anchor="end">0</text>
<line x1="459.30" y1="438.20" x2="461.50" y2="438.20" stroke="#333" stroke-width="0.7"/>
<text x="457.60" y="440.90" font-size="7.5" fill="#1e1e1e" stroke="#1e1e1e" stroke-width="0.16" text-anchor="end">1</text>
<line x1="459.30" y1="425.70" x2="461.50" y2="425.70" stroke="#333" stroke-width="0.7"/>
<text x="457.60" y="428.40" font-size="7.5" fill="#1e1e1e" stroke="#1e1e1e" stroke-width="0.16" text-anchor="end">2</text>
<line x1="459.30" y1="413.20" x2="461.50" y2="413.20" stroke="#333" stroke-width="0.7"/>
<text x="457.60" y="415.90" font-size="7.5" fill="#1e1e1e" stroke="#1e1e1e" stroke-width="0.16" text-anchor="end">3</text>
<line x1="459.30" y1="400.70" x2="461.50" y2="400.70" stroke="#333" stroke-width="0.7"/>
<text x="457.60" y="403.40" font-size="7.5" fill="#1e1e1e" stroke="#1e1e1e" stroke-width="0.16" text-anchor="end">4</text>
<line x1="459.30" y1="388.20" x2="461.50" y2="388.20" stroke="#333" stroke-width="0.7"/>
<text x="457.60" y="390.90" font-size="7.5" fill="#1e1e1e" stroke="#1e1e1e" stroke-width="0.16" text-anchor="end">5</text>
<text x="443.50" y="417.00" font-size="7.5" fill="#1e1e1e" stroke="#1e1e1e" stroke-width="0.16" text-anchor="middle" transform="rotate(-90 443.50 417.00)">CD8 T cells per mm<tspan font-size="5" dy="-3">2</tspan></text>
<rect x="465.60" y="448.20" width="8.90" height="2.50" fill="#ffffff" stroke="#222" stroke-width="0.8"/>
<line x1="470.05" y1="448.20" x2="470.05" y2="447.20" stroke="#222" stroke-width="0.7"/>
<line x1="468.05" y1="447.20" x2="472.05" y2="447.20" stroke="#222" stroke-width="0.7"/>
<circle cx="470.55" cy="441.32" r="0.95" fill="#111"/>
<circle cx="469.55" cy="442.57" r="0.95" fill="#111"/>
<circle cx="470.60" cy="446.95" r="0.95" fill="#111"/>
<circle cx="467.99" cy="448.20" r="0.95" fill="#111"/>
<circle cx="472.24" cy="448.82" r="0.95" fill="#111"/>
<circle cx="472.32" cy="449.45" r="0.95" fill="#111"/>
<circle cx="471.12" cy="450.07" r="0.95" fill="#111"/>
<circle cx="467.67" cy="450.70" r="0.95" fill="#111"/>
<circle cx="470.19" cy="447.57" r="0.95" fill="#111"/>
<circle cx="468.84" cy="449.45" r="0.95" fill="#111"/>
<text x="470.65" y="458.00" font-size="7.3" fill="#1e1e1e" stroke="#1e1e1e" stroke-width="0.16" text-anchor="end" transform="rotate(-45 470.65 458.00)">Vehicle</text>
<rect x="476.80" y="449.45" width="8.90" height="1.25" fill="#ffffff" stroke="#222" stroke-width="0.8"/>
<line x1="481.25" y1="449.45" x2="481.25" y2="449.07" stroke="#222" stroke-width="0.7"/>
<line x1="479.25" y1="449.07" x2="483.25" y2="449.07" stroke="#222" stroke-width="0.7"/>
<circle cx="480.92" cy="448.82" r="0.95" fill="#111"/>
<circle cx="481.67" cy="449.45" r="0.95" fill="#111"/>
<circle cx="484.22" cy="450.07" r="0.95" fill="#111"/>
<circle cx="481.01" cy="449.45" r="0.95" fill="#111"/>
<circle cx="481.30" cy="450.70" r="0.95" fill="#111"/>
<circle cx="481.86" cy="450.07" r="0.95" fill="#111"/>
<circle cx="479.04" cy="449.20" r="0.95" fill="#111"/>
<circle cx="481.33" cy="449.70" r="0.95" fill="#111"/>
<text x="481.85" y="458.00" font-size="7.3" fill="#86303e" stroke="#86303e" stroke-width="0.16" text-anchor="end" transform="rotate(-45 481.85 458.00)">ICD-B16F10</text>
<rect x="488.10" y="445.07" width="8.90" height="5.62" fill="#ffffff" stroke="#222" stroke-width="0.8"/>
<line x1="492.55" y1="445.07" x2="492.55" y2="443.57" stroke="#222" stroke-width="0.7"/>
<line x1="490.55" y1="443.57" x2="494.55" y2="443.57" stroke="#222" stroke-width="0.7"/>
<circle cx="492.37" cy="431.95" r="0.95" fill="#111"/>
<circle cx="493.65" cy="444.45" r="0.95" fill="#111"/>
<circle cx="493.71" cy="445.07" r="0.95" fill="#111"/>
<circle cx="490.05" cy="445.70" r="0.95" fill="#111"/>
<circle cx="489.13" cy="446.95" r="0.95" fill="#111"/>
<circle cx="491.67" cy="446.32" r="0.95" fill="#111"/>
<circle cx="490.97" cy="448.20" r="0.95" fill="#111"/>
<circle cx="494.72" cy="449.45" r="0.95" fill="#111"/>
<text x="493.15" y="458.00" font-size="7.3" fill="#84a05a" stroke="#84a05a" stroke-width="0.16" text-anchor="end" transform="rotate(-45 493.15 458.00)">Dying senB16F10</text>
<rect x="499.00" y="430.70" width="8.90" height="20.00" fill="#5570bd" stroke="#222" stroke-width="0.8"/>
<line x1="503.45" y1="430.70" x2="503.45" y2="422.57" stroke="#222" stroke-width="0.7"/>
<line x1="501.45" y1="422.57" x2="505.45" y2="422.57" stroke="#222" stroke-width="0.7"/>
<circle cx="501.76" cy="391.95" r="0.95" fill="#111"/>
<circle cx="504.75" cy="401.95" r="0.95" fill="#111"/>
<circle cx="504.74" cy="429.45" r="0.95" fill="#111"/>
<circle cx="505.90" cy="434.45" r="0.95" fill="#111"/>
<circle cx="501.25" cy="439.45" r="0.95" fill="#111"/>
<circle cx="501.56" cy="444.45" r="0.95" fill="#111"/>
<circle cx="500.98" cy="448.20" r="0.95" fill="#111"/>
<text x="504.05" y="458.00" font-size="7.3" fill="#6270b6" stroke="#6270b6" stroke-width="0.16" text-anchor="end" transform="rotate(-45 504.05 458.00)">SenB16F10</text>
<path d="M470.2,429.0 L470.2,363.4 L504.6,363.4 L504.6,369.2" fill="none" stroke="#333" stroke-width="0.75"/>
<path d="M480.8,429.0 L480.8,372.7 L504.6,372.7 L504.6,377.7" fill="none" stroke="#333" stroke-width="0.75"/>
<path d="M492.5,425.0 L492.5,382.4 L504.6,382.4 L504.6,388.0" fill="none" stroke="#333" stroke-width="0.75"/>
<circle cx="485.30" cy="358.20" r="1.35" fill="#1a1a1a"/>
<circle cx="489.80" cy="358.20" r="1.35" fill="#1a1a1a"/>
<circle cx="490.50" cy="367.60" r="1.35" fill="#1a1a1a"/>
<circle cx="494.80" cy="367.60" r="1.35" fill="#1a1a1a"/>
<circle cx="497.70" cy="377.10" r="1.35" fill="#1a1a1a"/>
<text x="5.60" y="539.00" font-size="10.4" fill="#111" font-weight="bold">I</text>
<rect x="12.30" y="567.40" width="94.20" height="94.80" fill="none" stroke="#555" stroke-width="0.9"/>
<line x1="46.50" y1="587.10" x2="123.70" y2="565.40" stroke="#9a9a9a" stroke-width="0.6"/>
<line x1="46.50" y1="606.30" x2="123.70" y2="648.60" stroke="#9a9a9a" stroke-width="0.6"/>
<path d="M65.8,593.8 L72.0,597.0 L79.2,603.5 L84.0,610.0 L86.9,618.8 L85.0,630.4 L80.0,638.0 L73.5,643.8 L66.0,647.0 L58.0,647.7 L50.0,646.5 L42.7,643.8 L38.5,638.0 L36.9,632.3 L33.5,622.0 L32.1,611.2 L38.8,606.3 L48.5,603.5 L58.0,595.8 Z" fill="#fff" stroke="#fff" stroke-width="1.5"/>
<path d="M40.2 631.0a0.95 0.95 0 1 0 1.9 0a0.95 0.95 0 1 0 -1.9 0M65.9 619.6a0.95 0.95 0 1 0 1.9 0a0.95 0.95 0 1 0 -1.9 0M43.0 636.5a0.95 0.95 0 1 0 1.9 0a0.95 0.95 0 1 0 -1.9 0M75.4 621.4a0.95 0.95 0 1 0 1.9 0a0.95 0.95 0 1 0 -1.9 0M58.8 606.5a0.95 0.95 0 1 0 1.9 0a0.95 0.95 0 1 0 -1.9 0M63.2 597.5a0.95 0.95 0 1 0 1.9 0a0.95 0.95 0 1 0 -1.9 0M74.6 606.3a0.95 0.95 0 1 0 1.9 0a0.95 0.95 0 1 0 -1.9 0M79.1 627.0a0.95 0.95 0 1 0 1.9 0a0.95 0.95 0 1 0 -1.9 0M33.0 611.5a0.95 0.95 0 1 0 1.9 0a0.95 0.95 0 1 0 -1.9 0M58.4 600.0a0.95 0.95 0 1 0 1.9 0a0.95 0.95 0 1 0 -1.9 0M83.3 613.7a0.95 0.95 0 1 0 1.9 0a0.95 0.95 0 1 0 -1.9 0M39.6 637.9a0.95 0.95 0 1 0 1.9 0a0.95 0.95 0 1 0 -1.9 0M56.0 623.6a0.95 0.95 0 1 0 1.9 0a0.95 0.95 0 1 0 -1.9 0M49.9 619.9a0.95 0.95 0 1 0 1.9 0a0.95 0.95 0 1 0 -1.9 0M78.6 606.5a0.95 0.95 0 1 0 1.9 0a0.95 0.95 0 1 0 -1.9 0M73.9 605.0a0.95 0.95 0 1 0 1.9 0a0.95 0.95 0 1 0 -1.9 0M72.5 634.9a0.95 0.95 0 1 0 1.9 0a0.95 0.95 0 1 0 -1.9 0M63.0 633.1a0.95 0.95 0 1 0 1.9 0a0.95 0.95 0 1 0 -1.9 0M37.9 619.5a0.95 0.95 0 1 0 1.9 0a0.95 0.95 0 1 0 -1.9 0M76.5 604.6a0.95 0.95 0 1 0 1.9 0a0.95 0.95 0 1 0 -1.9 0M53.6 613.5a0.95 0.95 0 1 0 1.9 0a0.95 0.95 0 1 0 -1.9 0M55.9 614.6a0.95 0.95 0 1 0 1.9 0a0.95 0.95 0 1 0 -1.9 0M58.3 620.3a0.95 0.95 0 1 0 1.9 0a0.95 0.95 0 1 0 -1.9 0M61.3 634.1a0.95 0.95 0 1 0 1.9 0a0.95 0.95 0 1 0 -1.9 0M43.3 626.6a0.95 0.95 0 1 0 1.9 0a0.95 0.95 0 1 0 -1.9 0M61.6 627.4a0.95 0.95 0 1 0 1.9 0a0.95 0.95 0 1 0 -1.9 0M50.2 643.8a0.95 0.95 0 1 0 1.9 0a0.95 0.95 0 1 0 -1.9 0M50.1 626.0a0.95 0.95 0 1 0 1.9 0a0.95 0.95 0 1 0 -1.9 0M73.7 614.0a0.95 0.95 0 1 0 1.9 0a0.95 0.95 0 1 0 -1.9 0M68.6 630.2a0.95 0.95 0 1 0 1.9 0a0.95 0.95 0 1 0 -1.9 0M53.5 647.1a0.95 0.95 0 1 0 1.9 0a0.95 0.95 0 1 0 -1.9 0M83.8 625.6a0.95 0.95 0 1 0 1.9 0a0.95 0.95 0 1 0 -1.9 0M79.5 620.3a0.95 0.95 0 1 0 1.9 0a0.95 0.95 0 1 0 -1.9 0M51.7 607.1a0.95 0.95 0 1 0 1.9 0a0.95 0.95 0 1 0 -1.9 0M73.6 619.8a0.95 0.95 0 1 0 1.9 0a0.95 0.95 0 1 0 -1.9 0M45.3 609.4a0.95 0.95 0 1 0 1.9 0a0.95 0.95 0 1 0 -1.9 0M54.1 603.0a0.95 0.95 0 1 0 1.9 0a0.95 0.95 0 1 0 -1.9 0M35.0 612.0a0.95 0.95 0 1 0 1.9 0a0.95 0.95 0 1 0 -1.9 0M72.0 619.6a0.95 0.95 0 1 0 1.9 0a0.95 0.95 0 1 0 -1.9 0M60.0 633.1a0.95 0.95 0 1 0 1.9 0a0.95 0.95 0 1 0 -1.9 0M77.1 636.7a0.95 0.95 0 1 0 1.9 0a0.95 0.95 0 1 0 -1.9 0M79.5 626.2a0.95 0.95 0 1 0 1.9 0a0.95 0.95 0 1 0 -1.9 0M54.5 625.1a0.95 0.95 0 1 0 1.9 0a0.95 0.95 0 1 0 -1.9 0M77.7 610.4a0.95 0.95 0 1 0 1.9 0a0.95 0.95 0 1 0 -1.9 0M60.4 608.7a0.95 0.95 0 1 0 1.9 0a0.95 0.95 0 1 0 -1.9 0M68.7 645.2a0.95 0.95 0 1 0 1.9 0a0.95 0.95 0 1 0 -1.9 0M66.4 639.7a0.95 0.95 0 1 0 1.9 0a0.95 0.95 0 1 0 -1.9 0M63.2 607.7a0.95 0.95 0 1 0 1.9 0a0.95 0.95 0 1 0 -1.9 0M53.4 645.5a0.95 0.95 0 1 0 1.9 0a0.95 0.95 0 1 0 -1.9 0M32.5 617.9a0.95 0.95 0 1 0 1.9 0a0.95 0.95 0 1 0 -1.9 0M67.1 600.6a0.95 0.95 0 1 0 1.9 0a0.95 0.95 0 1 0 -1.9 0M60.7 611.3a0.95 0.95 0 1 0 1.9 0a0.95 0.95 0 1 0 -1.9 0M58.2 605.6a0.95 0.95 0 1 0 1.9 0a0.95 0.95 0 1 0 -1.9 0M51.9 632.1a0.95 0.95 0 1 0 1.9 0a0.95 0.95 0 1 0 -1.9 0M61.3 596.3a0.95 0.95 0 1 0 1.9 0a0.95 0.95 0 1 0 -1.9 0M70.1 640.9a0.95 0.95 0 1 0 1.9 0a0.95 0.95 0 1 0 -1.9 0M73.6 636.4a0.95 0.95 0 1 0 1.9 0a0.95 0.95 0 1 0 -1.9 0M40.8 632.1a0.95 0.95 0 1 0 1.9 0a0.95 0.95 0 1 0 -1.9 0M45.0 631.4a0.95 0.95 0 1 0 1.9 0a0.95 0.95 0 1 0 -1.9 0M52.5 610.5a0.95 0.95 0 1 0 1.9 0a0.95 0.95 0 1 0 -1.9 0M80.5 609.7a0.95 0.95 0 1 0 1.9 0a0.95 0.95 0 1 0 -1.9 0M58.7 623.4a0.95 0.95 0 1 0 1.9 0a0.95 0.95 0 1 0 -1.9 0M64.1 621.2a0.95 0.95 0 1 0 1.9 0a0.95 0.95 0 1 0 -1.9 0M48.1 631.5a0.95 0.95 0 1 0 1.9 0a0.95 0.95 0 1 0 -1.9 0M60.0 624.0a0.95 0.95 0 1 0 1.9 0a0.95 0.95 0 1 0 -1.9 0M72.8 618.0a0.95 0.95 0 1 0 1.9 0a0.95 0.95 0 1 0 -1.9 0M65.2 594.9a0.95 0.95 0 1 0 1.9 0a0.95 0.95 0 1 0 -1.9 0M66.5 617.7a0.95 0.95 0 1 0 1.9 0a0.95 0.95 0 1 0 -1.9 0M59.5 614.8a0.95 0.95 0 1 0 1.9 0a0.95 0.95 0 1 0 -1.9 0M53.2 606.0a0.95 0.95 0 1 0 1.9 0a0.95 0.95 0 1 0 -1.9 0M33.8 617.2a0.95 0.95 0 1 0 1.9 0a0.95 0.95 0 1 0 -1.9 0M44.7 631.8a0.95 0.95 0 1 0 1.9 0a0.95 0.95 0 1 0 -1.9 0M75.9 632.8a0.95 0.95 0 1 0 1.9 0a0.95 0.95 0 1 0 -1.9 0M56.1 606.5a0.95 0.95 0 1 0 1.9 0a0.95 0.95 0 1 0 -1.9 0M52.3 620.0a0.95 0.95 0 1 0 1.9 0a0.95 0.95 0 1 0 -1.9 0M65.8 645.7a0.95 0.95 0 1 0 1.9 0a0.95 0.95 0 1 0 -1.9 0M35.8 619.7a0.95 0.95 0 1 0 1.9 0a0.95 0.95 0 1 0 -1.9 0M58.1 632.5a0.95 0.95 0 1 0 1.9 0a0.95 0.95 0 1 0 -1.9 0M79.9 635.8a0.95 0.95 0 1 0 1.9 0a0.95 0.95 0 1 0 -1.9 0M65.5 634.7a0.95 0.95 0 1 0 1.9 0a0.95 0.95 0 1 0 -1.9 0M67.8 640.1a0.95 0.95 0 1 0 1.9 0a0.95 0.95 0 1 0 -1.9 0M69.5 630.6a0.95 0.95 0 1 0 1.9 0a0.95 0.95 0 1 0 -1.9 0M44.6 643.2a0.95 0.95 0 1 0 1.9 0a0.95 0.95 0 1 0 -1.9 0M52.3 626.9a0.95 0.95 0 1 0 1.9 0a0.95 0.95 0 1 0 -1.9 0M48.3 610.6a0.95 0.95 0 1 0 1.9 0a0.95 0.95 0 1 0 -1.9 0M52.6 601.6a0.95 0.95 0 1 0 1.9 0a0.95 0.95 0 1 0 -1.9 0M61.5 598.1a0.95 0.95 0 1 0 1.9 0a0.95 0.95 0 1 0 -1.9 0M47.7 644.7a0.95 0.95 0 1 0 1.9 0a0.95 0.95 0 1 0 -1.9 0M71.8 618.7a0.95 0.95 0 1 0 1.9 0a0.95 0.95 0 1 0 -1.9 0M69.7 604.9a0.95 0.95 0 1 0 1.9 0a0.95 0.95 0 1 0 -1.9 0M49.5 628.4a0.95 0.95 0 1 0 1.9 0a0.95 0.95 0 1 0 -1.9 0M68.5 607.9a0.95 0.95 0 1 0 1.9 0a0.95 0.95 0 1 0 -1.9 0M83.3 611.2a0.95 0.95 0 1 0 1.9 0a0.95 0.95 0 1 0 -1.9 0M45.1 639.4a0.95 0.95 0 1 0 1.9 0a0.95 0.95 0 1 0 -1.9 0M39.6 630.5a0.95 0.95 0 1 0 1.9 0a0.95 0.95 0 1 0 -1.9 0M42.1 626.0a0.95 0.95 0 1 0 1.9 0a0.95 0.95 0 1 0 -1.9 0M46.4 614.2a0.95 0.95 0 1 0 1.9 0a0.95 0.95 0 1 0 -1.9 0M82.7 619.0a0.95 0.95 0 1 0 1.9 0a0.95 0.95 0 1 0 -1.9 0M55.1 627.1a0.95 0.95 0 1 0 1.9 0a0.95 0.95 0 1 0 -1.9 0M52.2 608.5a0.95 0.95 0 1 0 1.9 0a0.95 0.95 0 1 0 -1.9 0M82.4 631.8a0.95 0.95 0 1 0 1.9 0a0.95 0.95 0 1 0 -1.9 0M69.5 606.7a0.95 0.95 0 1 0 1.9 0a0.95 0.95 0 1 0 -1.9 0M36.3 610.5a0.95 0.95 0 1 0 1.9 0a0.95 0.95 0 1 0 -1.9 0M56.0 642.0a0.95 0.95 0 1 0 1.9 0a0.95 0.95 0 1 0 -1.9 0M51.4 601.1a0.95 0.95 0 1 0 1.9 0a0.95 0.95 0 1 0 -1.9 0M74.5 638.1a0.95 0.95 0 1 0 1.9 0a0.95 0.95 0 1 0 -1.9 0M60.2 596.4a0.95 0.95 0 1 0 1.9 0a0.95 0.95 0 1 0 -1.9 0M41.4 615.5a0.95 0.95 0 1 0 1.9 0a0.95 0.95 0 1 0 -1.9 0M61.4 605.9a0.95 0.95 0 1 0 1.9 0a0.95 0.95 0 1 0 -1.9 0M75.1 639.3a0.95 0.95 0 1 0 1.9 0a0.95 0.95 0 1 0 -1.9 0M72.1 634.7a0.95 0.95 0 1 0 1.9 0a0.95 0.95 0 1 0 -1.9 0M75.8 626.5a0.95 0.95 0 1 0 1.9 0a0.95 0.95 0 1 0 -1.9 0M65.1 619.2a0.95 0.95 0 1 0 1.9 0a0.95 0.95 0 1 0 -1.9 0M75.0 612.0a0.95 0.95 0 1 0 1.9 0a0.95 0.95 0 1 0 -1.9 0M45.9 612.8a0.95 0.95 0 1 0 1.9 0a0.95 0.95 0 1 0 -1.9 0M47.5 627.6a0.95 0.95 0 1 0 1.9 0a0.95 0.95 0 1 0 -1.9 0M34.9 621.4a0.95 0.95 0 1 0 1.9 0a0.95 0.95 0 1 0 -1.9 0M68.3 604.0a0.95 0.95 0 1 0 1.9 0a0.95 0.95 0 1 0 -1.9 0M33.2 620.5a0.95 0.95 0 1 0 1.9 0a0.95 0.95 0 1 0 -1.9 0M68.5 629.0a0.95 0.95 0 1 0 1.9 0a0.95 0.95 0 1 0 -1.9 0M82.2 622.8a0.95 0.95 0 1 0 1.9 0a0.95 0.95 0 1 0 -1.9 0M53.5 631.0a0.95 0.95 0 1 0 1.9 0a0.95 0.95 0 1 0 -1.9 0M71.0 622.1a0.95 0.95 0 1 0 1.9 0a0.95 0.95 0 1 0 -1.9 0M50.5 622.5a0.95 0.95 0 1 0 1.9 0a0.95 0.95 0 1 0 -1.9 0M65.6 603.2a0.95 0.95 0 1 0 1.9 0a0.95 0.95 0 1 0 -1.9 0M70.0 620.4a0.95 0.95 0 1 0 1.9 0a0.95 0.95 0 1 0 -1.9 0M40.0 639.7a0.95 0.95 0 1 0 1.9 0a0.95 0.95 0 1 0 -1.9 0M68.4 605.5a0.95 0.95 0 1 0 1.9 0a0.95 0.95 0 1 0 -1.9 0M73.8 642.5a0.95 0.95 0 1 0 1.9 0a0.95 0.95 0 1 0 -1.9 0M60.4 642.8a0.95 0.95 0 1 0 1.9 0a0.95 0.95 0 1 0 -1.9 0M84.3 614.8a0.95 0.95 0 1 0 1.9 0a0.95 0.95 0 1 0 -1.9 0M50.4 626.9a0.95 0.95 0 1 0 1.9 0a0.95 0.95 0 1 0 -1.9 0M64.4 634.5a0.95 0.95 0 1 0 1.9 0a0.95 0.95 0 1 0 -1.9 0M66.6 602.5a0.95 0.95 0 1 0 1.9 0a0.95 0.95 0 1 0 -1.9 0M82.2 622.7a0.95 0.95 0 1 0 1.9 0a0.95 0.95 0 1 0 -1.9 0M73.7 633.7a0.95 0.95 0 1 0 1.9 0a0.95 0.95 0 1 0 -1.9 0M79.5 613.3a0.95 0.95 0 1 0 1.9 0a0.95 0.95 0 1 0 -1.9 0M35.7 615.7a0.95 0.95 0 1 0 1.9 0a0.95 0.95 0 1 0 -1.9 0M40.9 622.9a0.95 0.95 0 1 0 1.9 0a0.95 0.95 0 1 0 -1.9 0M75.8 613.3a0.95 0.95 0 1 0 1.9 0a0.95 0.95 0 1 0 -1.9 0M54.3 625.1a0.95 0.95 0 1 0 1.9 0a0.95 0.95 0 1 0 -1.9 0M82.0 622.0a0.95 0.95 0 1 0 1.9 0a0.95 0.95 0 1 0 -1.9 0M80.2 621.5a0.95 0.95 0 1 0 1.9 0a0.95 0.95 0 1 0 -1.9 0M37.9 606.7a0.95 0.95 0 1 0 1.9 0a0.95 0.95 0 1 0 -1.9 0M54.4 628.3a0.95 0.95 0 1 0 1.9 0a0.95 0.95 0 1 0 -1.9 0M73.4 634.3a0.95 0.95 0 1 0 1.9 0a0.95 0.95 0 1 0 -1.9 0M66.8 607.4a0.95 0.95 0 1 0 1.9 0a0.95 0.95 0 1 0 -1.9 0M54.7 614.2a0.95 0.95 0 1 0 1.9 0a0.95 0.95 0 1 0 -1.9 0M58.0 608.1a0.95 0.95 0 1 0 1.9 0a0.95 0.95 0 1 0 -1.9 0M60.6 618.5a0.95 0.95 0 1 0 1.9 0a0.95 0.95 0 1 0 -1.9 0M63.3 637.1a0.95 0.95 0 1 0 1.9 0a0.95 0.95 0 1 0 -1.9 0M71.5 633.2a0.95 0.95 0 1 0 1.9 0a0.95 0.95 0 1 0 -1.9 0M67.6 625.1a0.95 0.95 0 1 0 1.9 0a0.95 0.95 0 1 0 -1.9 0M41.9 606.0a0.95 0.95 0 1 0 1.9 0a0.95 0.95 0 1 0 -1.9 0M71.4 637.6a0.95 0.95 0 1 0 1.9 0a0.95 0.95 0 1 0 -1.9 0M57.6 596.8a0.95 0.95 0 1 0 1.9 0a0.95 0.95 0 1 0 -1.9 0M51.4 638.3a0.95 0.95 0 1 0 1.9 0a0.95 0.95 0 1 0 -1.9 0M58.5 618.7a0.95 0.95 0 1 0 1.9 0a0.95 0.95 0 1 0 -1.9 0M52.5 627.7a0.95 0.95 0 1 0 1.9 0a0.95 0.95 0 1 0 -1.9 0M63.9 631.2a0.95 0.95 0 1 0 1.9 0a0.95 0.95 0 1 0 -1.9 0M78.6 634.3a0.95 0.95 0 1 0 1.9 0a0.95 0.95 0 1 0 -1.9 0M51.7 607.3a0.95 0.95 0 1 0 1.9 0a0.95 0.95 0 1 0 -1.9 0M74.0 636.5a0.95 0.95 0 1 0 1.9 0a0.95 0.95 0 1 0 -1.9 0M35.4 610.4a0.95 0.95 0 1 0 1.9 0a0.95 0.95 0 1 0 -1.9 0M65.9 601.7a0.95 0.95 0 1 0 1.9 0a0.95 0.95 0 1 0 -1.9 0M76.7 608.1a0.95 0.95 0 1 0 1.9 0a0.95 0.95 0 1 0 -1.9 0M68.5 609.7a0.95 0.95 0 1 0 1.9 0a0.95 0.95 0 1 0 -1.9 0M43.1 605.0a0.95 0.95 0 1 0 1.9 0a0.95 0.95 0 1 0 -1.9 0M58.4 632.2a0.95 0.95 0 1 0 1.9 0a0.95 0.95 0 1 0 -1.9 0M43.1 630.8a0.95 0.95 0 1 0 1.9 0a0.95 0.95 0 1 0 -1.9 0M49.5 628.8a0.95 0.95 0 1 0 1.9 0a0.95 0.95 0 1 0 -1.9 0M51.3 604.2a0.95 0.95 0 1 0 1.9 0a0.95 0.95 0 1 0 -1.9 0M69.3 616.1a0.95 0.95 0 1 0 1.9 0a0.95 0.95 0 1 0 -1.9 0M67.0 594.9a0.95 0.95 0 1 0 1.9 0a0.95 0.95 0 1 0 -1.9 0M70.9 625.9a0.95 0.95 0 1 0 1.9 0a0.95 0.95 0 1 0 -1.9 0M55.5 620.8a0.95 0.95 0 1 0 1.9 0a0.95 0.95 0 1 0 -1.9 0M83.9 614.0a0.95 0.95 0 1 0 1.9 0a0.95 0.95 0 1 0 -1.9 0M66.0 628.1a0.95 0.95 0 1 0 1.9 0a0.95 0.95 0 1 0 -1.9 0M51.2 612.5a0.95 0.95 0 1 0 1.9 0a0.95 0.95 0 1 0 -1.9 0M72.5 628.1a0.95 0.95 0 1 0 1.9 0a0.95 0.95 0 1 0 -1.9 0M56.2 621.5a0.95 0.95 0 1 0 1.9 0a0.95 0.95 0 1 0 -1.9 0M43.4 636.3a0.95 0.95 0 1 0 1.9 0a0.95 0.95 0 1 0 -1.9 0M56.1 605.7a0.95 0.95 0 1 0 1.9 0a0.95 0.95 0 1 0 -1.9 0M63.3 625.2a0.95 0.95 0 1 0 1.9 0a0.95 0.95 0 1 0 -1.9 0M35.9 620.2a0.95 0.95 0 1 0 1.9 0a0.95 0.95 0 1 0 -1.9 0M40.2 636.9a0.95 0.95 0 1 0 1.9 0a0.95 0.95 0 1 0 -1.9 0M49.1 611.5a0.95 0.95 0 1 0 1.9 0a0.95 0.95 0 1 0 -1.9 0M65.4 639.5a0.95 0.95 0 1 0 1.9 0a0.95 0.95 0 1 0 -1.9 0M60.4 600.0a0.95 0.95 0 1 0 1.9 0a0.95 0.95 0 1 0 -1.9 0M53.4 634.8a0.95 0.95 0 1 0 1.9 0a0.95 0.95 0 1 0 -1.9 0M42.3 631.5a0.95 0.95 0 1 0 1.9 0a0.95 0.95 0 1 0 -1.9 0M60.7 598.4a0.95 0.95 0 1 0 1.9 0a0.95 0.95 0 1 0 -1.9 0M44.4 626.1a0.95 0.95 0 1 0 1.9 0a0.95 0.95 0 1 0 -1.9 0M62.8 637.9a0.95 0.95 0 1 0 1.9 0a0.95 0.95 0 1 0 -1.9 0M59.7 629.6a0.95 0.95 0 1 0 1.9 0a0.95 0.95 0 1 0 -1.9 0M48.6 643.0a0.95 0.95 0 1 0 1.9 0a0.95 0.95 0 1 0 -1.9 0M50.7 636.1a0.95 0.95 0 1 0 1.9 0a0.95 0.95 0 1 0 -1.9 0M33.0 620.7a0.95 0.95 0 1 0 1.9 0a0.95 0.95 0 1 0 -1.9 0M80.0 635.4a0.95 0.95 0 1 0 1.9 0a0.95 0.95 0 1 0 -1.9 0M62.9 603.6a0.95 0.95 0 1 0 1.9 0a0.95 0.95 0 1 0 -1.9 0M70.6 622.4a0.95 0.95 0 1 0 1.9 0a0.95 0.95 0 1 0 -1.9 0M40.1 612.2a0.95 0.95 0 1 0 1.9 0a0.95 0.95 0 1 0 -1.9 0M67.5 629.2a0.95 0.95 0 1 0 1.9 0a0.95 0.95 0 1 0 -1.9 0M52.5 637.0a0.95 0.95 0 1 0 1.9 0a0.95 0.95 0 1 0 -1.9 0M34.1 609.3a0.95 0.95 0 1 0 1.9 0a0.95 0.95 0 1 0 -1.9 0M36.1 611.3a0.95 0.95 0 1 0 1.9 0a0.95 0.95 0 1 0 -1.9 0M74.6 634.4a0.95 0.95 0 1 0 1.9 0a0.95 0.95 0 1 0 -1.9 0M39.3 610.4a0.95 0.95 0 1 0 1.9 0a0.95 0.95 0 1 0 -1.9 0M37.3 629.5a0.95 0.95 0 1 0 1.9 0a0.95 0.95 0 1 0 -1.9 0M55.4 606.3a0.95 0.95 0 1 0 1.9 0a0.95 0.95 0 1 0 -1.9 0M51.7 640.4a0.95 0.95 0 1 0 1.9 0a0.95 0.95 0 1 0 -1.9 0M54.4 631.0a0.95 0.95 0 1 0 1.9 0a0.95 0.95 0 1 0 -1.9 0M65.5 619.3a0.95 0.95 0 1 0 1.9 0a0.95 0.95 0 1 0 -1.9 0M61.6 613.4a0.95 0.95 0 1 0 1.9 0a0.95 0.95 0 1 0 -1.9 0M42.0 620.4a0.95 0.95 0 1 0 1.9 0a0.95 0.95 0 1 0 -1.9 0M47.8 611.6a0.95 0.95 0 1 0 1.9 0a0.95 0.95 0 1 0 -1.9 0M41.4 643.0a0.95 0.95 0 1 0 1.9 0a0.95 0.95 0 1 0 -1.9 0M54.5 604.6a0.95 0.95 0 1 0 1.9 0a0.95 0.95 0 1 0 -1.9 0M78.7 612.0a0.95 0.95 0 1 0 1.9 0a0.95 0.95 0 1 0 -1.9 0M67.7 606.2a0.95 0.95 0 1 0 1.9 0a0.95 0.95 0 1 0 -1.9 0M66.8 618.1a0.95 0.95 0 1 0 1.9 0a0.95 0.95 0 1 0 -1.9 0M71.5 622.3a0.95 0.95 0 1 0 1.9 0a0.95 0.95 0 1 0 -1.9 0M51.7 608.9a0.95 0.95 0 1 0 1.9 0a0.95 0.95 0 1 0 -1.9 0M63.7 638.6a0.95 0.95 0 1 0 1.9 0a0.95 0.95 0 1 0 -1.9 0M69.0 619.7a0.95 0.95 0 1 0 1.9 0a0.95 0.95 0 1 0 -1.9 0M49.2 641.8a0.95 0.95 0 1 0 1.9 0a0.95 0.95 0 1 0 -1.9 0M68.4 635.4a0.95 0.95 0 1 0 1.9 0a0.95 0.95 0 1 0 -1.9 0M79.3 607.1a0.95 0.95 0 1 0 1.9 0a0.95 0.95 0 1 0 -1.9 0M52.0 646.4a0.95 0.95 0 1 0 1.9 0a0.95 0.95 0 1 0 -1.9 0M40.3 615.1a0.95 0.95 0 1 0 1.9 0a0.95 0.95 0 1 0 -1.9 0M65.5 608.5a0.95 0.95 0 1 0 1.9 0a0.95 0.95 0 1 0 -1.9 0M45.8 636.6a0.95 0.95 0 1 0 1.9 0a0.95 0.95 0 1 0 -1.9 0M64.7 633.9a0.95 0.95 0 1 0 1.9 0a0.95 0.95 0 1 0 -1.9 0M74.4 640.8a0.95 0.95 0 1 0 1.9 0a0.95 0.95 0 1 0 -1.9 0M84.8 620.7a0.95 0.95 0 1 0 1.9 0a0.95 0.95 0 1 0 -1.9 0M69.6 621.5a0.95 0.95 0 1 0 1.9 0a0.95 0.95 0 1 0 -1.9 0M54.7 629.6a0.95 0.95 0 1 0 1.9 0a0.95 0.95 0 1 0 -1.9 0M52.3 601.2a0.95 0.95 0 1 0 1.9 0a0.95 0.95 0 1 0 -1.9 0M56.0 634.9a0.95 0.95 0 1 0 1.9 0a0.95 0.95 0 1 0 -1.9 0M37.3 621.3a0.95 0.95 0 1 0 1.9 0a0.95 0.95 0 1 0 -1.9 0M47.4 617.8a0.95 0.95 0 1 0 1.9 0a0.95 0.95 0 1 0 -1.9 0M70.2 616.1a0.95 0.95 0 1 0 1.9 0a0.95 0.95 0 1 0 -1.9 0M52.6 633.1a0.95 0.95 0 1 0 1.9 0a0.95 0.95 0 1 0 -1.9 0M37.5 612.6a0.95 0.95 0 1 0 1.9 0a0.95 0.95 0 1 0 -1.9 0M69.6 638.8a0.95 0.95 0 1 0 1.9 0a0.95 0.95 0 1 0 -1.9 0M65.4 610.7a0.95 0.95 0 1 0 1.9 0a0.95 0.95 0 1 0 -1.9 0M69.6 639.4a0.95 0.95 0 1 0 1.9 0a0.95 0.95 0 1 0 -1.9 0M38.6 612.4a0.95 0.95 0 1 0 1.9 0a0.95 0.95 0 1 0 -1.9 0M82.5 612.8a0.95 0.95 0 1 0 1.9 0a0.95 0.95 0 1 0 -1.9 0M65.8 637.9a0.95 0.95 0 1 0 1.9 0a0.95 0.95 0 1 0 -1.9 0M46.4 636.0a0.95 0.95 0 1 0 1.9 0a0.95 0.95 0 1 0 -1.9 0M31.3 612.2a0.95 0.95 0 1 0 1.9 0a0.95 0.95 0 1 0 -1.9 0M40.3 612.4a0.95 0.95 0 1 0 1.9 0a0.95 0.95 0 1 0 -1.9 0M75.2 603.2a0.95 0.95 0 1 0 1.9 0a0.95 0.95 0 1 0 -1.9 0M62.6 623.7a0.95 0.95 0 1 0 1.9 0a0.95 0.95 0 1 0 -1.9 0M65.2 602.9a0.95 0.95 0 1 0 1.9 0a0.95 0.95 0 1 0 -1.9 0M72.8 599.1a0.95 0.95 0 1 0 1.9 0a0.95 0.95 0 1 0 -1.9 0M82.0 610.4a0.95 0.95 0 1 0 1.9 0a0.95 0.95 0 1 0 -1.9 0M45.0 605.5a0.95 0.95 0 1 0 1.9 0a0.95 0.95 0 1 0 -1.9 0M52.9 636.5a0.95 0.95 0 1 0 1.9 0a0.95 0.95 0 1 0 -1.9 0M78.0 634.0a0.95 0.95 0 1 0 1.9 0a0.95 0.95 0 1 0 -1.9 0M71.1 607.0a0.95 0.95 0 1 0 1.9 0a0.95 0.95 0 1 0 -1.9 0M48.8 610.2a0.95 0.95 0 1 0 1.9 0a0.95 0.95 0 1 0 -1.9 0M54.9 640.9a0.95 0.95 0 1 0 1.9 0a0.95 0.95 0 1 0 -1.9 0M56.4 631.1a0.95 0.95 0 1 0 1.9 0a0.95 0.95 0 1 0 -1.9 0M74.1 603.9a0.95 0.95 0 1 0 1.9 0a0.95 0.95 0 1 0 -1.9 0M64.9 646.7a0.95 0.95 0 1 0 1.9 0a0.95 0.95 0 1 0 -1.9 0M57.8 642.8a0.95 0.95 0 1 0 1.9 0a0.95 0.95 0 1 0 -1.9 0M40.3 623.4a0.95 0.95 0 1 0 1.9 0a0.95 0.95 0 1 0 -1.9 0M37.8 637.2a0.95 0.95 0 1 0 1.9 0a0.95 0.95 0 1 0 -1.9 0M66.0 627.8a0.95 0.95 0 1 0 1.9 0a0.95 0.95 0 1 0 -1.9 0M84.0 617.6a0.95 0.95 0 1 0 1.9 0a0.95 0.95 0 1 0 -1.9 0M62.6 613.4a0.95 0.95 0 1 0 1.9 0a0.95 0.95 0 1 0 -1.9 0M64.4 615.3a0.95 0.95 0 1 0 1.9 0a0.95 0.95 0 1 0 -1.9 0M55.3 634.2a0.95 0.95 0 1 0 1.9 0a0.95 0.95 0 1 0 -1.9 0M41.4 609.9a0.95 0.95 0 1 0 1.9 0a0.95 0.95 0 1 0 -1.9 0M73.0 605.9a0.95 0.95 0 1 0 1.9 0a0.95 0.95 0 1 0 -1.9 0M39.9 616.0a0.95 0.95 0 1 0 1.9 0a0.95 0.95 0 1 0 -1.9 0M48.3 607.9a0.95 0.95 0 1 0 1.9 0a0.95 0.95 0 1 0 -1.9 0M50.5 622.8a0.95 0.95 0 1 0 1.9 0a0.95 0.95 0 1 0 -1.9 0M37.5 622.5a0.95 0.95 0 1 0 1.9 0a0.95 0.95 0 1 0 -1.9 0M42.2 606.8a0.95 0.95 0 1 0 1.9 0a0.95 0.95 0 1 0 -1.9 0M49.9 609.5a0.95 0.95 0 1 0 1.9 0a0.95 0.95 0 1 0 -1.9 0M77.0 629.3a0.95 0.95 0 1 0 1.9 0a0.95 0.95 0 1 0 -1.9 0M57.1 635.4a0.95 0.95 0 1 0 1.9 0a0.95 0.95 0 1 0 -1.9 0M68.7 610.8a0.95 0.95 0 1 0 1.9 0a0.95 0.95 0 1 0 -1.9 0M64.9 634.0a0.95 0.95 0 1 0 1.9 0a0.95 0.95 0 1 0 -1.9 0M60.4 634.4a0.95 0.95 0 1 0 1.9 0a0.95 0.95 0 1 0 -1.9 0M65.8 643.8a0.95 0.95 0 1 0 1.9 0a0.95 0.95 0 1 0 -1.9 0M45.6 630.0a0.95 0.95 0 1 0 1.9 0a0.95 0.95 0 1 0 -1.9 0M84.7 622.3a0.95 0.95 0 1 0 1.9 0a0.95 0.95 0 1 0 -1.9 0M70.8 608.1a0.95 0.95 0 1 0 1.9 0a0.95 0.95 0 1 0 -1.9 0M72.3 616.6a0.95 0.95 0 1 0 1.9 0a0.95 0.95 0 1 0 -1.9 0M60.5 607.2a0.95 0.95 0 1 0 1.9 0a0.95 0.95 0 1 0 -1.9 0M45.2 640.4a0.95 0.95 0 1 0 1.9 0a0.95 0.95 0 1 0 -1.9 0M66.4 627.7a0.95 0.95 0 1 0 1.9 0a0.95 0.95 0 1 0 -1.9 0M37.5 609.6a0.95 0.95 0 1 0 1.9 0a0.95 0.95 0 1 0 -1.9 0M60.6 631.3a0.95 0.95 0 1 0 1.9 0a0.95 0.95 0 1 0 -1.9 0M59.1 623.7a0.95 0.95 0 1 0 1.9 0a0.95 0.95 0 1 0 -1.9 0M44.1 617.0a0.95 0.95 0 1 0 1.9 0a0.95 0.95 0 1 0 -1.9 0M54.1 630.7a0.95 0.95 0 1 0 1.9 0a0.95 0.95 0 1 0 -1.9 0M68.1 607.9a0.95 0.95 0 1 0 1.9 0a0.95 0.95 0 1 0 -1.9 0M69.1 617.0a0.95 0.95 0 1 0 1.9 0a0.95 0.95 0 1 0 -1.9 0M51.8 604.4a0.95 0.95 0 1 0 1.9 0a0.95 0.95 0 1 0 -1.9 0M82.2 627.7a0.95 0.95 0 1 0 1.9 0a0.95 0.95 0 1 0 -1.9 0M78.1 620.3a0.95 0.95 0 1 0 1.9 0a0.95 0.95 0 1 0 -1.9 0M63.3 642.0a0.95 0.95 0 1 0 1.9 0a0.95 0.95 0 1 0 -1.9 0M34.4 613.3a0.95 0.95 0 1 0 1.9 0a0.95 0.95 0 1 0 -1.9 0M51.7 612.2a0.95 0.95 0 1 0 1.9 0a0.95 0.95 0 1 0 -1.9 0M68.4 645.4a0.95 0.95 0 1 0 1.9 0a0.95 0.95 0 1 0 -1.9 0M49.5 636.7a0.95 0.95 0 1 0 1.9 0a0.95 0.95 0 1 0 -1.9 0M43.6 635.4a0.95 0.95 0 1 0 1.9 0a0.95 0.95 0 1 0 -1.9 0M40.6 625.9a0.95 0.95 0 1 0 1.9 0a0.95 0.95 0 1 0 -1.9 0M70.7 630.1a0.95 0.95 0 1 0 1.9 0a0.95 0.95 0 1 0 -1.9 0M77.6 619.7a0.95 0.95 0 1 0 1.9 0a0.95 0.95 0 1 0 -1.9 0M78.2 626.2a0.95 0.95 0 1 0 1.9 0a0.95 0.95 0 1 0 -1.9 0M40.4 615.2a0.95 0.95 0 1 0 1.9 0a0.95 0.95 0 1 0 -1.9 0M76.1 618.8a0.95 0.95 0 1 0 1.9 0a0.95 0.95 0 1 0 -1.9 0M41.4 625.4a0.95 0.95 0 1 0 1.9 0a0.95 0.95 0 1 0 -1.9 0M66.4 617.9a0.95 0.95 0 1 0 1.9 0a0.95 0.95 0 1 0 -1.9 0M53.3 645.7a0.95 0.95 0 1 0 1.9 0a0.95 0.95 0 1 0 -1.9 0M49.9 630.0a0.95 0.95 0 1 0 1.9 0a0.95 0.95 0 1 0 -1.9 0M42.4 621.5a0.95 0.95 0 1 0 1.9 0a0.95 0.95 0 1 0 -1.9 0M52.0 629.0a0.95 0.95 0 1 0 1.9 0a0.95 0.95 0 1 0 -1.9 0M61.2 636.7a0.95 0.95 0 1 0 1.9 0a0.95 0.95 0 1 0 -1.9 0M57.3 598.3a0.95 0.95 0 1 0 1.9 0a0.95 0.95 0 1 0 -1.9 0M71.0 615.5a0.95 0.95 0 1 0 1.9 0a0.95 0.95 0 1 0 -1.9 0M59.9 607.3a0.95 0.95 0 1 0 1.9 0a0.95 0.95 0 1 0 -1.9 0M50.8 620.7a0.95 0.95 0 1 0 1.9 0a0.95 0.95 0 1 0 -1.9 0M53.0 629.2a0.95 0.95 0 1 0 1.9 0a0.95 0.95 0 1 0 -1.9 0M75.9 634.9a0.95 0.95 0 1 0 1.9 0a0.95 0.95 0 1 0 -1.9 0M79.6 637.0a0.95 0.95 0 1 0 1.9 0a0.95 0.95 0 1 0 -1.9 0M53.7 628.5a0.95 0.95 0 1 0 1.9 0a0.95 0.95 0 1 0 -1.9 0M69.9 608.1a0.95 0.95 0 1 0 1.9 0a0.95 0.95 0 1 0 -1.9 0M57.0 608.4a0.95 0.95 0 1 0 1.9 0a0.95 0.95 0 1 0 -1.9 0M74.7 616.8a0.95 0.95 0 1 0 1.9 0a0.95 0.95 0 1 0 -1.9 0M73.8 614.3a0.95 0.95 0 1 0 1.9 0a0.95 0.95 0 1 0 -1.9 0M49.9 644.8a0.95 0.95 0 1 0 1.9 0a0.95 0.95 0 1 0 -1.9 0M51.0 636.3a0.95 0.95 0 1 0 1.9 0a0.95 0.95 0 1 0 -1.9 0M72.6 609.1a0.95 0.95 0 1 0 1.9 0a0.95 0.95 0 1 0 -1.9 0M55.6 645.6a0.95 0.95 0 1 0 1.9 0a0.95 0.95 0 1 0 -1.9 0M36.1 608.6a0.95 0.95 0 1 0 1.9 0a0.95 0.95 0 1 0 -1.9 0M67.6 642.7a0.95 0.95 0 1 0 1.9 0a0.95 0.95 0 1 0 -1.9 0M83.0 619.1a0.95 0.95 0 1 0 1.9 0a0.95 0.95 0 1 0 -1.9 0M49.2 606.1a0.95 0.95 0 1 0 1.9 0a0.95 0.95 0 1 0 -1.9 0M45.4 636.0a0.95 0.95 0 1 0 1.9 0a0.95 0.95 0 1 0 -1.9 0M38.8 623.3a0.95 0.95 0 1 0 1.9 0a0.95 0.95 0 1 0 -1.9 0M65.6 622.4a0.95 0.95 0 1 0 1.9 0a0.95 0.95 0 1 0 -1.9 0M84.1 621.5a0.95 0.95 0 1 0 1.9 0a0.95 0.95 0 1 0 -1.9 0M58.0 642.5a0.95 0.95 0 1 0 1.9 0a0.95 0.95 0 1 0 -1.9 0M72.4 601.6a0.95 0.95 0 1 0 1.9 0a0.95 0.95 0 1 0 -1.9 0M75.2 615.3a0.95 0.95 0 1 0 1.9 0a0.95 0.95 0 1 0 -1.9 0M58.2 616.2a0.95 0.95 0 1 0 1.9 0a0.95 0.95 0 1 0 -1.9 0M43.6 608.7a0.95 0.95 0 1 0 1.9 0a0.95 0.95 0 1 0 -1.9 0M64.0 626.0a0.95 0.95 0 1 0 1.9 0a0.95 0.95 0 1 0 -1.9 0M71.5 624.4a0.95 0.95 0 1 0 1.9 0a0.95 0.95 0 1 0 -1.9 0M82.0 609.0a0.95 0.95 0 1 0 1.9 0a0.95 0.95 0 1 0 -1.9 0M36.3 625.2a0.95 0.95 0 1 0 1.9 0a0.95 0.95 0 1 0 -1.9 0M81.7 630.9a0.95 0.95 0 1 0 1.9 0a0.95 0.95 0 1 0 -1.9 0M76.8 607.0a0.95 0.95 0 1 0 1.9 0a0.95 0.95 0 1 0 -1.9 0M57.7 614.4a0.95 0.95 0 1 0 1.9 0a0.95 0.95 0 1 0 -1.9 0M50.1 613.9a0.95 0.95 0 1 0 1.9 0a0.95 0.95 0 1 0 -1.9 0M57.3 629.1a0.95 0.95 0 1 0 1.9 0a0.95 0.95 0 1 0 -1.9 0M61.4 625.6a0.95 0.95 0 1 0 1.9 0a0.95 0.95 0 1 0 -1.9 0M48.4 631.8a0.95 0.95 0 1 0 1.9 0a0.95 0.95 0 1 0 -1.9 0M70.1 642.9a0.95 0.95 0 1 0 1.9 0a0.95 0.95 0 1 0 -1.9 0M63.0 608.3a0.95 0.95 0 1 0 1.9 0a0.95 0.95 0 1 0 -1.9 0M65.6 596.5a0.95 0.95 0 1 0 1.9 0a0.95 0.95 0 1 0 -1.9 0M71.9 610.3a0.95 0.95 0 1 0 1.9 0a0.95 0.95 0 1 0 -1.9 0M70.6 600.9a0.95 0.95 0 1 0 1.9 0a0.95 0.95 0 1 0 -1.9 0M63.9 602.9a0.95 0.95 0 1 0 1.9 0a0.95 0.95 0 1 0 -1.9 0M77.6 614.7a0.95 0.95 0 1 0 1.9 0a0.95 0.95 0 1 0 -1.9 0M59.8 636.4a0.95 0.95 0 1 0 1.9 0a0.95 0.95 0 1 0 -1.9 0M69.2 635.9a0.95 0.95 0 1 0 1.9 0a0.95 0.95 0 1 0 -1.9 0M74.7 612.5a0.95 0.95 0 1 0 1.9 0a0.95 0.95 0 1 0 -1.9 0M57.1 636.1a0.95 0.95 0 1 0 1.9 0a0.95 0.95 0 1 0 -1.9 0M44.9 620.0a0.95 0.95 0 1 0 1.9 0a0.95 0.95 0 1 0 -1.9 0M65.9 639.7a0.95 0.95 0 1 0 1.9 0a0.95 0.95 0 1 0 -1.9 0M44.5 629.7a0.95 0.95 0 1 0 1.9 0a0.95 0.95 0 1 0 -1.9 0M57.3 628.7a0.95 0.95 0 1 0 1.9 0a0.95 0.95 0 1 0 -1.9 0M66.2 644.9a0.95 0.95 0 1 0 1.9 0a0.95 0.95 0 1 0 -1.9 0M40.2 622.4a0.95 0.95 0 1 0 1.9 0a0.95 0.95 0 1 0 -1.9 0M57.5 607.8a0.95 0.95 0 1 0 1.9 0a0.95 0.95 0 1 0 -1.9 0M66.4 629.2a0.95 0.95 0 1 0 1.9 0a0.95 0.95 0 1 0 -1.9 0M43.4 643.5a0.95 0.95 0 1 0 1.9 0a0.95 0.95 0 1 0 -1.9 0M65.9 604.7a0.95 0.95 0 1 0 1.9 0a0.95 0.95 0 1 0 -1.9 0M48.3 640.4a0.95 0.95 0 1 0 1.9 0a0.95 0.95 0 1 0 -1.9 0M38.3 612.6a0.95 0.95 0 1 0 1.9 0a0.95 0.95 0 1 0 -1.9 0M54.1 645.3a0.95 0.95 0 1 0 1.9 0a0.95 0.95 0 1 0 -1.9 0M47.5 614.6a0.95 0.95 0 1 0 1.9 0a0.95 0.95 0 1 0 -1.9 0M42.5 638.0a0.95 0.95 0 1 0 1.9 0a0.95 0.95 0 1 0 -1.9 0M41.2 639.5a0.95 0.95 0 1 0 1.9 0a0.95 0.95 0 1 0 -1.9 0M49.8 623.4a0.95 0.95 0 1 0 1.9 0a0.95 0.95 0 1 0 -1.9 0M79.2 608.2a0.95 0.95 0 1 0 1.9 0a0.95 0.95 0 1 0 -1.9 0M60.1 628.1a0.95 0.95 0 1 0 1.9 0a0.95 0.95 0 1 0 -1.9 0M62.8 615.8a0.95 0.95 0 1 0 1.9 0a0.95 0.95 0 1 0 -1.9 0M66.5 610.8a0.95 0.95 0 1 0 1.9 0a0.95 0.95 0 1 0 -1.9 0M64.3 624.7a0.95 0.95 0 1 0 1.9 0a0.95 0.95 0 1 0 -1.9 0M75.0 602.3a0.95 0.95 0 1 0 1.9 0a0.95 0.95 0 1 0 -1.9 0M68.0 618.2a0.95 0.95 0 1 0 1.9 0a0.95 0.95 0 1 0 -1.9 0M59.9 638.6a0.95 0.95 0 1 0 1.9 0a0.95 0.95 0 1 0 -1.9 0M59.6 617.3a0.95 0.95 0 1 0 1.9 0a0.95 0.95 0 1 0 -1.9 0M66.5 601.8a0.95 0.95 0 1 0 1.9 0a0.95 0.95 0 1 0 -1.9 0M79.0 621.7a0.95 0.95 0 1 0 1.9 0a0.95 0.95 0 1 0 -1.9 0M33.5 619.8a0.95 0.95 0 1 0 1.9 0a0.95 0.95 0 1 0 -1.9 0M54.5 608.1a0.95 0.95 0 1 0 1.9 0a0.95 0.95 0 1 0 -1.9 0M56.9 630.1a0.95 0.95 0 1 0 1.9 0a0.95 0.95 0 1 0 -1.9 0M34.8 611.8a0.95 0.95 0 1 0 1.9 0a0.95 0.95 0 1 0 -1.9 0M71.0 612.4a0.95 0.95 0 1 0 1.9 0a0.95 0.95 0 1 0 -1.9 0M40.8 632.1a0.95 0.95 0 1 0 1.9 0a0.95 0.95 0 1 0 -1.9 0M55.1 631.3a0.95 0.95 0 1 0 1.9 0a0.95 0.95 0 1 0 -1.9 0M57.7 637.6a0.95 0.95 0 1 0 1.9 0a0.95 0.95 0 1 0 -1.9 0M59.2 646.4a0.95 0.95 0 1 0 1.9 0a0.95 0.95 0 1 0 -1.9 0M75.7 632.7a0.95 0.95 0 1 0 1.9 0a0.95 0.95 0 1 0 -1.9 0M58.0 626.7a0.95 0.95 0 1 0 1.9 0a0.95 0.95 0 1 0 -1.9 0M73.2 640.1a0.95 0.95 0 1 0 1.9 0a0.95 0.95 0 1 0 -1.9 0M57.1 646.7a0.95 0.95 0 1 0 1.9 0a0.95 0.95 0 1 0 -1.9 0M35.6 614.2a0.95 0.95 0 1 0 1.9 0a0.95 0.95 0 1 0 -1.9 0M62.4 637.9a0.95 0.95 0 1 0 1.9 0a0.95 0.95 0 1 0 -1.9 0M59.7 636.4a0.95 0.95 0 1 0 1.9 0a0.95 0.95 0 1 0 -1.9 0M51.6 630.3a0.95 0.95 0 1 0 1.9 0a0.95 0.95 0 1 0 -1.9 0M74.8 626.2a0.95 0.95 0 1 0 1.9 0a0.95 0.95 0 1 0 -1.9 0M37.4 635.0a0.95 0.95 0 1 0 1.9 0a0.95 0.95 0 1 0 -1.9 0M40.4 632.6a0.95 0.95 0 1 0 1.9 0a0.95 0.95 0 1 0 -1.9 0M69.2 643.6a0.95 0.95 0 1 0 1.9 0a0.95 0.95 0 1 0 -1.9 0M35.1 626.9a0.95 0.95 0 1 0 1.9 0a0.95 0.95 0 1 0 -1.9 0M52.9 627.3a0.95 0.95 0 1 0 1.9 0a0.95 0.95 0 1 0 -1.9 0M58.0 626.8a0.95 0.95 0 1 0 1.9 0a0.95 0.95 0 1 0 -1.9 0M38.5 630.8a0.95 0.95 0 1 0 1.9 0a0.95 0.95 0 1 0 -1.9 0M73.9 639.5a0.95 0.95 0 1 0 1.9 0a0.95 0.95 0 1 0 -1.9 0M66.5 612.4a0.95 0.95 0 1 0 1.9 0a0.95 0.95 0 1 0 -1.9 0M73.9 610.5a0.95 0.95 0 1 0 1.9 0a0.95 0.95 0 1 0 -1.9 0M65.3 627.6a0.95 0.95 0 1 0 1.9 0a0.95 0.95 0 1 0 -1.9 0M50.7 615.2a0.95 0.95 0 1 0 1.9 0a0.95 0.95 0 1 0 -1.9 0M70.4 607.8a0.95 0.95 0 1 0 1.9 0a0.95 0.95 0 1 0 -1.9 0M61.8 618.2a0.95 0.95 0 1 0 1.9 0a0.95 0.95 0 1 0 -1.9 0M47.9 628.4a0.95 0.95 0 1 0 1.9 0a0.95 0.95 0 1 0 -1.9 0M54.9 646.6a0.95 0.95 0 1 0 1.9 0a0.95 0.95 0 1 0 -1.9 0M66.1 618.5a0.95 0.95 0 1 0 1.9 0a0.95 0.95 0 1 0 -1.9 0M35.4 628.7a0.95 0.95 0 1 0 1.9 0a0.95 0.95 0 1 0 -1.9 0M75.2 612.7a0.95 0.95 0 1 0 1.9 0a0.95 0.95 0 1 0 -1.9 0M70.2 622.5a0.95 0.95 0 1 0 1.9 0a0.95 0.95 0 1 0 -1.9 0M48.2 619.7a0.95 0.95 0 1 0 1.9 0a0.95 0.95 0 1 0 -1.9 0M72.9 641.0a0.95 0.95 0 1 0 1.9 0a0.95 0.95 0 1 0 -1.9 0M77.9 613.6a0.95 0.95 0 1 0 1.9 0a0.95 0.95 0 1 0 -1.9 0M61.4 617.1a0.95 0.95 0 1 0 1.9 0a0.95 0.95 0 1 0 -1.9 0M78.6 632.7a0.95 0.95 0 1 0 1.9 0a0.95 0.95 0 1 0 -1.9 0M67.3 637.5a0.95 0.95 0 1 0 1.9 0a0.95 0.95 0 1 0 -1.9 0M50.2 617.7a0.95 0.95 0 1 0 1.9 0a0.95 0.95 0 1 0 -1.9 0M36.8 612.7a0.95 0.95 0 1 0 1.9 0a0.95 0.95 0 1 0 -1.9 0M42.1 633.2a0.95 0.95 0 1 0 1.9 0a0.95 0.95 0 1 0 -1.9 0M64.0 617.8a0.95 0.95 0 1 0 1.9 0a0.95 0.95 0 1 0 -1.9 0M37.7 617.9a0.95 0.95 0 1 0 1.9 0a0.95 0.95 0 1 0 -1.9 0M62.0 601.6a0.95 0.95 0 1 0 1.9 0a0.95 0.95 0 1 0 -1.9 0M55.0 609.2a0.95 0.95 0 1 0 1.9 0a0.95 0.95 0 1 0 -1.9 0M51.6 608.7a0.95 0.95 0 1 0 1.9 0a0.95 0.95 0 1 0 -1.9 0M51.1 626.0a0.95 0.95 0 1 0 1.9 0a0.95 0.95 0 1 0 -1.9 0M57.4 611.3a0.95 0.95 0 1 0 1.9 0a0.95 0.95 0 1 0 -1.9 0M57.7 597.2a0.95 0.95 0 1 0 1.9 0a0.95 0.95 0 1 0 -1.9 0M48.0 617.3a0.95 0.95 0 1 0 1.9 0a0.95 0.95 0 1 0 -1.9 0M73.2 617.0a0.95 0.95 0 1 0 1.9 0a0.95 0.95 0 1 0 -1.9 0M53.9 629.1a0.95 0.95 0 1 0 1.9 0a0.95 0.95 0 1 0 -1.9 0M46.3 623.5a0.95 0.95 0 1 0 1.9 0a0.95 0.95 0 1 0 -1.9 0M41.8 627.1a0.95 0.95 0 1 0 1.9 0a0.95 0.95 0 1 0 -1.9 0M60.7 629.1a0.95 0.95 0 1 0 1.9 0a0.95 0.95 0 1 0 -1.9 0M79.1 636.7a0.95 0.95 0 1 0 1.9 0a0.95 0.95 0 1 0 -1.9 0M83.4 617.8a0.95 0.95 0 1 0 1.9 0a0.95 0.95 0 1 0 -1.9 0M51.2 618.3a0.95 0.95 0 1 0 1.9 0a0.95 0.95 0 1 0 -1.9 0M75.3 610.0a0.95 0.95 0 1 0 1.9 0a0.95 0.95 0 1 0 -1.9 0M68.0 631.6a0.95 0.95 0 1 0 1.9 0a0.95 0.95 0 1 0 -1.9 0M33.4 618.9a0.95 0.95 0 1 0 1.9 0a0.95 0.95 0 1 0 -1.9 0M60.2 626.8a0.95 0.95 0 1 0 1.9 0a0.95 0.95 0 1 0 -1.9 0M42.9 636.2a0.95 0.95 0 1 0 1.9 0a0.95 0.95 0 1 0 -1.9 0M64.4 617.4a0.95 0.95 0 1 0 1.9 0a0.95 0.95 0 1 0 -1.9 0M50.7 627.2a0.95 0.95 0 1 0 1.9 0a0.95 0.95 0 1 0 -1.9 0M76.6 607.1a0.95 0.95 0 1 0 1.9 0a0.95 0.95 0 1 0 -1.9 0M59.7 619.0a0.95 0.95 0 1 0 1.9 0a0.95 0.95 0 1 0 -1.9 0M84.5 617.7a0.95 0.95 0 1 0 1.9 0a0.95 0.95 0 1 0 -1.9 0M51.5 633.0a0.95 0.95 0 1 0 1.9 0a0.95 0.95 0 1 0 -1.9 0M62.1 640.0a0.95 0.95 0 1 0 1.9 0a0.95 0.95 0 1 0 -1.9 0M61.7 639.7a0.95 0.95 0 1 0 1.9 0a0.95 0.95 0 1 0 -1.9 0M53.7 638.3a0.95 0.95 0 1 0 1.9 0a0.95 0.95 0 1 0 -1.9 0M55.6 613.2a0.95 0.95 0 1 0 1.9 0a0.95 0.95 0 1 0 -1.9 0M50.8 606.1a0.95 0.95 0 1 0 1.9 0a0.95 0.95 0 1 0 -1.9 0M58.6 645.5a0.95 0.95 0 1 0 1.9 0a0.95 0.95 0 1 0 -1.9 0M63.5 635.2a0.95 0.95 0 1 0 1.9 0a0.95 0.95 0 1 0 -1.9 0M41.0 613.7a0.95 0.95 0 1 0 1.9 0a0.95 0.95 0 1 0 -1.9 0M62.9 614.5a0.95 0.95 0 1 0 1.9 0a0.95 0.95 0 1 0 -1.9 0M38.2 629.3a0.95 0.95 0 1 0 1.9 0a0.95 0.95 0 1 0 -1.9 0M45.9 611.7a0.95 0.95 0 1 0 1.9 0a0.95 0.95 0 1 0 -1.9 0M60.9 646.6a0.95 0.95 0 1 0 1.9 0a0.95 0.95 0 1 0 -1.9 0M39.1 607.0a0.95 0.95 0 1 0 1.9 0a0.95 0.95 0 1 0 -1.9 0M80.3 608.7a0.95 0.95 0 1 0 1.9 0a0.95 0.95 0 1 0 -1.9 0M67.7 632.7a0.95 0.95 0 1 0 1.9 0a0.95 0.95 0 1 0 -1.9 0M72.7 643.3a0.95 0.95 0 1 0 1.9 0a0.95 0.95 0 1 0 -1.9 0M69.2 619.0a0.95 0.95 0 1 0 1.9 0a0.95 0.95 0 1 0 -1.9 0M36.7 622.2a0.95 0.95 0 1 0 1.9 0a0.95 0.95 0 1 0 -1.9 0M37.2 611.3a0.95 0.95 0 1 0 1.9 0a0.95 0.95 0 1 0 -1.9 0M33.1 621.6a0.95 0.95 0 1 0 1.9 0a0.95 0.95 0 1 0 -1.9 0M56.8 609.1a0.95 0.95 0 1 0 1.9 0a0.95 0.95 0 1 0 -1.9 0M70.4 618.4a0.95 0.95 0 1 0 1.9 0a0.95 0.95 0 1 0 -1.9 0M63.4 610.2a0.95 0.95 0 1 0 1.9 0a0.95 0.95 0 1 0 -1.9 0M53.3 617.1a0.95 0.95 0 1 0 1.9 0a0.95 0.95 0 1 0 -1.9 0M79.0 627.2a0.95 0.95 0 1 0 1.9 0a0.95 0.95 0 1 0 -1.9 0M62.2 622.5a0.95 0.95 0 1 0 1.9 0a0.95 0.95 0 1 0 -1.9 0M63.5 598.7a0.95 0.95 0 1 0 1.9 0a0.95 0.95 0 1 0 -1.9 0M44.8 612.9a0.95 0.95 0 1 0 1.9 0a0.95 0.95 0 1 0 -1.9 0M70.2 616.5a0.95 0.95 0 1 0 1.9 0a0.95 0.95 0 1 0 -1.9 0M71.8 614.9a0.95 0.95 0 1 0 1.9 0a0.95 0.95 0 1 0 -1.9 0M59.2 616.6a0.95 0.95 0 1 0 1.9 0a0.95 0.95 0 1 0 -1.9 0M74.5 600.9a0.95 0.95 0 1 0 1.9 0a0.95 0.95 0 1 0 -1.9 0M61.1 618.3a0.95 0.95 0 1 0 1.9 0a0.95 0.95 0 1 0 -1.9 0M65.4 606.3a0.95 0.95 0 1 0 1.9 0a0.95 0.95 0 1 0 -1.9 0M60.9 646.9a0.95 0.95 0 1 0 1.9 0a0.95 0.95 0 1 0 -1.9 0M84.1 618.0a0.95 0.95 0 1 0 1.9 0a0.95 0.95 0 1 0 -1.9 0M35.6 620.6a0.95 0.95 0 1 0 1.9 0a0.95 0.95 0 1 0 -1.9 0M72.4 635.8a0.95 0.95 0 1 0 1.9 0a0.95 0.95 0 1 0 -1.9 0M37.5 626.3a0.95 0.95 0 1 0 1.9 0a0.95 0.95 0 1 0 -1.9 0M59.7 609.9a0.95 0.95 0 1 0 1.9 0a0.95 0.95 0 1 0 -1.9 0M67.3 622.2a0.95 0.95 0 1 0 1.9 0a0.95 0.95 0 1 0 -1.9 0M43.7 643.4a0.95 0.95 0 1 0 1.9 0a0.95 0.95 0 1 0 -1.9 0M46.6 642.3a0.95 0.95 0 1 0 1.9 0a0.95 0.95 0 1 0 -1.9 0M64.4 618.5a0.95 0.95 0 1 0 1.9 0a0.95 0.95 0 1 0 -1.9 0M43.0 640.0a0.95 0.95 0 1 0 1.9 0a0.95 0.95 0 1 0 -1.9 0M63.5 643.6a0.95 0.95 0 1 0 1.9 0a0.95 0.95 0 1 0 -1.9 0M80.2 629.7a0.95 0.95 0 1 0 1.9 0a0.95 0.95 0 1 0 -1.9 0M49.7 626.3a0.95 0.95 0 1 0 1.9 0a0.95 0.95 0 1 0 -1.9 0M50.0 637.7a0.95 0.95 0 1 0 1.9 0a0.95 0.95 0 1 0 -1.9 0M61.5 640.5a0.95 0.95 0 1 0 1.9 0a0.95 0.95 0 1 0 -1.9 0M80.0 634.5a0.95 0.95 0 1 0 1.9 0a0.95 0.95 0 1 0 -1.9 0M42.3 611.9a0.95 0.95 0 1 0 1.9 0a0.95 0.95 0 1 0 -1.9 0M35.8 611.9a0.95 0.95 0 1 0 1.9 0a0.95 0.95 0 1 0 -1.9 0M39.8 610.0a0.95 0.95 0 1 0 1.9 0a0.95 0.95 0 1 0 -1.9 0M73.4 606.6a0.95 0.95 0 1 0 1.9 0a0.95 0.95 0 1 0 -1.9 0M47.1 618.5a0.95 0.95 0 1 0 1.9 0a0.95 0.95 0 1 0 -1.9 0M65.1 643.7a0.95 0.95 0 1 0 1.9 0a0.95 0.95 0 1 0 -1.9 0M84.7 619.2a0.95 0.95 0 1 0 1.9 0a0.95 0.95 0 1 0 -1.9 0M64.4 638.3a0.95 0.95 0 1 0 1.9 0a0.95 0.95 0 1 0 -1.9 0M76.3 616.2a0.95 0.95 0 1 0 1.9 0a0.95 0.95 0 1 0 -1.9 0M56.4 636.3a0.95 0.95 0 1 0 1.9 0a0.95 0.95 0 1 0 -1.9 0M45.2 610.2a0.95 0.95 0 1 0 1.9 0a0.95 0.95 0 1 0 -1.9 0M76.5 612.3a0.95 0.95 0 1 0 1.9 0a0.95 0.95 0 1 0 -1.9 0M56.2 647.5a0.95 0.95 0 1 0 1.9 0a0.95 0.95 0 1 0 -1.9 0M45.9 631.6a0.95 0.95 0 1 0 1.9 0a0.95 0.95 0 1 0 -1.9 0M50.7 603.2a0.95 0.95 0 1 0 1.9 0a0.95 0.95 0 1 0 -1.9 0M69.1 642.3a0.95 0.95 0 1 0 1.9 0a0.95 0.95 0 1 0 -1.9 0M53.5 644.2a0.95 0.95 0 1 0 1.9 0a0.95 0.95 0 1 0 -1.9 0M66.5 634.8a0.95 0.95 0 1 0 1.9 0a0.95 0.95 0 1 0 -1.9 0M61.3 599.2a0.95 0.95 0 1 0 1.9 0a0.95 0.95 0 1 0 -1.9 0M57.2 638.1a0.95 0.95 0 1 0 1.9 0a0.95 0.95 0 1 0 -1.9 0M42.2 614.8a0.95 0.95 0 1 0 1.9 0a0.95 0.95 0 1 0 -1.9 0M74.6 624.2a0.95 0.95 0 1 0 1.9 0a0.95 0.95 0 1 0 -1.9 0M41.8 622.7a0.95 0.95 0 1 0 1.9 0a0.95 0.95 0 1 0 -1.9 0M34.3 620.9a0.95 0.95 0 1 0 1.9 0a0.95 0.95 0 1 0 -1.9 0M47.2 623.4a0.95 0.95 0 1 0 1.9 0a0.95 0.95 0 1 0 -1.9 0M79.2 616.7a0.95 0.95 0 1 0 1.9 0a0.95 0.95 0 1 0 -1.9 0M73.1 602.1a0.95 0.95 0 1 0 1.9 0a0.95 0.95 0 1 0 -1.9 0M55.5 633.0a0.95 0.95 0 1 0 1.9 0a0.95 0.95 0 1 0 -1.9 0M56.8 603.8a0.95 0.95 0 1 0 1.9 0a0.95 0.95 0 1 0 -1.9 0M78.2 613.1a0.95 0.95 0 1 0 1.9 0a0.95 0.95 0 1 0 -1.9 0" stroke="#8e8e8e" stroke-width="0.33" fill="#fff"/>
<rect x="26.90" y="587.10" width="19.60" height="19.20" fill="#fff" stroke="#aaa" stroke-width="0.6"/>
<path d="M35.8 599.2h0M33.9 600.1h0M32.9 599.9h0M39.0 593.0h0M37.5 596.6h0M42.3 596.1h0M33.5 595.2h0M33.7 594.0h0M38.1 597.7h0M35.4 593.8h0M41.4 598.9h0M33.8 600.5h0M39.8 593.7h0M38.8 594.0h0M35.1 596.0h0M38.8 600.9h0M34.8 593.5h0M38.6 597.7h0M39.2 592.6h0M38.3 599.4h0M32.3 596.0h0M41.9 598.8h0M36.6 600.5h0M36.4 600.4h0M37.8 592.8h0M32.6 593.7h0M35.2 599.6h0M41.3 596.9h0M37.1 600.4h0M34.5 595.7h0M38.4 598.7h0M32.8 599.7h0M40.3 594.4h0M35.6 594.7h0M31.8 598.4h0M33.6 593.7h0M40.9 594.9h0M33.4 596.6h0M39.4 597.4h0M41.3 596.0h0M37.4 599.6h0M36.6 599.6h0M36.7 593.0h0M32.7 600.3h0M39.3 598.1h0M33.2 601.1h0M32.6 596.3h0M32.9 595.8h0M34.8 596.3h0M39.6 597.6h0M34.1 600.3h0M39.9 600.8h0M31.6 598.4h0M41.8 594.4h0M33.6 600.7h0M35.5 596.0h0M40.8 595.8h0M33.5 593.9h0M35.3 599.4h0M35.5 600.2h0M32.0 594.3h0M38.6 596.9h0M37.1 602.1h0M34.5 593.6h0M31.6 597.0h0M34.7 596.9h0M35.7 600.1h0M34.7 601.8h0M38.0 596.1h0M40.4 594.1h0M38.3 601.1h0M37.6 595.1h0M32.3 598.0h0M33.4 595.7h0M37.6 602.1h0M39.1 597.4h0M41.3 595.0h0M35.8 599.2h0M37.7 594.0h0M36.0 600.8h0M34.1 599.5h0M39.3 595.2h0M37.0 602.8h0M36.0 597.6h0M36.4 593.1h0M36.4 596.9h0M36.8 599.2h0M41.8 600.8h0M39.8 595.3h0M37.9 601.8h0M35.0 595.9h0M36.1 602.2h0M39.3 601.0h0M36.5 596.0h0M40.8 599.8h0M41.9 599.8h0M41.9 596.3h0M37.8 600.4h0M36.6 593.1h0M38.1 601.3h0M35.7 594.1h0M36.2 595.0h0M34.4 596.5h0M39.1 595.4h0M33.4 594.1h0M33.2 600.0h0M32.5 600.4h0M34.3 600.3h0M36.3 592.4h0M37.6 597.0h0M35.4 599.3h0M36.9 592.2h0M38.3 595.0h0M41.2 597.7h0M40.3 592.9h0M39.5 598.4h0M37.7 598.2h0M40.3 594.5h0M37.6 600.4h0" stroke="#6a9ee0" stroke-width="1.5" stroke-linecap="round" fill="none"/>
<path d="M48.3 592.5h0M50.5 599.1h0M52.5 597.3h0M48.5 595.3h0M55.9 595.5h0M55.1 591.7h0M47.6 597.4h0M55.9 598.4h0M51.0 592.1h0M50.6 599.3h0M49.2 598.2h0M54.9 595.9h0M53.3 597.8h0M53.4 592.7h0M50.8 592.8h0M51.5 599.9h0M51.8 591.2h0M52.3 598.2h0M52.0 597.2h0M54.1 591.0h0M50.5 594.2h0M52.4 599.6h0M56.1 596.4h0M52.8 595.3h0M49.8 594.1h0M54.7 592.4h0M56.0 595.3h0M53.5 598.3h0M54.0 591.8h0M55.3 593.5h0M52.1 591.3h0M50.7 592.1h0M51.2 591.3h0M49.6 597.9h0M53.3 595.1h0M56.6 594.1h0M54.7 596.9h0M55.2 594.1h0M48.6 593.5h0M49.8 594.7h0M52.0 599.1h0M50.0 595.7h0M56.3 595.3h0M55.0 591.2h0M52.5 591.1h0M50.7 597.3h0M52.6 592.3h0M52.6 597.6h0M54.7 599.2h0M51.3 595.0h0M53.9 595.4h0M48.8 593.1h0M49.6 592.4h0M48.4 594.2h0M49.7 598.6h0M50.7 599.7h0M55.6 593.1h0M49.0 595.9h0M52.2 595.6h0M48.7 595.5h0M55.1 594.7h0M50.1 599.3h0M52.0 591.9h0M55.4 594.5h0M55.5 596.3h0M53.2 591.2h0M52.7 595.2h0M52.2 590.7h0M56.4 595.2h0M51.4 598.7h0M56.1 597.3h0M56.6 593.8h0M48.5 593.8h0M53.5 598.0h0M54.8 596.5h0M53.5 596.8h0M53.2 590.6h0M53.0 593.1h0M48.2 596.3h0M55.9 593.2h0M54.2 596.4h0M54.3 598.8h0M54.5 591.3h0M53.7 593.8h0M51.7 596.9h0M49.2 596.5h0M56.0 597.2h0M51.5 597.8h0M48.3 592.0h0M49.2 591.7h0M52.0 595.7h0M53.9 594.7h0M53.1 599.4h0M54.8 593.0h0M48.7 597.6h0M56.0 593.8h0M48.9 595.8h0M54.2 593.9h0M51.6 591.5h0M48.9 592.6h0M55.1 591.7h0M49.5 594.9h0" stroke="#2e5cb8" stroke-width="1.5" stroke-linecap="round" fill="none"/>
<path d="M57.4 584.6h0M60.0 583.0h0M58.3 585.7h0M58.3 584.5h0M56.7 586.1h0M57.0 583.8h0M54.5 583.2h0M56.6 582.0h0M57.8 585.0h0M55.9 585.5h0M61.2 584.2h0M58.6 582.3h0M54.3 582.7h0M52.6 583.2h0M53.9 583.0h0M54.6 583.5h0M59.3 584.3h0M52.6 583.2h0M51.9 583.0h0M53.5 582.6h0M58.3 583.8h0M56.4 583.4h0M57.1 585.3h0M54.6 582.1h0M56.4 583.5h0M59.7 582.3h0M57.1 583.8h0M54.7 585.7h0M58.8 582.5h0M56.6 584.5h0M57.7 585.0h0M56.3 583.7h0M56.7 582.9h0M56.5 581.9h0M55.5 585.3h0M54.8 582.3h0M53.3 584.9h0M58.0 583.1h0M58.0 585.1h0M55.9 585.4h0M59.3 584.4h0M56.8 585.5h0M58.0 585.0h0M54.2 584.4h0M57.4 582.7h0M53.3 586.0h0M59.6 584.3h0M55.7 585.8h0M60.0 582.4h0M59.7 585.3h0M53.7 582.3h0" stroke="#7a4cc0" stroke-width="1.5" stroke-linecap="round" fill="none"/>
<path d="M62.6 590.5h0M65.0 589.2h0M65.5 589.5h0M61.1 587.6h0M62.5 587.9h0M60.9 590.7h0M64.3 591.5h0M60.7 590.3h0M64.7 591.8h0M65.3 590.5h0M63.3 588.8h0M61.1 588.2h0M62.6 590.6h0M62.9 589.4h0M61.9 588.5h0M64.5 590.5h0M64.1 591.9h0M60.9 587.7h0M64.4 589.4h0M64.3 589.1h0M61.9 589.8h0M59.9 588.7h0M60.6 588.8h0M59.5 588.8h0M59.7 590.1h0M61.8 588.4h0M62.6 592.4h0M63.1 592.2h0M61.3 588.9h0M64.2 591.5h0M61.3 589.2h0M63.2 588.6h0M60.8 590.0h0M62.7 591.6h0M60.7 591.2h0M61.5 591.9h0M62.2 590.6h0" stroke="#8454c8" stroke-width="1.5" stroke-linecap="round" fill="none"/>
<path d="M87.5 600.6h0M91.9 601.9h0M87.9 600.6h0M92.1 602.7h0M81.5 596.2h0M91.3 598.7h0M92.0 596.2h0M91.3 596.3h0M76.5 594.7h0M82.6 593.8h0M79.0 592.8h0M79.0 592.9h0M95.5 598.3h0M93.6 603.2h0M86.3 596.5h0M84.0 595.0h0M86.5 600.7h0M95.0 601.5h0M90.2 598.3h0M77.6 596.3h0M94.3 597.1h0M90.4 595.0h0M88.3 594.5h0M92.8 601.4h0M79.3 593.5h0M95.1 599.1h0M93.7 593.9h0M92.0 595.4h0M85.2 596.6h0M86.9 599.1h0M87.3 594.0h0M88.8 595.3h0M87.8 596.0h0M85.6 599.9h0M94.9 599.5h0M93.3 596.3h0M85.5 594.8h0M93.6 595.5h0M84.5 597.3h0M90.9 594.1h0M93.3 599.9h0M96.6 598.0h0M92.7 599.8h0M96.7 600.8h0M80.8 593.7h0M84.2 595.0h0M80.5 598.3h0M86.5 596.6h0M92.2 593.7h0M85.2 597.1h0M88.9 602.0h0M88.5 596.1h0M84.7 598.6h0M83.6 596.2h0M78.1 596.5h0M92.4 597.5h0M89.1 601.7h0M94.0 596.9h0M91.8 593.6h0M85.7 593.4h0M91.9 597.3h0M77.4 596.0h0M88.7 594.5h0M82.8 597.2h0M93.8 596.0h0M83.4 592.5h0M79.8 596.9h0M77.4 596.3h0M83.3 595.7h0M81.5 594.2h0M85.1 592.8h0M85.8 594.0h0M86.3 593.7h0M94.6 597.8h0M89.7 594.6h0M76.4 594.8h0M81.9 594.1h0M93.3 595.3h0M87.7 598.0h0M90.5 595.8h0M94.6 594.5h0M77.2 594.2h0M79.2 595.2h0M85.4 593.6h0M85.9 597.3h0M88.9 597.6h0M92.4 599.1h0M96.0 597.8h0M83.5 595.6h0M75.8 594.3h0M79.7 594.9h0M92.8 593.5h0M79.0 592.6h0M89.9 598.1h0M86.2 595.8h0M83.5 593.1h0M90.6 595.0h0M86.7 597.8h0M84.1 594.5h0M87.7 596.0h0M88.7 601.1h0M92.5 598.9h0M88.4 601.7h0M91.5 601.3h0M90.9 593.9h0M80.2 595.5h0M93.2 599.1h0M87.6 594.9h0M90.1 597.4h0M92.4 595.2h0M93.4 597.9h0M76.4 595.8h0M90.7 593.7h0M93.5 602.7h0M88.8 600.3h0M84.3 595.1h0M78.5 596.4h0M88.2 599.0h0M93.4 601.6h0M79.0 596.7h0M79.5 597.8h0M80.2 593.3h0M84.7 594.9h0M94.4 600.1h0M87.7 593.1h0M89.4 601.6h0M93.5 600.3h0M82.2 592.9h0M89.4 598.4h0M92.2 600.6h0M79.1 596.2h0M77.0 594.9h0M85.4 598.3h0M85.9 593.8h0M91.5 598.8h0M90.2 599.9h0M87.7 599.6h0M87.0 595.7h0M84.2 598.0h0M85.4 594.2h0M85.2 594.1h0M77.9 597.2h0M91.3 600.6h0M76.9 593.6h0M85.8 598.9h0M87.6 598.0h0M95.7 596.2h0M95.1 596.4h0M85.2 598.5h0M86.3 593.5h0M96.4 598.6h0M92.5 599.2h0M88.6 593.8h0M90.8 597.7h0M80.8 594.9h0M90.5 595.2h0M78.8 595.5h0M84.5 593.0h0M81.6 597.9h0M85.3 595.7h0M80.1 592.0h0M85.0 595.8h0M79.5 593.0h0M86.7 600.3h0M83.7 597.7h0M88.7 593.8h0M93.5 601.8h0M76.0 594.0h0M94.7 596.1h0M95.6 598.3h0M86.3 597.0h0M84.4 597.4h0M77.1 594.3h0M92.6 602.4h0M83.6 593.2h0M83.8 599.0h0M90.2 597.9h0M79.8 597.0h0M95.6 600.2h0M83.3 598.0h0M96.2 597.4h0M88.9 599.3h0M85.8 598.2h0M91.1 597.5h0M92.5 595.4h0M93.3 598.0h0M92.8 598.0h0M93.8 595.6h0M95.3 600.9h0M76.9 595.1h0M77.6 594.4h0M84.0 594.7h0M88.0 596.4h0M92.5 599.9h0M87.1 595.3h0M86.8 594.3h0M80.0 594.6h0M89.9 599.9h0M87.0 594.0h0M79.7 593.4h0M82.0 598.0h0M94.9 597.3h0M87.9 593.9h0M90.4 594.3h0" stroke="#d42a2a" stroke-width="1.5" stroke-linecap="round" fill="none"/>
<path d="M38.1 638.4h0M28.7 634.3h0M31.9 629.5h0M33.8 629.9h0M38.7 641.5h0M30.4 636.5h0M26.5 627.7h0M27.6 633.6h0M30.0 638.8h0M27.3 630.4h0M31.6 624.1h0M28.0 627.6h0M28.5 628.0h0M28.5 619.3h0M27.3 615.3h0M28.5 624.2h0M27.3 629.6h0M27.0 617.5h0M29.2 621.5h0M34.1 639.1h0M29.6 627.7h0M29.6 624.2h0M29.1 636.8h0M32.2 616.5h0M37.4 639.4h0M29.7 626.3h0M33.0 623.7h0M31.7 617.6h0M30.6 616.7h0M31.6 639.1h0M27.1 628.6h0M35.0 631.5h0M33.3 640.2h0M37.0 632.7h0M36.1 633.7h0M32.1 627.5h0M33.2 625.6h0M31.8 629.6h0M36.5 634.5h0M24.9 618.5h0M30.9 626.0h0M31.3 628.3h0M35.3 634.8h0M39.1 636.6h0M39.3 640.4h0M25.8 622.0h0M31.8 617.8h0M37.0 634.4h0M30.0 618.6h0M32.3 634.0h0M26.9 629.2h0M39.2 635.6h0M30.9 623.3h0M26.3 626.2h0M29.7 632.3h0M30.8 617.0h0M36.0 640.1h0M25.6 619.2h0M35.9 640.4h0M32.6 641.2h0M26.3 621.5h0M29.4 633.0h0M30.7 632.2h0M27.2 625.2h0M32.5 627.0h0M37.5 636.9h0M41.2 635.6h0M29.5 636.7h0M32.6 620.0h0M29.0 616.5h0M33.1 633.8h0M30.3 616.8h0M34.5 634.7h0M31.5 626.4h0M27.5 617.6h0M26.5 627.6h0M35.9 640.2h0M37.0 636.9h0M39.5 635.3h0M38.9 638.1h0M36.1 640.3h0M27.7 633.0h0M27.3 623.2h0M30.6 634.9h0M28.4 614.3h0M40.5 637.2h0M38.0 637.4h0M33.4 639.1h0M37.5 635.8h0M31.5 632.9h0M32.8 638.0h0M31.1 619.8h0M33.8 640.5h0M25.2 621.1h0M31.7 619.9h0M33.1 635.4h0M31.7 637.7h0M30.8 625.3h0M32.8 633.7h0M33.4 622.9h0M29.7 628.2h0M32.5 624.8h0M31.9 634.3h0M28.4 617.2h0M35.5 641.8h0M36.3 632.0h0M39.8 640.1h0M28.3 616.6h0M39.2 639.6h0M40.4 637.7h0M26.0 619.3h0M39.5 633.2h0M36.0 640.9h0M28.5 633.9h0M30.5 614.4h0M27.7 632.1h0M30.7 617.0h0M35.7 632.0h0M31.6 631.6h0M38.0 632.5h0M31.6 622.8h0M38.6 635.7h0M34.3 636.1h0M37.7 634.4h0M28.6 616.4h0M37.1 637.9h0M26.1 619.5h0M27.8 616.8h0M35.7 636.8h0M33.2 634.0h0M34.6 634.5h0M29.6 630.2h0M29.7 631.3h0M38.4 642.0h0M25.9 618.9h0M26.5 627.2h0M32.6 621.8h0M39.4 637.6h0M28.0 631.0h0M35.1 636.6h0M29.9 620.2h0M40.1 635.0h0M29.7 626.3h0M29.8 622.5h0M29.2 614.5h0M32.3 639.7h0M31.1 622.1h0M33.9 637.9h0M33.7 640.0h0M33.9 640.9h0M38.2 639.5h0M36.8 636.3h0M32.7 627.2h0M32.4 625.6h0M29.1 627.0h0M38.8 634.7h0M30.7 615.8h0M25.4 624.1h0M27.8 628.0h0M29.8 629.0h0M39.9 639.4h0M34.8 639.4h0M31.0 626.8h0M29.4 614.9h0M32.0 631.1h0M32.5 639.2h0M28.0 624.1h0M28.0 624.5h0M36.8 631.0h0M33.7 641.7h0M29.8 619.0h0M33.7 631.3h0M25.1 618.3h0M35.1 640.6h0M39.1 638.0h0M40.2 632.6h0M24.8 615.5h0M29.3 619.9h0M25.1 623.1h0M40.5 634.0h0M26.7 627.0h0M26.2 617.1h0M25.5 616.4h0M36.5 639.9h0M31.2 630.0h0M31.1 617.8h0M26.8 629.9h0M32.9 641.9h0M35.8 638.5h0M28.6 635.3h0M34.0 631.2h0M31.2 616.7h0M28.6 616.2h0M29.7 619.4h0M30.2 632.0h0M40.1 633.2h0M29.4 638.0h0M35.4 630.8h0M32.3 631.5h0M27.8 616.3h0M29.7 627.9h0M31.4 617.6h0M29.1 628.4h0M28.0 622.9h0M25.9 621.3h0M40.6 635.7h0M38.7 641.2h0M30.8 620.9h0M31.9 625.1h0M39.9 632.1h0M27.4 614.4h0M26.6 629.4h0M25.1 619.6h0M38.2 633.8h0M39.8 634.5h0M36.6 640.6h0M24.7 620.9h0M33.0 634.7h0M31.9 627.5h0M39.0 639.4h0M27.3 618.6h0M31.6 636.0h0M30.7 630.1h0M33.3 638.3h0M33.3 625.5h0M31.6 630.0h0M29.4 636.5h0M34.1 639.4h0M30.7 634.3h0M39.1 635.3h0M28.9 619.9h0M31.6 620.5h0M26.8 618.9h0M34.1 641.1h0M28.2 622.9h0M26.2 614.4h0M35.8 637.8h0M39.9 633.0h0" stroke="#2e9a3e" stroke-width="1.5" stroke-linecap="round" fill="none"/>
<path d="M97.9 623.8h0M98.8 622.3h0M98.0 621.6h0M97.6 620.3h0M98.2 622.7h0M96.7 621.6h0M98.4 621.9h0M95.9 621.2h0M97.0 623.2h0M98.7 622.5h0M98.0 622.6h0M96.4 621.8h0M96.9 620.6h0M98.9 623.3h0M98.3 623.2h0M97.5 624.2h0M98.0 621.2h0M98.3 622.1h0M96.4 622.8h0M98.1 621.4h0" stroke="#1e7a32" stroke-width="1.5" stroke-linecap="round" fill="none"/>
<path d="M80.8 645.1h0M81.6 644.6h0M76.3 648.0h0M80.4 646.1h0M79.3 647.6h0M75.1 648.2h0M84.5 641.8h0M82.7 643.8h0M81.5 642.6h0M82.1 643.4h0M83.9 645.1h0M83.7 641.3h0M82.4 646.0h0M80.0 646.2h0M83.1 642.4h0M82.4 646.6h0M82.3 643.5h0M72.7 647.7h0M81.2 643.0h0M72.6 647.7h0M80.4 643.7h0M80.6 645.2h0M81.8 646.6h0M74.0 647.4h0M82.8 643.3h0M74.1 646.7h0M76.8 645.1h0M80.6 643.2h0M84.6 644.3h0M78.8 644.1h0M82.6 645.2h0M77.6 645.3h0M81.5 646.6h0M74.9 646.6h0M78.6 646.7h0M83.5 642.4h0M72.1 648.9h0M72.5 649.6h0M76.9 648.7h0M83.7 645.0h0M75.8 649.2h0M78.1 647.7h0M79.9 647.0h0M82.8 641.8h0M77.0 646.9h0M80.1 647.6h0M85.4 642.5h0M75.5 648.3h0M73.0 650.0h0M84.2 642.5h0M74.5 646.7h0M73.5 649.8h0M83.7 641.4h0M83.8 643.3h0M83.7 645.3h0M73.6 647.3h0M72.1 647.6h0M76.1 649.2h0M81.3 645.7h0M84.9 643.2h0M77.6 646.4h0M75.1 645.9h0M78.9 646.0h0M83.0 645.3h0M76.4 647.9h0M81.8 644.9h0M71.6 648.0h0M85.6 642.3h0" stroke="#3cc4d8" stroke-width="1.5" stroke-linecap="round" fill="none"/>
<text x="14.30" y="577.20" font-size="7.5" fill="#6a7ccc" stroke="#6a7ccc" stroke-width="0.16">CD8 T</text>
<text x="14.30" y="586.50" font-size="7.5" fill="#6a7ccc" stroke="#6a7ccc" stroke-width="0.16">cells</text>
<text x="111.30" y="650.00" font-size="7.5" fill="#1e1e1e" stroke="#1e1e1e" stroke-width="0.16" text-anchor="middle" transform="rotate(90 111.30 650.00)">t-SNE_2</text>
<text x="105.40" y="671.60" font-size="7.5" fill="#1e1e1e" stroke="#1e1e1e" stroke-width="0.16" text-anchor="end">t-SNE_1</text>
<rect x="123.70" y="565.40" width="41.30" height="41.20" fill="#fff" stroke="#8c8c8c" stroke-width="0.9"/>
<text x="162.80" y="573.80" font-size="7.5" fill="#1e1e1e" stroke="#1e1e1e" stroke-width="0.16" text-anchor="end">IFN&#947;</text>
<path d="M141.7,578.4 L144.7,577.6 L147.7,577.9 L150.7,579.4 L152.2,582.4 L151.7,586.4 L152.2,589.4 L150.7,592.4 L147.7,593.9 L144.7,594.9 L142.7,596.9 L141.2,596.9 L140.7,594.9 L137.7,594.4 L134.7,593.4 L134.0,591.4 L135.7,589.9 L138.7,589.4 L139.2,586.4 L138.7,582.4 L139.7,579.9 Z" fill="#1f6292" stroke="none" stroke-width="0.8"/>
<path d="M148.0 591.2h0M147.3 586.0h0M145.8 580.0h0M148.1 588.5h0M150.6 582.2h0M145.1 591.4h0M148.1 587.4h0M143.6 584.2h0M149.5 584.6h0M142.8 592.3h0M145.9 582.5h0M144.6 580.4h0M147.6 588.6h0M151.0 585.3h0M147.0 589.5h0M146.0 586.8h0M145.7 580.0h0M142.3 581.3h0M144.6 582.4h0M146.9 581.3h0M146.8 587.4h0M142.1 581.7h0M144.0 582.8h0M145.4 589.8h0M144.5 581.9h0M146.5 578.4h0M144.5 582.1h0M138.9 590.5h0M141.7 585.0h0M151.3 582.6h0M146.0 579.4h0M140.4 580.9h0M144.6 588.7h0M147.1 583.2h0M141.2 583.9h0M150.7 591.8h0M143.1 579.5h0M140.1 590.9h0M146.7 587.4h0M148.5 589.7h0M151.6 586.8h0M145.9 589.8h0M143.6 584.1h0M143.2 585.2h0M148.4 592.0h0M141.7 586.3h0M147.1 583.1h0M149.9 586.7h0M137.7 590.0h0M141.3 579.7h0M147.9 582.2h0M142.6 580.9h0M141.1 585.1h0M146.9 590.7h0M148.2 578.2h0M147.6 578.0h0M147.7 584.7h0M151.4 584.4h0M145.6 592.2h0M141.5 586.1h0M147.8 584.5h0M143.5 585.3h0M147.6 588.7h0M139.2 590.0h0M151.0 582.7h0M144.2 589.0h0M148.4 589.6h0M139.2 585.5h0M141.7 588.8h0M147.0 588.2h0M139.6 585.2h0M142.3 588.8h0M147.5 588.6h0M147.5 577.9h0M144.1 579.6h0M148.1 579.5h0M139.3 589.4h0M143.8 588.2h0M147.8 591.9h0M144.3 579.6h0M145.3 592.0h0M150.0 579.5h0M149.8 583.7h0M147.6 591.9h0M144.2 578.8h0M146.1 591.4h0M143.6 588.4h0M148.0 593.5h0M145.8 591.7h0M143.3 580.8h0M148.6 578.5h0M142.1 585.8h0M140.8 581.3h0M140.0 581.3h0M143.0 587.6h0M146.1 586.9h0M149.1 591.3h0M142.0 590.9h0M139.4 590.9h0M148.9 588.6h0M140.6 587.4h0M152.1 582.4h0M149.8 579.5h0M150.4 590.8h0M143.4 592.0h0M151.4 583.1h0M147.3 580.1h0M145.0 581.3h0M141.4 585.6h0M143.9 588.0h0M146.1 591.9h0M143.3 592.8h0M148.1 580.1h0M142.1 590.6h0M147.0 586.2h0M144.9 580.4h0M148.8 583.2h0M143.6 579.1h0M139.0 588.5h0M142.3 587.3h0M144.3 579.7h0M146.1 590.0h0M147.6 581.2h0M148.4 581.2h0" stroke="#1d5a8e" stroke-width="1.2" stroke-linecap="round" fill="none"/>
<path d="M148.6 587.9h0M151.2 584.1h0M148.9 580.7h0M139.3 589.0h0M147.0 592.4h0M145.3 590.2h0M143.6 591.5h0M143.9 591.1h0M141.3 588.0h0M138.9 582.8h0M140.4 590.6h0M142.1 591.7h0M141.2 586.4h0M147.8 588.9h0M150.2 579.6h0M148.2 584.3h0M143.3 581.5h0M149.5 589.0h0M147.0 579.2h0M142.1 592.2h0M149.6 581.0h0M145.2 584.7h0M148.1 587.6h0M148.4 584.5h0M150.9 582.6h0M145.2 582.4h0M149.7 592.0h0M143.7 592.1h0M146.7 579.5h0M146.4 586.3h0M139.6 587.7h0M146.2 582.8h0M139.3 588.1h0M150.3 584.3h0M142.0 587.4h0M137.1 589.8h0M150.5 583.4h0M144.5 584.1h0M144.2 586.9h0M149.8 580.0h0M142.3 589.9h0M144.0 588.6h0M147.8 578.8h0M143.1 578.6h0M142.7 590.5h0M144.4 583.6h0M146.9 588.9h0M144.8 591.7h0M149.7 588.2h0M139.5 587.1h0M140.6 591.4h0M144.7 590.7h0M146.3 578.9h0M146.5 587.6h0M151.2 582.6h0M139.1 590.4h0M149.0 589.3h0M142.9 590.1h0M141.5 580.8h0M139.5 583.8h0M142.3 586.3h0M147.5 587.0h0M139.5 580.5h0M151.2 589.3h0M146.9 590.5h0M147.9 579.3h0M142.3 588.8h0" stroke="#246c9c" stroke-width="1.2" stroke-linecap="round" fill="none"/>
<path d="M139.6 592.4h0M140.4 593.1h0M137.0 591.9h0M139.1 592.5h0M134.8 590.8h0M143.6 593.3h0M134.8 592.7h0M142.5 594.1h0M145.0 594.8h0M140.4 594.6h0M142.2 594.0h0M144.8 594.7h0M137.7 592.5h0" stroke="#1f6f96" stroke-width="1.2" stroke-linecap="round" fill="none"/>
<path d="M144.1 595.0h0M137.5 593.8h0M137.0 592.1h0M136.9 593.0h0M141.5 595.6h0M136.9 593.9h0M139.5 594.3h0M139.1 591.9h0M139.6 594.6h0M140.2 592.4h0M140.2 592.5h0M144.1 594.4h0M144.2 593.8h0M136.6 593.7h0M134.9 591.2h0M143.4 595.6h0M134.4 592.1h0M140.7 594.7h0M137.4 593.9h0M141.1 593.2h0M140.6 593.1h0M140.0 592.9h0" stroke="#2f9a82" stroke-width="1.2" stroke-linecap="round" fill="none"/>
<path d="M142.2 589.9h0M150.4 580.0h0M143.3 587.1h0M146.3 594.2h0M146.9 579.9h0M142.6 584.2h0M141.3 582.6h0M145.7 589.7h0M144.6 579.7h0M147.4 584.9h0M143.2 588.2h0M139.7 581.5h0M144.8 586.8h0M150.6 581.1h0M145.6 587.8h0M141.8 585.0h0M143.4 580.7h0M146.9 590.6h0M149.7 592.1h0M145.3 582.0h0M147.4 591.3h0M140.1 590.0h0M144.6 584.0h0M147.4 586.3h0M151.6 588.0h0M150.5 588.6h0M142.1 589.7h0M140.9 587.8h0M145.4 581.6h0M150.0 583.9h0M143.4 591.4h0M146.1 593.7h0M144.9 588.9h0M144.1 585.5h0" stroke="#2a8c90" stroke-width="1.2" stroke-linecap="round" fill="none"/>
<path d="M143.5,575.6 L144.7,574.8 L146.1,575.6 L145.5,577.0 L143.9,577.0 Z" fill="#1f6292" stroke="#1f6292" stroke-width="0.6"/>
<rect x="166.60" y="565.40" width="41.20" height="41.20" fill="#fff" stroke="#8c8c8c" stroke-width="0.9"/>
<text x="205.60" y="573.80" font-size="7.5" fill="#1e1e1e" stroke="#1e1e1e" stroke-width="0.16" text-anchor="end">PD-1</text>
<linearGradient id="g01" x1="0.7" y1="0" x2="0.3" y2="1"><stop offset="0.3" stop-color="#1f6898"/><stop offset="0.5" stop-color="#9ccc52"/></linearGradient>
<path d="M184.6,578.4 L187.6,577.6 L190.6,577.9 L193.6,579.4 L195.1,582.4 L194.6,586.4 L195.1,589.4 L193.6,592.4 L190.6,593.9 L187.6,594.9 L185.6,596.9 L184.1,596.9 L183.6,594.9 L180.6,594.4 L177.6,593.4 L176.9,591.4 L178.6,589.9 L181.6,589.4 L182.1,586.4 L181.6,582.4 L182.6,579.9 Z" fill="url(#g01)" stroke="none" stroke-width="0.8"/>
<path d="M187.5 581.4h0M193.1 580.3h0M191.5 582.2h0M190.2 580.4h0M189.1 579.4h0M185.0 578.8h0M190.2 579.3h0M191.3 580.9h0M193.0 580.7h0M193.7 581.6h0M193.0 580.4h0M191.1 582.0h0M192.6 584.1h0M189.8 583.0h0M191.1 581.1h0M186.8 579.8h0M191.5 582.5h0M190.9 578.3h0M189.8 582.4h0M193.7 581.0h0M189.2 582.3h0M191.1 580.2h0M193.8 579.9h0M186.6 581.3h0M188.9 580.7h0M193.1 581.8h0" stroke="#3aa082" stroke-width="1.2" stroke-linecap="round" fill="none"/>
<path d="M185.4 590.4h0M183.6 586.7h0M184.3 581.6h0M184.7 583.5h0M178.9 593.5h0M193.0 585.2h0M184.3 590.5h0M186.6 584.3h0M177.3 591.2h0M190.2 584.6h0M188.8 586.8h0M186.0 594.5h0M189.5 590.8h0M189.7 592.5h0M191.6 592.9h0M191.3 591.8h0M178.6 590.2h0M188.4 594.1h0M185.3 588.6h0M181.9 590.3h0M187.0 587.9h0M193.2 585.3h0M183.6 586.2h0M189.4 584.6h0M182.7 590.6h0M184.8 586.4h0M190.4 586.1h0M181.7 589.9h0M191.4 584.1h0M189.9 585.7h0M186.2 582.0h0M193.3 588.7h0M193.2 586.7h0M189.3 584.7h0M188.9 584.8h0M190.2 590.8h0M182.1 585.3h0M184.6 594.2h0M189.6 583.1h0M188.3 589.6h0M178.7 592.3h0M192.4 591.4h0M186.2 596.1h0M190.4 592.3h0M187.1 583.1h0M187.2 594.6h0M181.4 594.2h0M182.7 592.5h0M182.3 583.1h0M187.7 585.4h0M189.6 586.9h0M179.6 593.2h0M190.7 589.9h0M182.7 585.7h0M184.9 591.1h0M185.8 593.1h0M183.6 588.6h0M186.3 583.1h0M187.3 592.0h0M183.7 593.5h0M189.7 587.8h0M182.1 588.8h0M178.7 593.5h0M187.4 582.6h0M182.0 592.1h0M189.4 589.5h0M189.0 591.5h0M184.6 584.9h0M191.8 589.4h0M184.3 587.9h0M190.1 589.2h0M189.9 589.6h0M189.9 590.1h0M181.9 593.2h0M191.0 584.0h0M184.6 591.9h0M189.0 588.2h0M184.4 581.6h0M187.7 591.0h0M193.7 585.8h0M189.0 588.0h0M185.3 589.7h0M181.9 588.8h0M184.3 588.4h0M192.9 589.5h0M193.6 589.1h0M191.4 588.4h0M186.9 585.7h0M182.5 587.6h0M182.7 584.8h0M182.7 587.4h0M193.0 586.1h0M187.3 592.6h0M185.6 590.9h0M192.8 589.6h0M192.1 592.7h0M184.5 582.1h0M185.8 582.6h0M183.6 593.0h0M188.0 584.2h0M193.3 587.1h0M192.1 586.4h0M190.4 584.6h0" stroke="#b6d44a" stroke-width="1.2" stroke-linecap="round" fill="none"/>
<path d="M182.2 591.0h0M178.5 592.5h0M183.8 585.8h0M193.1 586.2h0M182.0 593.5h0M181.7 582.2h0M188.0 591.4h0M195.0 589.2h0M182.1 587.8h0M179.7 594.1h0M189.0 590.0h0M180.3 590.9h0M191.4 591.6h0M193.0 586.4h0M190.4 588.9h0M189.9 587.8h0M188.1 590.9h0M183.9 591.4h0M192.1 591.5h0M192.4 590.6h0M185.9 588.4h0M185.3 583.0h0M191.6 590.8h0M186.9 591.5h0M185.6 595.8h0M181.5 594.1h0M190.6 589.5h0M190.3 585.4h0M185.6 583.9h0M185.9 593.6h0M185.9 589.4h0M183.6 594.6h0M180.8 593.1h0M183.3 584.9h0M188.1 586.3h0M191.6 593.1h0" stroke="#cfe060" stroke-width="1.2" stroke-linecap="round" fill="none"/>
<path d="M182.8 589.9h0M189.3 590.4h0M179.6 590.8h0M182.6 594.4h0M186.9 590.9h0M182.1 590.7h0M189.0 590.7h0M189.0 588.2h0M191.0 586.6h0M185.1 582.9h0M178.0 591.0h0M180.8 593.0h0M190.2 588.9h0M181.2 591.6h0M184.0 588.4h0M193.6 592.2h0M190.7 592.2h0M180.4 592.6h0M190.7 587.6h0M185.8 595.4h0M194.7 588.3h0M182.5 580.3h0M181.5 590.5h0M187.5 584.4h0M193.0 591.0h0M182.7 588.7h0M193.7 589.5h0M191.3 586.6h0M182.4 582.9h0M180.9 593.9h0M191.2 588.8h0M182.6 583.1h0M184.5 587.4h0M183.0 585.6h0M186.9 592.5h0M185.3 594.8h0M179.8 592.1h0M190.8 587.5h0M185.3 590.5h0M194.0 591.2h0M183.0 586.9h0M188.0 590.0h0M179.0 593.6h0M193.9 589.2h0M184.1 594.2h0M184.9 589.3h0M185.6 588.3h0M187.6 587.1h0M194.1 591.1h0M181.7 582.7h0M186.2 593.2h0M187.5 591.5h0M188.1 594.3h0M183.6 588.5h0M186.2 585.2h0M182.3 593.8h0M182.0 582.8h0M188.3 584.1h0M194.4 588.7h0M188.4 587.5h0M186.0 586.8h0M179.5 589.9h0M190.0 585.6h0M189.6 586.2h0M180.0 591.1h0" stroke="#8cc85a" stroke-width="1.2" stroke-linecap="round" fill="none"/>
<path d="M192.2 579.9h0M193.3 583.8h0M190.3 582.2h0M189.0 582.8h0M188.1 580.4h0M185.1 578.3h0M185.7 580.1h0M194.8 583.3h0M193.9 584.0h0M191.9 579.9h0M191.6 579.0h0M191.1 580.9h0M189.9 581.5h0M189.5 578.1h0M192.8 579.2h0M186.7 580.5h0M190.2 578.7h0M185.2 580.0h0M190.9 582.3h0M191.5 578.8h0M194.2 583.8h0M191.7 581.4h0M194.2 581.1h0M185.4 578.7h0M189.3 580.6h0M191.2 578.7h0M188.0 579.8h0M183.5 580.0h0M190.5 579.4h0M191.9 579.6h0" stroke="#2a7aa0" stroke-width="1.2" stroke-linecap="round" fill="none"/>
<path d="M186.4,575.6 L187.6,574.8 L189.0,575.6 L188.4,577.0 L186.8,577.0 Z" fill="#3aa082" stroke="#3aa082" stroke-width="0.6"/>
<rect x="209.40" y="565.40" width="41.00" height="41.20" fill="#fff" stroke="#8c8c8c" stroke-width="0.9"/>
<text x="248.20" y="573.80" font-size="7.5" fill="#1e1e1e" stroke="#1e1e1e" stroke-width="0.16" text-anchor="end">CD25</text>
<path d="M227.4,578.4 L230.4,577.6 L233.4,577.9 L236.4,579.4 L237.9,582.4 L237.4,586.4 L237.9,589.4 L236.4,592.4 L233.4,593.9 L230.4,594.9 L228.4,596.9 L226.9,596.9 L226.4,594.9 L223.4,594.4 L220.4,593.4 L219.7,591.4 L221.4,589.9 L224.4,589.4 L224.9,586.4 L224.4,582.4 L225.4,579.9 Z" fill="#1f6292" stroke="none" stroke-width="0.8"/>
<path d="M222.8 591.4h0M222.0 593.2h0M226.8 591.9h0M227.0 595.7h0M224.3 590.8h0M225.1 591.9h0M221.1 591.0h0M227.9 596.8h0M225.6 593.1h0M227.0 593.3h0M221.1 592.8h0M226.4 594.1h0M224.1 591.8h0M222.5 593.6h0M225.6 594.6h0M226.5 592.1h0M230.1 594.8h0M230.5 594.0h0M222.0 592.1h0M220.1 591.8h0M230.5 594.3h0M221.2 590.3h0M226.9 596.9h0M230.3 594.0h0M221.0 592.3h0M227.5 593.9h0M226.6 594.3h0M227.8 592.5h0M223.7 590.6h0M230.5 594.0h0M222.9 591.3h0M224.7 591.2h0M230.6 594.3h0" stroke="#2f9a82" stroke-width="1.2" stroke-linecap="round" fill="none"/>
<path d="M230.8 585.0h0M231.0 587.6h0M235.7 591.8h0M232.3 589.4h0M225.8 590.9h0M236.2 580.8h0M227.8 589.7h0M235.5 590.8h0M235.8 585.0h0M236.8 581.7h0M233.0 585.6h0M234.9 582.9h0M233.9 591.6h0M225.9 580.2h0M224.8 588.3h0M233.5 592.2h0M228.9 588.3h0M231.5 581.6h0M237.3 582.2h0M228.5 581.6h0M225.9 587.0h0M234.6 590.9h0M228.8 584.8h0M236.0 582.3h0M227.0 583.9h0M233.6 585.7h0M230.8 589.2h0M225.8 580.1h0M237.4 585.1h0M233.7 584.0h0M228.6 590.3h0M226.0 589.5h0M230.9 590.3h0M237.9 582.5h0M232.4 586.3h0M235.6 584.6h0M227.9 585.7h0M230.6 589.7h0M227.1 585.9h0M234.7 578.9h0M233.8 587.7h0M233.2 593.9h0M226.2 580.1h0M231.0 590.1h0M234.8 582.8h0M226.9 589.9h0M233.5 593.5h0M233.6 590.2h0M230.7 588.1h0M230.7 581.9h0M229.9 587.3h0M228.2 582.7h0M236.9 589.8h0M232.9 590.5h0M227.4 584.2h0M235.7 584.2h0M236.7 588.1h0M225.4 587.2h0M227.7 584.9h0M228.6 584.3h0" stroke="#246c9c" stroke-width="1.2" stroke-linecap="round" fill="none"/>
<path d="M230.9 588.5h0M226.6 582.0h0M227.7 587.3h0M231.2 590.5h0M229.0 592.0h0M231.2 586.0h0M229.9 586.1h0M234.7 589.9h0M231.0 587.9h0M237.4 587.8h0M236.9 580.9h0M227.9 590.4h0M226.8 580.5h0M227.3 583.7h0M231.4 582.0h0M234.1 585.1h0M223.7 590.1h0M231.3 586.8h0M230.7 586.9h0M236.3 586.4h0M230.6 586.7h0M237.2 588.3h0M228.3 584.5h0M232.3 579.3h0M235.1 585.1h0M237.4 582.1h0M235.9 582.7h0M232.1 593.5h0M232.8 582.3h0M230.4 580.9h0M227.6 583.1h0M227.0 590.7h0M236.0 591.8h0M225.1 583.9h0M234.7 587.4h0M231.3 591.6h0M237.1 584.0h0M235.1 580.6h0M224.9 589.1h0M233.7 578.4h0M235.8 591.9h0M226.0 589.6h0M229.6 584.7h0M225.0 590.1h0M226.2 580.7h0M226.3 585.1h0M229.9 581.1h0M233.3 589.2h0M229.2 580.7h0M230.5 580.7h0M234.6 580.9h0M232.5 586.4h0M233.2 582.1h0M235.0 585.2h0M232.4 585.1h0M227.2 584.1h0M234.8 579.8h0M233.3 592.5h0M235.9 589.6h0M234.2 588.5h0M232.9 579.1h0M231.7 580.2h0M232.6 591.4h0M229.3 590.3h0M233.2 590.2h0M227.0 590.6h0M232.9 588.7h0M233.8 581.9h0M233.1 585.3h0M233.3 586.1h0M230.6 581.8h0M237.8 583.0h0M237.5 583.2h0M225.6 586.5h0M232.6 588.6h0M231.3 587.4h0M230.7 587.0h0M229.0 587.2h0M226.1 585.1h0M225.8 588.6h0M228.4 589.2h0M236.7 584.2h0M234.5 581.4h0M231.2 584.3h0M235.4 586.0h0M230.9 593.1h0M233.1 579.4h0M226.5 579.7h0M235.0 586.2h0M228.7 585.1h0M228.3 581.7h0M229.2 585.6h0M230.0 588.6h0M230.9 592.0h0M232.2 591.3h0M225.4 590.1h0M233.1 586.1h0M227.6 580.3h0M230.3 588.3h0M228.7 578.1h0M233.9 579.6h0M234.8 583.7h0M224.8 585.0h0M227.0 587.0h0M236.7 591.0h0M237.2 584.8h0M236.4 579.8h0M229.7 584.6h0M226.2 587.1h0M233.9 592.3h0M230.9 581.2h0M233.2 591.2h0M235.9 579.8h0" stroke="#1d5a8e" stroke-width="1.2" stroke-linecap="round" fill="none"/>
<path d="M227.5 585.3h0M236.4 586.7h0M236.5 586.9h0M235.7 591.1h0M227.7 586.3h0M233.2 593.3h0M235.1 589.8h0M230.3 592.6h0M233.3 583.8h0M229.1 581.0h0M236.4 591.0h0M229.7 592.2h0M228.1 586.3h0M234.0 583.3h0M231.5 587.0h0M236.8 590.3h0M232.5 590.1h0M229.6 586.0h0M232.6 587.7h0M236.1 591.7h0M226.6 584.6h0M235.7 586.0h0M232.7 581.0h0M235.6 587.4h0M233.5 582.3h0M237.0 583.3h0M229.0 586.7h0M232.9 580.8h0M235.2 591.9h0M227.3 591.0h0M233.6 593.8h0M226.6 579.0h0M230.5 578.2h0" stroke="#2a8c90" stroke-width="1.2" stroke-linecap="round" fill="none"/>
<path d="M228.3 595.9h0M228.1 593.9h0M221.6 592.1h0M221.7 590.9h0M220.7 590.9h0M226.6 593.3h0M227.7 595.4h0M221.4 590.1h0M226.0 593.2h0M228.4 594.8h0M229.7 594.5h0M230.0 594.1h0M227.3 592.9h0M231.1 594.3h0M227.9 592.6h0M226.2 593.2h0M230.0 594.2h0M224.7 592.6h0M220.7 590.9h0M228.1 594.5h0M223.6 593.7h0" stroke="#1f6f96" stroke-width="1.2" stroke-linecap="round" fill="none"/>
<path d="M229.2,575.6 L230.4,574.8 L231.8,575.6 L231.2,577.0 L229.6,577.0 Z" fill="#1f6292" stroke="#1f6292" stroke-width="0.6"/>
<rect x="123.70" y="607.90" width="41.30" height="40.80" fill="#fff" stroke="#8c8c8c" stroke-width="0.9"/>
<text x="162.80" y="616.30" font-size="7.5" fill="#1e1e1e" stroke="#1e1e1e" stroke-width="0.16" text-anchor="end">I-A/I-B</text>
<linearGradient id="g10" x1="0.7" y1="0" x2="0.3" y2="1"><stop offset="0.3" stop-color="#1f6898"/><stop offset="0.5" stop-color="#5aa878"/></linearGradient>
<path d="M141.7,620.9 L144.7,620.1 L147.7,620.4 L150.7,621.9 L152.2,624.9 L151.7,628.9 L152.2,631.9 L150.7,634.9 L147.7,636.4 L144.7,637.4 L142.7,639.4 L141.2,639.4 L140.7,637.4 L137.7,636.9 L134.7,635.9 L134.0,633.9 L135.7,632.4 L138.7,631.9 L139.2,628.9 L138.7,624.9 L139.7,622.4 Z" fill="url(#g10)" stroke="none" stroke-width="0.8"/>
<path d="M147.1 634.3h0M139.4 629.4h0M148.8 633.6h0M141.2 635.9h0M143.9 636.9h0M142.4 633.2h0M137.5 633.0h0M139.2 631.9h0M151.3 631.8h0M136.0 633.0h0M151.5 632.8h0M151.9 632.4h0M144.8 634.1h0M140.7 631.2h0M149.7 633.9h0M134.5 633.6h0M148.2 630.5h0M149.3 634.7h0M151.0 634.1h0M149.4 632.5h0M141.3 635.8h0M144.5 634.1h0M143.3 637.6h0M150.6 632.1h0M138.6 637.0h0M146.4 635.2h0M149.2 632.3h0M146.0 631.8h0M136.2 634.8h0M147.7 635.8h0M147.3 630.7h0M151.5 632.4h0M149.2 633.6h0M147.8 631.6h0M148.0 633.0h0M146.1 630.1h0" stroke="#4caa72" stroke-width="1.2" stroke-linecap="round" fill="none"/>
<path d="M145.0 622.5h0M146.9 625.7h0M149.9 630.6h0M146.3 626.4h0M145.5 621.4h0M141.8 625.7h0M149.8 625.6h0M144.8 626.4h0M148.5 628.2h0M149.7 625.1h0M151.0 630.3h0M150.9 629.0h0M147.9 621.1h0M146.9 625.4h0M142.0 626.3h0M147.7 628.1h0M151.1 628.3h0M146.0 620.9h0M148.9 625.3h0M146.2 623.9h0M149.5 629.0h0M139.4 624.7h0M146.9 624.6h0M149.6 624.0h0M143.6 627.2h0M149.5 626.0h0M152.0 631.0h0M147.3 626.0h0M151.2 623.1h0M143.1 623.5h0M147.7 627.9h0M140.4 623.7h0M144.9 623.3h0M144.8 621.2h0M149.7 629.8h0M151.6 629.1h0M141.4 626.3h0M150.1 628.7h0M149.5 627.3h0M144.2 623.2h0M146.0 621.1h0M147.8 627.3h0M142.2 623.1h0M141.0 624.4h0M151.5 628.2h0M142.1 621.6h0M146.2 626.0h0M142.2 624.2h0M150.7 631.2h0M142.6 625.9h0M149.2 623.2h0M149.2 630.5h0M143.8 621.4h0M142.8 621.4h0M151.4 627.1h0M149.3 622.2h0M143.7 623.8h0M141.0 626.3h0M148.1 623.1h0M146.4 621.1h0M151.7 628.6h0M147.5 625.9h0M139.9 626.4h0M146.8 626.8h0M148.5 625.9h0" stroke="#1f629a" stroke-width="1.2" stroke-linecap="round" fill="none"/>
<path d="M141.0 637.3h0M144.4 636.1h0M140.9 629.3h0M146.5 636.5h0M145.2 636.9h0M147.2 634.5h0M148.2 630.7h0M149.7 635.2h0M139.9 627.0h0M136.0 632.6h0M143.5 635.9h0M149.0 634.5h0M138.0 636.9h0M143.8 628.7h0M148.4 632.7h0M138.8 634.5h0M141.5 627.4h0M146.7 632.3h0M141.8 634.1h0M148.9 634.0h0M146.0 634.9h0M140.4 630.3h0M143.6 630.0h0M147.2 630.7h0M136.5 632.8h0M140.3 629.9h0M139.2 629.2h0M148.2 633.5h0M134.9 634.7h0M144.5 636.0h0M148.8 631.0h0M142.3 637.7h0M146.3 634.5h0M135.2 633.7h0M146.4 631.8h0M138.0 636.3h0M144.9 636.6h0M139.4 634.4h0M150.1 631.4h0M146.0 634.8h0M147.2 634.0h0M145.2 632.3h0M141.3 629.7h0M145.8 635.0h0M145.1 636.6h0M138.9 632.7h0M146.9 632.7h0" stroke="#c4dc4c" stroke-width="1.2" stroke-linecap="round" fill="none"/>
<path d="M149.9 622.4h0M140.3 626.5h0M145.4 623.2h0M139.8 625.0h0M143.5 627.8h0M140.1 624.8h0M146.6 625.6h0M148.4 630.2h0M140.8 623.9h0M143.9 627.1h0M140.2 626.6h0M142.6 622.8h0M144.4 621.3h0M141.9 627.2h0M145.5 627.9h0M148.6 625.4h0M144.8 621.8h0M148.6 624.6h0M150.0 623.3h0M145.6 626.7h0M151.8 629.9h0M141.7 622.0h0M146.4 626.7h0M148.5 629.3h0M143.7 621.0h0M149.6 629.3h0M151.5 626.0h0M148.6 628.0h0M143.8 627.8h0M144.4 624.5h0M148.3 623.5h0M148.6 625.3h0M145.3 620.5h0M151.7 630.0h0M145.7 626.7h0M143.1 620.6h0M148.4 629.3h0M148.4 625.3h0M144.1 621.3h0M143.3 621.4h0M150.5 627.7h0M140.4 624.6h0M146.3 627.0h0M148.4 623.1h0M142.3 621.7h0M148.2 627.4h0M146.7 622.9h0M145.6 623.0h0M142.5 627.3h0M147.6 622.0h0" stroke="#2a8a96" stroke-width="1.2" stroke-linecap="round" fill="none"/>
<path d="M147.3 634.1h0M141.6 635.3h0M145.3 629.3h0M143.6 633.8h0M144.3 635.0h0M144.0 631.6h0M142.1 634.6h0M144.3 632.1h0M144.5 632.6h0M140.0 630.8h0M151.2 633.3h0M136.5 635.0h0M150.3 633.2h0M147.7 635.6h0M141.9 634.9h0M148.5 634.7h0M144.5 629.3h0M145.9 630.0h0M139.7 628.9h0M139.9 633.0h0M142.8 632.9h0M146.8 632.5h0M151.8 632.4h0M150.0 634.1h0M146.5 631.5h0M147.5 631.7h0M142.6 630.6h0M150.9 632.7h0M136.7 635.5h0M139.4 629.9h0M149.1 634.5h0M147.3 636.4h0M142.4 638.1h0M142.8 631.6h0M141.2 634.3h0M142.5 632.4h0M143.3 635.0h0M146.5 636.2h0M145.2 631.7h0M143.5 630.6h0M135.6 634.8h0M144.6 630.4h0M145.2 632.8h0M140.0 628.3h0M149.9 634.1h0M144.2 632.4h0M141.1 637.1h0M147.3 630.9h0M139.7 633.2h0M147.2 634.3h0M138.0 634.8h0M146.6 634.2h0M141.5 635.0h0M148.7 630.6h0M144.1 629.4h0M135.2 633.9h0M145.9 629.7h0M139.9 636.0h0M142.4 639.2h0M138.9 632.8h0M141.8 636.8h0M140.8 636.8h0" stroke="#8cc850" stroke-width="1.2" stroke-linecap="round" fill="none"/>
<path d="M143.5,618.1 L144.7,617.3 L146.1,618.1 L145.5,619.5 L143.9,619.5 Z" fill="#2a8a96" stroke="#2a8a96" stroke-width="0.6"/>
<rect x="166.60" y="607.90" width="41.20" height="40.80" fill="#fff" stroke="#8c8c8c" stroke-width="0.9"/>
<text x="205.60" y="616.30" font-size="7.5" fill="#1e1e1e" stroke="#1e1e1e" stroke-width="0.16" text-anchor="end">CD44</text>
<path d="M184.6,620.9 L187.6,620.1 L190.6,620.4 L193.6,621.9 L195.1,624.9 L194.6,628.9 L195.1,631.9 L193.6,634.9 L190.6,636.4 L187.6,637.4 L185.6,639.4 L184.1,639.4 L183.6,637.4 L180.6,636.9 L177.6,635.9 L176.9,633.9 L178.6,632.4 L181.6,631.9 L182.1,628.9 L181.6,624.9 L182.6,622.4 Z" fill="#b4d656" stroke="none" stroke-width="0.8"/>
<path d="M190.2 624.5h0M191.0 631.9h0M191.4 626.0h0M192.0 634.5h0M187.4 622.9h0M185.9 621.6h0M184.0 621.5h0M183.1 629.1h0M188.1 636.8h0M188.6 623.9h0M185.0 632.9h0M185.1 623.0h0M184.5 635.8h0M185.8 626.7h0M185.3 639.3h0M190.8 635.6h0M189.8 632.8h0M183.1 631.0h0M186.7 625.7h0M188.5 634.6h0M182.6 635.3h0M183.8 631.9h0" stroke="#5cb070" stroke-width="1.2" stroke-linecap="round" fill="none"/>
<path d="M182.9 633.9h0M188.2 632.2h0M193.7 626.9h0M190.0 632.3h0M186.1 624.5h0M186.6 624.7h0M179.1 635.5h0M184.9 628.4h0M185.5 621.2h0M182.9 633.6h0M183.4 624.7h0M190.8 628.8h0M187.7 623.9h0M182.2 623.9h0M182.5 634.1h0M183.6 626.8h0M187.9 627.4h0M183.5 621.8h0M187.2 626.7h0M184.1 623.2h0M186.8 622.7h0M187.7 622.1h0M192.9 633.6h0M192.4 634.9h0M181.1 635.7h0M186.7 626.1h0M192.2 622.1h0M191.3 629.2h0M191.9 630.7h0M182.3 636.8h0M182.3 626.9h0M188.3 634.0h0M184.0 638.9h0M194.1 633.3h0M193.1 631.6h0M180.5 633.2h0M185.7 634.4h0M186.3 621.9h0M185.8 630.8h0M194.8 625.7h0M190.6 627.1h0M182.2 624.8h0" stroke="#d2e262" stroke-width="1.2" stroke-linecap="round" fill="none"/>
<path d="M179.0 632.7h0M184.0 626.3h0M186.9 632.3h0M191.7 624.8h0M186.9 630.4h0M192.2 630.1h0M186.4 634.3h0M193.6 623.9h0M185.7 628.8h0M188.5 636.4h0M191.4 621.7h0M182.8 626.1h0M194.4 632.0h0M181.4 636.0h0M182.1 631.7h0M194.2 630.1h0M191.2 627.6h0M191.8 630.6h0M188.6 622.6h0M194.1 631.2h0M191.2 634.7h0M194.1 625.4h0M184.4 623.1h0M192.3 627.1h0M187.6 630.7h0M190.1 624.6h0M182.7 624.6h0M193.4 623.6h0M185.5 634.8h0M193.5 631.2h0M193.8 623.9h0M192.9 622.0h0M190.5 633.7h0M189.5 632.1h0M185.9 633.8h0M187.8 635.0h0M191.0 621.2h0M189.2 635.2h0M184.8 637.8h0M183.4 626.9h0M189.4 634.4h0M181.0 632.1h0M184.0 635.0h0M181.9 631.1h0M191.4 632.4h0M182.7 627.2h0M185.8 630.4h0M188.7 634.4h0M193.5 626.6h0M184.2 631.8h0M184.5 634.6h0M190.3 629.0h0M193.5 635.0h0M193.3 628.6h0M181.9 626.1h0M191.5 632.1h0M184.1 634.5h0M190.7 624.0h0M184.5 630.9h0M194.8 625.0h0M182.6 626.9h0M186.5 634.3h0M190.8 633.0h0M192.0 628.5h0M182.7 630.3h0M190.7 632.8h0M194.1 631.3h0M183.5 635.3h0M191.4 634.3h0M191.3 622.8h0M182.8 625.0h0M184.2 629.0h0M181.9 624.2h0M182.0 629.8h0M185.1 632.2h0" stroke="#98cc5a" stroke-width="1.2" stroke-linecap="round" fill="none"/>
<path d="M182.9 632.6h0M192.6 631.3h0M184.4 629.1h0M186.7 625.1h0M189.0 635.6h0M188.3 621.7h0M190.0 626.1h0M192.2 633.5h0M187.4 620.6h0M187.6 635.8h0M188.0 626.0h0M182.9 623.5h0M187.1 627.7h0M185.9 627.7h0M187.1 628.3h0M189.4 633.1h0M185.8 627.2h0M193.8 622.6h0M193.2 625.6h0M188.0 624.8h0M184.5 634.4h0M188.9 636.1h0M186.3 633.1h0M193.8 629.2h0M184.8 637.3h0M185.1 625.3h0M188.8 635.9h0M185.9 637.9h0M188.5 629.6h0M181.0 633.6h0M190.4 636.0h0M190.2 628.2h0M182.5 624.6h0M192.3 622.0h0M184.1 622.5h0M188.8 636.0h0M182.5 627.1h0M184.6 638.5h0M187.2 625.4h0M194.3 625.6h0M186.7 621.5h0M193.9 624.7h0M188.1 625.0h0M192.3 621.3h0M187.3 630.6h0M186.9 627.1h0M190.4 628.1h0M181.7 635.3h0M186.0 622.2h0M183.9 626.9h0M192.3 633.0h0M186.6 625.0h0M187.1 636.5h0M183.2 636.1h0M185.0 622.9h0M179.6 635.2h0M192.7 631.0h0M184.3 630.7h0M188.9 631.6h0M187.8 623.5h0M191.8 629.6h0M182.7 626.6h0M194.6 632.4h0M194.2 632.0h0M187.9 628.4h0M193.3 624.5h0M184.5 633.1h0M187.2 622.8h0M190.0 632.9h0M191.0 629.4h0M192.2 634.5h0M186.8 632.8h0M185.4 623.3h0M183.2 625.5h0M188.9 622.6h0M183.8 632.8h0M189.6 629.3h0M188.2 631.7h0M193.6 634.9h0M183.9 623.8h0M188.8 628.0h0M190.4 623.0h0M185.3 627.0h0M187.2 625.8h0M184.6 633.7h0M185.3 629.0h0M182.6 633.7h0M185.0 629.5h0M193.4 626.1h0M187.9 635.0h0M180.4 636.5h0M190.2 626.3h0M189.9 630.6h0M179.2 636.3h0M189.8 625.2h0M188.9 630.5h0M190.7 632.4h0M194.5 631.4h0M190.5 626.8h0M183.1 630.3h0M183.6 626.4h0M185.7 622.3h0M184.4 639.0h0M180.8 633.6h0M190.5 628.1h0M177.8 635.6h0M188.1 636.8h0M185.1 621.1h0M194.0 625.8h0M186.3 631.4h0M185.1 631.9h0M187.6 626.9h0M191.4 627.0h0M187.7 622.0h0M181.6 633.8h0M184.5 621.2h0M192.8 632.5h0M186.1 629.2h0M193.6 624.7h0M187.5 630.8h0M189.2 630.0h0" stroke="#bcd855" stroke-width="1.2" stroke-linecap="round" fill="none"/>
<path d="M186.4,618.1 L187.6,617.3 L189.0,618.1 L188.4,619.5 L186.8,619.5 Z" fill="#6cba62" stroke="#6cba62" stroke-width="0.6"/>
<rect x="209.40" y="607.90" width="41.00" height="40.80" fill="#fff" stroke="#8c8c8c" stroke-width="0.9"/>
<text x="248.20" y="616.30" font-size="7.5" fill="#1e1e1e" stroke="#1e1e1e" stroke-width="0.16" text-anchor="end">CD62L</text>
<path d="M227.4,620.9 L230.4,620.1 L233.4,620.4 L236.4,621.9 L237.9,624.9 L237.4,628.9 L237.9,631.9 L236.4,634.9 L233.4,636.4 L230.4,637.4 L228.4,639.4 L226.9,639.4 L226.4,637.4 L223.4,636.9 L220.4,635.9 L219.7,633.9 L221.4,632.4 L224.4,631.9 L224.9,628.9 L224.4,624.9 L225.4,622.4 Z" fill="#1d5890" stroke="none" stroke-width="0.8"/>
<path d="M235.7 626.8h0M225.8 623.3h0M226.1 623.4h0M237.7 631.9h0M231.1 622.3h0M236.6 633.6h0M235.5 626.3h0M230.3 636.5h0M228.7 623.3h0M235.7 624.6h0M224.6 636.7h0M228.6 633.3h0M233.5 631.2h0M223.2 632.5h0M225.9 635.7h0M233.9 636.0h0M228.3 629.3h0M227.9 623.5h0M228.1 636.6h0M230.0 622.0h0M237.5 625.2h0M225.6 626.3h0M228.4 629.2h0M226.2 631.5h0M226.5 622.6h0M225.7 630.4h0M228.4 636.4h0M228.5 629.0h0M224.9 623.7h0M225.8 635.2h0M224.9 630.1h0M237.4 631.5h0M233.4 630.7h0M229.6 632.2h0M232.5 635.1h0M236.5 630.0h0M232.2 633.3h0M228.7 634.9h0M230.9 634.5h0M226.4 633.6h0M227.9 629.8h0M232.8 625.2h0M230.0 625.1h0M231.8 628.1h0M230.6 621.6h0M227.1 629.9h0M232.0 625.7h0M233.9 622.2h0M235.4 626.6h0M231.4 625.1h0M235.4 624.4h0M226.9 635.3h0M229.1 637.3h0M222.0 632.4h0M224.5 631.9h0M221.3 634.3h0M237.3 625.7h0M226.0 637.2h0M230.0 633.5h0M226.5 623.9h0M233.5 621.5h0M233.7 633.1h0M227.6 635.4h0M225.3 632.2h0M226.9 627.8h0M236.3 623.9h0M226.1 631.9h0M229.6 621.7h0M228.9 621.8h0M232.4 634.1h0M228.0 622.1h0M225.0 636.7h0M227.8 634.6h0M236.3 625.2h0M226.9 622.4h0M227.4 639.2h0" stroke="#2468a2" stroke-width="1.2" stroke-linecap="round" fill="none"/>
<path d="M225.4 634.9h0M222.4 632.8h0M227.5 627.6h0M228.1 637.1h0M236.5 624.5h0M229.3 624.9h0M234.7 634.9h0M226.8 630.4h0M228.9 634.8h0M231.1 636.0h0M229.1 631.5h0M228.5 635.2h0M231.7 621.5h0M231.3 627.0h0M235.5 626.7h0M220.6 634.5h0M233.4 632.9h0M226.1 627.1h0M232.2 631.0h0M232.1 626.1h0M230.0 621.5h0M235.7 633.3h0M232.8 621.9h0M227.9 634.3h0M233.3 628.8h0M230.9 626.9h0M230.7 631.2h0M237.5 632.6h0M232.0 629.3h0M227.4 639.1h0M231.8 633.4h0M228.0 628.2h0M220.9 635.7h0M232.9 628.3h0M225.8 631.5h0M237.4 628.8h0M230.0 634.9h0M228.1 621.3h0M235.1 628.9h0M227.8 624.2h0M226.3 637.2h0M228.0 627.4h0M230.7 634.4h0M234.7 627.0h0M232.8 622.0h0M226.8 623.3h0M234.3 626.7h0M226.9 622.4h0M236.2 633.4h0M229.1 621.6h0M228.5 622.1h0M224.8 635.8h0M234.6 624.4h0M227.6 637.2h0M230.1 631.9h0M232.1 621.8h0M235.1 630.3h0M226.9 637.5h0M235.1 628.1h0M224.6 635.6h0M233.7 632.0h0M233.2 630.5h0M234.1 631.3h0M231.4 622.5h0M235.4 633.7h0M232.4 635.6h0M231.7 636.0h0M232.7 627.6h0M230.6 628.8h0M234.4 626.4h0M226.1 622.9h0M228.2 631.3h0M226.5 636.6h0M227.5 636.3h0M230.9 631.5h0M227.2 629.0h0M226.2 622.6h0M231.6 626.5h0M220.3 635.0h0M233.2 625.8h0M230.2 625.8h0M237.0 623.3h0M227.2 633.6h0M228.8 638.3h0M226.9 626.8h0M233.6 622.2h0M227.9 632.1h0M229.6 629.1h0M229.3 632.7h0M225.9 629.8h0M228.6 622.5h0M230.6 625.5h0M235.1 631.6h0M231.1 632.3h0M225.3 633.2h0M227.2 626.5h0M225.5 630.6h0M236.6 632.4h0M225.8 629.4h0M227.6 623.3h0M228.8 622.1h0M226.5 636.7h0M233.2 630.7h0M224.8 635.9h0M233.9 632.5h0M226.4 622.3h0M226.4 626.5h0M231.0 622.8h0M233.7 622.8h0M229.3 626.8h0M233.7 623.6h0M227.7 625.0h0M236.6 629.1h0M228.1 629.7h0M235.0 629.4h0M230.8 636.5h0M226.7 629.2h0M228.8 621.3h0M227.5 637.4h0M227.2 624.2h0M230.7 632.7h0M224.5 631.6h0M226.6 625.8h0M228.6 627.6h0M229.7 624.0h0M225.9 636.8h0M232.0 634.2h0M232.9 632.8h0M235.8 624.7h0M231.3 622.2h0M232.3 621.6h0M233.7 627.5h0M227.9 631.6h0M228.3 637.5h0M234.4 625.9h0M231.3 629.0h0M225.9 626.1h0M230.5 636.3h0M221.4 634.7h0M227.2 630.1h0M234.5 625.7h0M224.7 624.4h0M233.0 623.0h0M232.0 633.8h0M233.6 623.0h0M229.9 626.4h0M225.0 635.6h0M228.8 630.2h0M235.5 630.1h0M225.4 625.3h0M227.4 635.8h0M231.0 620.4h0M227.1 627.7h0M229.3 629.5h0M235.9 628.9h0" stroke="#1b548e" stroke-width="1.2" stroke-linecap="round" fill="none"/>
<path d="M226.0 634.6h0M225.0 625.2h0M230.3 620.4h0M232.9 628.8h0M237.5 625.3h0M227.2 621.7h0M234.9 630.4h0M222.7 633.5h0M234.8 628.6h0M234.6 625.9h0M233.0 633.6h0M223.9 633.8h0M223.0 634.8h0M230.1 630.4h0M234.8 632.0h0M223.7 634.9h0M223.1 634.6h0M234.7 628.3h0M237.5 627.2h0M236.7 627.0h0M235.8 630.0h0M231.9 632.7h0M227.2 635.1h0M233.1 621.8h0M227.7 621.6h0M234.9 631.4h0M230.2 626.3h0M237.1 624.8h0M231.2 625.3h0" stroke="#2e86a6" stroke-width="1.2" stroke-linecap="round" fill="none"/>
<path d="M229.2,618.1 L230.4,617.3 L231.8,618.1 L231.2,619.5 L229.6,619.5 Z" fill="#9ccc52" stroke="#9ccc52" stroke-width="0.6"/>
<linearGradient id="cbar" x1="0" x2="1" y1="0" y2="0"><stop offset="0" stop-color="#2b2a85"/><stop offset="0.22" stop-color="#1f5fad"/><stop offset="0.45" stop-color="#1f9f9a"/><stop offset="0.65" stop-color="#5cbf5a"/><stop offset="0.85" stop-color="#e3e34a"/><stop offset="1" stop-color="#f6b52e"/></linearGradient>
<rect x="132.00" y="656.30" width="43.50" height="7.00" fill="url(#cbar)" stroke="#555" stroke-width="0.4"/>
<text x="130.20" y="672.00" font-size="7.5" fill="#1e1e1e" stroke="#1e1e1e" stroke-width="0.16">Low</text>
<text x="177.60" y="672.00" font-size="7.5" fill="#1e1e1e" stroke="#1e1e1e" stroke-width="0.16" text-anchor="end">High</text>
<text x="251.00" y="539.20" font-size="10.4" fill="#111" font-weight="bold">J</text>
<filter id="bl1" x="-50%" y="-50%" width="200%" height="200%"><feGaussianBlur stdDeviation="1.6"/></filter>
<filter id="bl2" x="-50%" y="-50%" width="200%" height="200%"><feGaussianBlur stdDeviation="3.2"/></filter>
<rect x="261.40" y="546.60" width="71.00" height="70.90" fill="none" stroke="#444" stroke-width="0.9"/>
<rect x="261.40" y="618.80" width="71.00" height="71.40" fill="none" stroke="#444" stroke-width="0.9"/>
<filter id="bl0" x="-50%" y="-50%" width="200%" height="200%"><feGaussianBlur stdDeviation="0.9"/></filter>
<g filter="url(#bl2)" opacity="0.45"><ellipse cx="298" cy="582" rx="13" ry="13" fill="#a8a8a8"/></g>
<g filter="url(#bl0)"><circle cx="283.7" cy="590.7" r="3.64" fill="#c8c8c8"/><circle cx="292.7" cy="592.5" r="3.64" fill="#c4c4c4"/><circle cx="299.1" cy="593.3" r="3.36" fill="#cfcfcf"/><circle cx="288" cy="595" r="2.80" fill="#dadada"/><circle cx="285" cy="586.9" r="3.36" fill="#8a8a8a"/><circle cx="290" cy="588" r="3.36" fill="#a0a0a0"/><circle cx="296.5" cy="589.4" r="3.64" fill="#9a9a9a"/><circle cx="301.7" cy="588.1" r="3.36" fill="#7a7a7a"/><circle cx="306" cy="586" r="2.80" fill="#aaa"/><circle cx="300.4" cy="580.4" r="3.64" fill="#444"/><circle cx="304.3" cy="581.7" r="3.36" fill="#555"/><circle cx="296" cy="579" r="3.08" fill="#777"/><circle cx="292.2" cy="574" r="4.20" fill="#2a2a2a"/><circle cx="297.8" cy="572.7" r="3.64" fill="#444"/><circle cx="303" cy="573.5" r="4.20" fill="#2e2e2e"/><circle cx="308.1" cy="575.3" r="3.92" fill="#333"/><circle cx="299" cy="576.5" r="2.80" fill="#666"/><circle cx="294" cy="563.1" r="3.50" fill="#222"/><circle cx="295.3" cy="598.5" r="2.10" fill="#666"/></g>
<text x="264.80" y="613.30" font-size="7.5" fill="#1e1e1e" stroke="#1e1e1e" stroke-width="0.16">Vehicle</text>
<g filter="url(#bl2)" opacity="0.35"><ellipse cx="297" cy="655" rx="11" ry="11" fill="#b8cbe6"/></g>
<g filter="url(#bl0)"><circle cx="302.6" cy="649" r="2.80" fill="#dde6f2"/><circle cx="307.8" cy="652" r="2.80" fill="#d8dde6"/><circle cx="296.4" cy="651" r="2.52" fill="#b8cce8"/><circle cx="300.5" cy="661.4" r="2.80" fill="#9cb8e0"/><circle cx="304" cy="659" r="2.24" fill="#c8d6ec"/><circle cx="294.3" cy="635.4" r="2.80" fill="#0d3a7e"/><circle cx="298.5" cy="642.7" r="2.10" fill="#2a62aa"/><circle cx="291.2" cy="650" r="2.80" fill="#2260b0"/><circle cx="303.7" cy="653.1" r="2.52" fill="#1d56a2"/><circle cx="299.5" cy="655.2" r="2.80" fill="#2a68b4"/><circle cx="294.3" cy="657.3" r="3.64" fill="#124a98"/><circle cx="296.4" cy="662.5" r="2.80" fill="#1f5cac"/><circle cx="293.3" cy="664.5" r="2.80" fill="#2a66b2"/><circle cx="288" cy="664.5" r="3.36" fill="#0e4290"/><circle cx="283.9" cy="660.4" r="4.48" fill="#0c3f8c"/><circle cx="289" cy="656" r="2.52" fill="#3a74bc"/><circle cx="292" cy="668" r="1.82" fill="#a6bee0"/><circle cx="296" cy="646.5" r="2.24" fill="#5a88c6"/><circle cx="300.5" cy="650.5" r="2.24" fill="#4a7cc0"/><circle cx="305.5" cy="656" r="2.10" fill="#7c9ed2"/><circle cx="292.5" cy="653.5" r="2.38" fill="#2d68b2"/><circle cx="299" cy="659.5" r="2.38" fill="#3570b8"/><circle cx="302" cy="663" r="1.96" fill="#7898cc"/></g>
<text x="264.80" y="687.00" font-size="7.5" fill="#6270b6" stroke="#6270b6" stroke-width="0.16">SenB16F10</text>
<text x="257.60" y="678.50" font-size="7.5" fill="#1e1e1e" stroke="#1e1e1e" stroke-width="0.16" text-anchor="middle" transform="rotate(-90 257.60 678.50)">t-SNE_2</text>
<text x="257.20" y="701.30" font-size="7.5" fill="#1e1e1e" stroke="#1e1e1e" stroke-width="0.16">t-SNE_1</text>
<text x="341.60" y="538.60" font-size="10.4" fill="#111" font-weight="bold">K</text>
<line x1="376.50" y1="565.70" x2="376.50" y2="612.40" stroke="#222" stroke-width="0.9"/>
<line x1="376.50" y1="612.40" x2="410.00" y2="612.40" stroke="#222" stroke-width="0.9"/>
<line x1="374.30" y1="612.40" x2="376.50" y2="612.40" stroke="#222" stroke-width="0.8"/>
<text x="372.90" y="615.10" font-size="7.5" fill="#1e1e1e" stroke="#1e1e1e" stroke-width="0.16" text-anchor="end">0</text>
<line x1="374.30" y1="596.83" x2="376.50" y2="596.83" stroke="#222" stroke-width="0.8"/>
<text x="372.90" y="599.53" font-size="7.5" fill="#1e1e1e" stroke="#1e1e1e" stroke-width="0.16" text-anchor="end">20</text>
<line x1="374.30" y1="581.27" x2="376.50" y2="581.27" stroke="#222" stroke-width="0.8"/>
<text x="372.90" y="583.97" font-size="7.5" fill="#1e1e1e" stroke="#1e1e1e" stroke-width="0.16" text-anchor="end">40</text>
<line x1="374.30" y1="565.70" x2="376.50" y2="565.70" stroke="#222" stroke-width="0.8"/>
<text x="372.90" y="568.40" font-size="7.5" fill="#1e1e1e" stroke="#1e1e1e" stroke-width="0.16" text-anchor="end">60</text>
<rect x="381.50" y="586.72" width="9.40" height="25.68" fill="#d8d8db" stroke="#222" stroke-width="0.8"/>
<line x1="386.20" y1="586.72" x2="386.20" y2="584.38" stroke="#222" stroke-width="0.7"/>
<line x1="384.40" y1="584.38" x2="388.00" y2="584.38" stroke="#222" stroke-width="0.7"/>
<circle cx="384.20" cy="584.38" r="0.95" fill="#111"/>
<circle cx="387.70" cy="582.82" r="0.95" fill="#111"/>
<circle cx="385.20" cy="589.05" r="0.95" fill="#111"/>
<circle cx="386.70" cy="592.16" r="0.95" fill="#111"/>
<circle cx="388.20" cy="586.72" r="0.95" fill="#111"/>
<rect x="395.40" y="578.93" width="9.40" height="33.47" fill="#5270bc" stroke="#222" stroke-width="0.8"/>
<line x1="400.10" y1="578.93" x2="400.10" y2="576.60" stroke="#222" stroke-width="0.7"/>
<line x1="398.30" y1="576.60" x2="401.90" y2="576.60" stroke="#222" stroke-width="0.7"/>
<circle cx="400.10" cy="574.26" r="0.95" fill="#111"/>
<circle cx="398.60" cy="578.93" r="0.95" fill="#111"/>
<circle cx="401.60" cy="580.49" r="0.95" fill="#111"/>
<circle cx="400.10" cy="582.82" r="0.95" fill="#111"/>
<path d="M386.2,567.4 L386.2,561.3 L400.1,561.3 L400.1,566.4" fill="none" stroke="#333" stroke-width="0.7"/>
<circle cx="393.10" cy="556.30" r="1.35" fill="#1a1a1a"/>
<text x="388.20" y="549.20" font-size="7.5" fill="#1e1e1e" stroke="#1e1e1e" stroke-width="0.16" text-anchor="middle">PD-1<tspan font-size="5" dy="-2.8">+</tspan><tspan dy="2.8">IFN&#947;</tspan><tspan font-size="5" dy="-2.8">+</tspan></text>
<line x1="429.20" y1="564.40" x2="429.20" y2="612.50" stroke="#222" stroke-width="0.9"/>
<line x1="429.20" y1="612.50" x2="462.70" y2="612.50" stroke="#222" stroke-width="0.9"/>
<line x1="427.00" y1="612.50" x2="429.20" y2="612.50" stroke="#222" stroke-width="0.8"/>
<line x1="427.00" y1="596.47" x2="429.20" y2="596.47" stroke="#222" stroke-width="0.8"/>
<line x1="427.00" y1="580.43" x2="429.20" y2="580.43" stroke="#222" stroke-width="0.8"/>
<line x1="427.00" y1="564.40" x2="429.20" y2="564.40" stroke="#222" stroke-width="0.8"/>
<rect x="434.20" y="602.88" width="9.40" height="9.62" fill="#d8d8db" stroke="#222" stroke-width="0.8"/>
<line x1="438.90" y1="602.88" x2="438.90" y2="600.48" stroke="#222" stroke-width="0.7"/>
<line x1="437.10" y1="600.48" x2="440.70" y2="600.48" stroke="#222" stroke-width="0.7"/>
<circle cx="438.90" cy="597.27" r="0.95" fill="#111"/>
<circle cx="437.40" cy="601.28" r="0.95" fill="#111"/>
<circle cx="440.40" cy="604.48" r="0.95" fill="#111"/>
<circle cx="438.90" cy="607.69" r="0.95" fill="#111"/>
<rect x="448.10" y="597.27" width="9.40" height="15.23" fill="#5270bc" stroke="#222" stroke-width="0.8"/>
<line x1="452.80" y1="597.27" x2="452.80" y2="594.86" stroke="#222" stroke-width="0.7"/>
<line x1="451.00" y1="594.86" x2="454.60" y2="594.86" stroke="#222" stroke-width="0.7"/>
<circle cx="452.80" cy="593.26" r="0.95" fill="#111"/>
<circle cx="451.80" cy="595.66" r="0.95" fill="#111"/>
<circle cx="454.30" cy="598.07" r="0.95" fill="#111"/>
<circle cx="452.80" cy="599.67" r="0.95" fill="#111"/>
<text x="445.00" y="549.00" font-size="7.5" fill="#1e1e1e" stroke="#1e1e1e" stroke-width="0.16" text-anchor="middle">CD25<tspan font-size="5" dy="-2.8">+</tspan><tspan dy="2.8">IFN&#947;</tspan><tspan font-size="5" dy="-2.8">+</tspan></text>
<line x1="376.70" y1="654.00" x2="376.70" y2="702.60" stroke="#222" stroke-width="0.9"/>
<line x1="376.70" y1="702.60" x2="410.20" y2="702.60" stroke="#222" stroke-width="0.9"/>
<line x1="374.50" y1="702.60" x2="376.70" y2="702.60" stroke="#222" stroke-width="0.8"/>
<text x="373.10" y="705.30" font-size="7.5" fill="#1e1e1e" stroke="#1e1e1e" stroke-width="0.16" text-anchor="end">0</text>
<line x1="374.50" y1="686.40" x2="376.70" y2="686.40" stroke="#222" stroke-width="0.8"/>
<text x="373.10" y="689.10" font-size="7.5" fill="#1e1e1e" stroke="#1e1e1e" stroke-width="0.16" text-anchor="end">20</text>
<line x1="374.50" y1="670.20" x2="376.70" y2="670.20" stroke="#222" stroke-width="0.8"/>
<text x="373.10" y="672.90" font-size="7.5" fill="#1e1e1e" stroke="#1e1e1e" stroke-width="0.16" text-anchor="end">40</text>
<line x1="374.50" y1="654.00" x2="376.70" y2="654.00" stroke="#222" stroke-width="0.8"/>
<text x="373.10" y="656.70" font-size="7.5" fill="#1e1e1e" stroke="#1e1e1e" stroke-width="0.16" text-anchor="end">60</text>
<rect x="381.70" y="675.87" width="9.40" height="26.73" fill="#d8d8db" stroke="#222" stroke-width="0.8"/>
<line x1="386.40" y1="675.87" x2="386.40" y2="673.44" stroke="#222" stroke-width="0.7"/>
<line x1="384.60" y1="673.44" x2="388.20" y2="673.44" stroke="#222" stroke-width="0.7"/>
<circle cx="384.40" cy="673.44" r="0.95" fill="#111"/>
<circle cx="387.90" cy="671.82" r="0.95" fill="#111"/>
<circle cx="385.40" cy="678.30" r="0.95" fill="#111"/>
<circle cx="386.90" cy="681.54" r="0.95" fill="#111"/>
<circle cx="388.40" cy="675.87" r="0.95" fill="#111"/>
<rect x="395.60" y="667.77" width="9.40" height="34.83" fill="#5270bc" stroke="#222" stroke-width="0.8"/>
<line x1="400.30" y1="667.77" x2="400.30" y2="665.34" stroke="#222" stroke-width="0.7"/>
<line x1="398.50" y1="665.34" x2="402.10" y2="665.34" stroke="#222" stroke-width="0.7"/>
<circle cx="400.30" cy="662.91" r="0.95" fill="#111"/>
<circle cx="398.80" cy="667.77" r="0.95" fill="#111"/>
<circle cx="401.80" cy="669.39" r="0.95" fill="#111"/>
<circle cx="400.30" cy="671.82" r="0.95" fill="#111"/>
<path d="M386.4,656.2 L386.4,650.2 L400.3,650.2 L400.3,655.2" fill="none" stroke="#333" stroke-width="0.7"/>
<circle cx="393.30" cy="645.20" r="1.35" fill="#1a1a1a"/>
<text x="389.00" y="637.30" font-size="7.5" fill="#1e1e1e" stroke="#1e1e1e" stroke-width="0.16" text-anchor="middle">I-A/I-B<tspan font-size="5" dy="-2.8">+</tspan><tspan dy="2.8">IFN&#947;</tspan><tspan font-size="5" dy="-2.8">+</tspan></text>
<line x1="427.70" y1="654.80" x2="427.70" y2="702.50" stroke="#222" stroke-width="0.9"/>
<line x1="427.70" y1="702.50" x2="461.20" y2="702.50" stroke="#222" stroke-width="0.9"/>
<line x1="425.50" y1="702.50" x2="427.70" y2="702.50" stroke="#222" stroke-width="0.8"/>
<line x1="425.50" y1="686.60" x2="427.70" y2="686.60" stroke="#222" stroke-width="0.8"/>
<line x1="425.50" y1="670.70" x2="427.70" y2="670.70" stroke="#222" stroke-width="0.8"/>
<line x1="425.50" y1="654.80" x2="427.70" y2="654.80" stroke="#222" stroke-width="0.8"/>
<rect x="432.70" y="686.60" width="9.40" height="15.90" fill="#d8d8db" stroke="#222" stroke-width="0.8"/>
<line x1="437.40" y1="686.60" x2="437.40" y2="684.22" stroke="#222" stroke-width="0.7"/>
<line x1="435.60" y1="684.22" x2="439.20" y2="684.22" stroke="#222" stroke-width="0.7"/>
<circle cx="437.40" cy="684.22" r="0.95" fill="#111"/>
<circle cx="435.90" cy="686.60" r="0.95" fill="#111"/>
<circle cx="438.90" cy="688.99" r="0.95" fill="#111"/>
<circle cx="437.40" cy="692.96" r="0.95" fill="#111"/>
<rect x="446.60" y="678.65" width="9.40" height="23.85" fill="#5270bc" stroke="#222" stroke-width="0.8"/>
<line x1="451.30" y1="678.65" x2="451.30" y2="676.26" stroke="#222" stroke-width="0.7"/>
<line x1="449.50" y1="676.26" x2="453.10" y2="676.26" stroke="#222" stroke-width="0.7"/>
<circle cx="451.30" cy="673.88" r="0.95" fill="#111"/>
<circle cx="450.30" cy="676.26" r="0.95" fill="#111"/>
<circle cx="452.80" cy="680.24" r="0.95" fill="#111"/>
<circle cx="451.30" cy="682.62" r="0.95" fill="#111"/>
<path d="M437.4,675.0 L437.4,660.2 L451.3,660.2 L451.3,674.0" fill="none" stroke="#333" stroke-width="0.7"/>
<circle cx="444.30" cy="655.20" r="1.35" fill="#1a1a1a"/>
<text x="445.00" y="637.30" font-size="7.5" fill="#1e1e1e" stroke="#1e1e1e" stroke-width="0.16" text-anchor="middle">CD62L<tspan font-size="5" dy="-2.8">&#8722;</tspan><tspan dy="2.8">CD44</tspan><tspan font-size="5" dy="-2.8">+</tspan></text>
<text x="445.00" y="646.00" font-size="7.5" fill="#1e1e1e" stroke="#1e1e1e" stroke-width="0.16" text-anchor="middle">IFN&#947;<tspan font-size="5" dy="-2.8">+</tspan></text>
<text x="356.50" y="587.50" font-size="7.5" fill="#1e1e1e" stroke="#1e1e1e" stroke-width="0.16" text-anchor="middle" transform="rotate(-90 356.50 587.50)">% of CD8 T cells</text>
<text x="356.80" y="677.00" font-size="7.5" fill="#1e1e1e" stroke="#1e1e1e" stroke-width="0.16" text-anchor="middle" transform="rotate(-90 356.80 677.00)">% of CD8 T cells</text>
<rect x="472.90" y="607.30" width="47.60" height="29.60" fill="none" stroke="#555" stroke-width="0.9"/>
<text x="477.70" y="617.70" font-size="7.5" fill="#1e1e1e" stroke="#1e1e1e" stroke-width="0.16">Vehicle</text>
<text x="475.80" y="631.90" font-size="7.5" fill="#6270b6" stroke="#6270b6" stroke-width="0.16">SenB16F10</text>
</svg>
</body></html>
